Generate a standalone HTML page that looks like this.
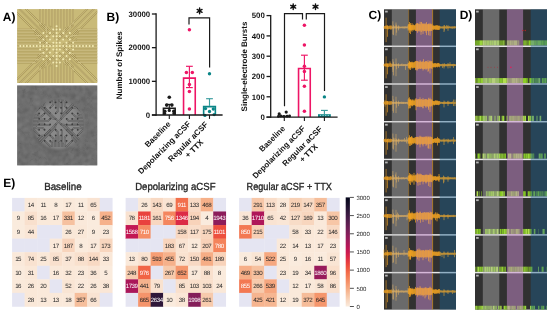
<!DOCTYPE html><html><head><meta charset="utf-8"><style>html,body{margin:0;padding:0;background:#fff;width:550px;height:315px;overflow:hidden}svg{display:block;will-change:transform;filter:blur(0.3px)}text{font-family:"Liberation Sans",sans-serif;text-rendering:geometricPrecision}</style></head><body>
<svg width="550" height="315" viewBox="0 0 550 315">
<rect width="550" height="315" fill="#fff"/>
<text x="2.8" y="20.6" font-size="12" font-weight="bold" fill="#000">A)</text>
<text x="106.6" y="20.6" font-size="12" font-weight="bold" fill="#000">B)</text>
<text x="368.6" y="19.3" font-size="12" font-weight="bold" fill="#000">C)</text>
<text x="459.7" y="18.9" font-size="12" font-weight="bold" fill="#000">D)</text>
<text x="3.2" y="187.1" font-size="12" font-weight="bold" fill="#000">E)</text>
<defs><clipPath id="gclip"><rect x="17.1" y="9.1" width="80.2" height="73.9"/></clipPath><clipPath id="pclip"><rect x="17.1" y="85.4" width="80.2" height="80.0"/></clipPath><clipPath id="oclip"><circle cx="58.3" cy="124.8" r="25.5"/></clipPath><filter id="blr" x="-5%" y="-5%" width="110%" height="110%"><feGaussianBlur stdDeviation="0.5"/></filter><filter id="blr2" x="-5%" y="-5%" width="110%" height="110%"><feGaussianBlur stdDeviation="0.8"/></filter><filter id="grain" x="0" y="0" width="100%" height="100%"><feTurbulence type="fractalNoise" baseFrequency="0.35" numOctaves="2" seed="5"/><feColorMatrix type="matrix" values="0 0 0 0 0  0 0 0 0 0  0 0 0 0 0  -1.2 0 0 0 0.9"/></filter><radialGradient id="ograd" cx="0.5" cy="0.5" r="0.5"><stop offset="0" stop-color="#8e8e8e"/><stop offset="0.8" stop-color="#8e8e8e"/><stop offset="1" stop-color="#777777"/></radialGradient></defs>
<rect x="17.1" y="9.1" width="80.2" height="73.9" fill="#c9ba78"/>
<g clip-path="url(#gclip)"><g filter="url(#blr)">
<path d="M41.55,35.35L35.80,29.60L-3.40,29.60M41.55,39.65L34.50,32.60L-3.40,32.60M45.85,39.65L41.80,35.60L-3.40,35.60M41.55,43.95L36.20,38.60L-3.40,38.60M45.85,43.95L43.50,41.60L-3.40,41.60M50.15,43.95L49.50,44.60L-3.40,44.60M41.55,48.25L40.90,47.60L-3.40,47.60M45.85,48.25L43.50,50.60L-3.40,50.60M50.15,48.25L44.80,53.60L-3.40,53.60M41.55,52.55L37.50,56.60L-3.40,56.60M45.85,52.55L38.80,59.60L-3.40,59.60M41.55,56.85L35.80,62.60L-3.40,62.60M45.85,31.05L40.10,25.30L40.10,-13.90M50.15,31.05L43.10,24.00L43.10,-13.90M50.15,35.35L46.10,31.30L46.10,-13.90M54.45,31.05L49.10,25.70L49.10,-13.90M54.45,35.35L52.10,33.00L52.10,-13.90M54.45,39.65L55.10,39.00L55.10,-13.90M58.75,31.05L58.10,30.40L58.10,-13.90M58.75,35.35L61.10,33.00L61.10,-13.90M58.75,39.65L64.10,34.30L64.10,-13.90M63.05,31.05L67.10,27.00L67.10,-13.90M63.05,35.35L70.10,28.30L70.10,-13.90M67.35,31.05L73.10,25.30L73.10,-13.90M71.65,35.35L77.40,29.60L116.60,29.60M71.65,39.65L78.70,32.60L116.60,32.60M67.35,39.65L71.40,35.60L116.60,35.60M71.65,43.95L77.00,38.60L116.60,38.60M67.35,43.95L69.70,41.60L116.60,41.60M63.05,43.95L63.70,44.60L116.60,44.60M71.65,48.25L72.30,47.60L116.60,47.60M67.35,48.25L69.70,50.60L116.60,50.60M63.05,48.25L68.40,53.60L116.60,53.60M71.65,52.55L75.70,56.60L116.60,56.60M67.35,52.55L74.40,59.60L116.60,59.60M71.65,56.85L77.40,62.60L116.60,62.60M45.85,61.15L40.10,66.90L40.10,106.10M50.15,61.15L43.10,68.20L43.10,106.10M50.15,56.85L46.10,60.90L46.10,106.10M54.45,61.15L49.10,66.50L49.10,106.10M54.45,56.85L52.10,59.20L52.10,106.10M54.45,52.55L55.10,53.20L55.10,106.10M58.75,61.15L58.10,61.80L58.10,106.10M58.75,56.85L61.10,59.20L61.10,106.10M58.75,52.55L64.10,57.90L64.10,106.10M63.05,61.15L67.10,65.20L67.10,106.10M63.05,56.85L70.10,63.90L70.10,106.10M67.35,61.15L73.10,66.90L73.10,106.10M45.85,35.35L47.10,30.10L-0.15,-17.15M45.85,56.85L40.60,55.60L-6.65,102.85M50.15,39.65L48.15,37.65L-3.40,-13.90M50.15,52.55L48.15,54.55L-3.40,106.10M54.45,43.95L49.20,45.20L-6.65,-10.65M54.45,48.25L55.70,53.50L-0.15,109.35M58.75,43.95L57.50,38.70L113.35,-17.15M58.75,48.25L64.00,47.00L119.85,102.85M63.05,39.65L65.05,37.65L116.60,-13.90M63.05,52.55L65.05,54.55L116.60,106.10M67.35,35.35L72.60,36.60L119.85,-10.65M67.35,56.85L66.10,62.10L113.35,109.35" stroke="#9c8a4c" stroke-width="1.7" fill="none" opacity="0.8"/>
<path d="M41.55,35.35L35.80,29.60L-3.40,29.60M41.55,39.65L34.50,32.60L-3.40,32.60M45.85,39.65L41.80,35.60L-3.40,35.60M41.55,43.95L36.20,38.60L-3.40,38.60M45.85,43.95L43.50,41.60L-3.40,41.60M50.15,43.95L49.50,44.60L-3.40,44.60M41.55,48.25L40.90,47.60L-3.40,47.60M45.85,48.25L43.50,50.60L-3.40,50.60M50.15,48.25L44.80,53.60L-3.40,53.60M41.55,52.55L37.50,56.60L-3.40,56.60M45.85,52.55L38.80,59.60L-3.40,59.60M41.55,56.85L35.80,62.60L-3.40,62.60M45.85,31.05L40.10,25.30L40.10,-13.90M50.15,31.05L43.10,24.00L43.10,-13.90M50.15,35.35L46.10,31.30L46.10,-13.90M54.45,31.05L49.10,25.70L49.10,-13.90M54.45,35.35L52.10,33.00L52.10,-13.90M54.45,39.65L55.10,39.00L55.10,-13.90M58.75,31.05L58.10,30.40L58.10,-13.90M58.75,35.35L61.10,33.00L61.10,-13.90M58.75,39.65L64.10,34.30L64.10,-13.90M63.05,31.05L67.10,27.00L67.10,-13.90M63.05,35.35L70.10,28.30L70.10,-13.90M67.35,31.05L73.10,25.30L73.10,-13.90M71.65,35.35L77.40,29.60L116.60,29.60M71.65,39.65L78.70,32.60L116.60,32.60M67.35,39.65L71.40,35.60L116.60,35.60M71.65,43.95L77.00,38.60L116.60,38.60M67.35,43.95L69.70,41.60L116.60,41.60M63.05,43.95L63.70,44.60L116.60,44.60M71.65,48.25L72.30,47.60L116.60,47.60M67.35,48.25L69.70,50.60L116.60,50.60M63.05,48.25L68.40,53.60L116.60,53.60M71.65,52.55L75.70,56.60L116.60,56.60M67.35,52.55L74.40,59.60L116.60,59.60M71.65,56.85L77.40,62.60L116.60,62.60M45.85,61.15L40.10,66.90L40.10,106.10M50.15,61.15L43.10,68.20L43.10,106.10M50.15,56.85L46.10,60.90L46.10,106.10M54.45,61.15L49.10,66.50L49.10,106.10M54.45,56.85L52.10,59.20L52.10,106.10M54.45,52.55L55.10,53.20L55.10,106.10M58.75,61.15L58.10,61.80L58.10,106.10M58.75,56.85L61.10,59.20L61.10,106.10M58.75,52.55L64.10,57.90L64.10,106.10M63.05,61.15L67.10,65.20L67.10,106.10M63.05,56.85L70.10,63.90L70.10,106.10M67.35,61.15L73.10,66.90L73.10,106.10M45.85,35.35L47.10,30.10L-0.15,-17.15M45.85,56.85L40.60,55.60L-6.65,102.85M50.15,39.65L48.15,37.65L-3.40,-13.90M50.15,52.55L48.15,54.55L-3.40,106.10M54.45,43.95L49.20,45.20L-6.65,-10.65M54.45,48.25L55.70,53.50L-0.15,109.35M58.75,43.95L57.50,38.70L113.35,-17.15M58.75,48.25L64.00,47.00L119.85,102.85M63.05,39.65L65.05,37.65L116.60,-13.90M63.05,52.55L65.05,54.55L116.60,106.10M67.35,35.35L72.60,36.60L119.85,-10.65M67.35,56.85L66.10,62.10L113.35,109.35" stroke="#d8cb90" stroke-width="0.75" fill="none"/>
<path d="M19.30,46.10a1.0,1.0 0 1,0 2.0,0a1.0,1.0 0 1,0 -2.0,0M22.60,46.10a1.0,1.0 0 1,0 2.0,0a1.0,1.0 0 1,0 -2.0,0M25.90,46.10a1.0,1.0 0 1,0 2.0,0a1.0,1.0 0 1,0 -2.0,0M29.20,46.10a1.0,1.0 0 1,0 2.0,0a1.0,1.0 0 1,0 -2.0,0M32.50,46.10a1.0,1.0 0 1,0 2.0,0a1.0,1.0 0 1,0 -2.0,0M35.80,46.10a1.0,1.0 0 1,0 2.0,0a1.0,1.0 0 1,0 -2.0,0M39.10,42.80a1.0,1.0 0 1,0 2.0,0a1.0,1.0 0 1,0 -2.0,0M39.10,46.10a1.0,1.0 0 1,0 2.0,0a1.0,1.0 0 1,0 -2.0,0M39.10,49.40a1.0,1.0 0 1,0 2.0,0a1.0,1.0 0 1,0 -2.0,0M42.40,32.90a1.0,1.0 0 1,0 2.0,0a1.0,1.0 0 1,0 -2.0,0M42.40,39.50a1.0,1.0 0 1,0 2.0,0a1.0,1.0 0 1,0 -2.0,0M42.40,46.10a1.0,1.0 0 1,0 2.0,0a1.0,1.0 0 1,0 -2.0,0M42.40,52.70a1.0,1.0 0 1,0 2.0,0a1.0,1.0 0 1,0 -2.0,0M42.40,59.30a1.0,1.0 0 1,0 2.0,0a1.0,1.0 0 1,0 -2.0,0M45.70,36.20a1.0,1.0 0 1,0 2.0,0a1.0,1.0 0 1,0 -2.0,0M45.70,42.80a1.0,1.0 0 1,0 2.0,0a1.0,1.0 0 1,0 -2.0,0M45.70,46.10a1.0,1.0 0 1,0 2.0,0a1.0,1.0 0 1,0 -2.0,0M45.70,49.40a1.0,1.0 0 1,0 2.0,0a1.0,1.0 0 1,0 -2.0,0M45.70,56.00a1.0,1.0 0 1,0 2.0,0a1.0,1.0 0 1,0 -2.0,0M49.00,32.90a1.0,1.0 0 1,0 2.0,0a1.0,1.0 0 1,0 -2.0,0M49.00,39.50a1.0,1.0 0 1,0 2.0,0a1.0,1.0 0 1,0 -2.0,0M49.00,46.10a1.0,1.0 0 1,0 2.0,0a1.0,1.0 0 1,0 -2.0,0M49.00,52.70a1.0,1.0 0 1,0 2.0,0a1.0,1.0 0 1,0 -2.0,0M49.00,59.30a1.0,1.0 0 1,0 2.0,0a1.0,1.0 0 1,0 -2.0,0M52.30,29.60a1.0,1.0 0 1,0 2.0,0a1.0,1.0 0 1,0 -2.0,0M52.30,36.20a1.0,1.0 0 1,0 2.0,0a1.0,1.0 0 1,0 -2.0,0M52.30,42.80a1.0,1.0 0 1,0 2.0,0a1.0,1.0 0 1,0 -2.0,0M52.30,46.10a1.0,1.0 0 1,0 2.0,0a1.0,1.0 0 1,0 -2.0,0M52.30,49.40a1.0,1.0 0 1,0 2.0,0a1.0,1.0 0 1,0 -2.0,0M52.30,56.00a1.0,1.0 0 1,0 2.0,0a1.0,1.0 0 1,0 -2.0,0M52.30,62.60a1.0,1.0 0 1,0 2.0,0a1.0,1.0 0 1,0 -2.0,0M55.60,26.30a1.0,1.0 0 1,0 2.0,0a1.0,1.0 0 1,0 -2.0,0M55.60,29.60a1.0,1.0 0 1,0 2.0,0a1.0,1.0 0 1,0 -2.0,0M55.60,32.90a1.0,1.0 0 1,0 2.0,0a1.0,1.0 0 1,0 -2.0,0M55.60,36.20a1.0,1.0 0 1,0 2.0,0a1.0,1.0 0 1,0 -2.0,0M55.60,39.50a1.0,1.0 0 1,0 2.0,0a1.0,1.0 0 1,0 -2.0,0M55.60,42.80a1.0,1.0 0 1,0 2.0,0a1.0,1.0 0 1,0 -2.0,0M55.60,46.10a1.0,1.0 0 1,0 2.0,0a1.0,1.0 0 1,0 -2.0,0M55.60,49.40a1.0,1.0 0 1,0 2.0,0a1.0,1.0 0 1,0 -2.0,0M55.60,52.70a1.0,1.0 0 1,0 2.0,0a1.0,1.0 0 1,0 -2.0,0M55.60,56.00a1.0,1.0 0 1,0 2.0,0a1.0,1.0 0 1,0 -2.0,0M55.60,59.30a1.0,1.0 0 1,0 2.0,0a1.0,1.0 0 1,0 -2.0,0M55.60,62.60a1.0,1.0 0 1,0 2.0,0a1.0,1.0 0 1,0 -2.0,0M55.60,65.90a1.0,1.0 0 1,0 2.0,0a1.0,1.0 0 1,0 -2.0,0M58.90,29.60a1.0,1.0 0 1,0 2.0,0a1.0,1.0 0 1,0 -2.0,0M58.90,36.20a1.0,1.0 0 1,0 2.0,0a1.0,1.0 0 1,0 -2.0,0M58.90,42.80a1.0,1.0 0 1,0 2.0,0a1.0,1.0 0 1,0 -2.0,0M58.90,46.10a1.0,1.0 0 1,0 2.0,0a1.0,1.0 0 1,0 -2.0,0M58.90,49.40a1.0,1.0 0 1,0 2.0,0a1.0,1.0 0 1,0 -2.0,0M58.90,56.00a1.0,1.0 0 1,0 2.0,0a1.0,1.0 0 1,0 -2.0,0M58.90,62.60a1.0,1.0 0 1,0 2.0,0a1.0,1.0 0 1,0 -2.0,0M62.20,32.90a1.0,1.0 0 1,0 2.0,0a1.0,1.0 0 1,0 -2.0,0M62.20,39.50a1.0,1.0 0 1,0 2.0,0a1.0,1.0 0 1,0 -2.0,0M62.20,46.10a1.0,1.0 0 1,0 2.0,0a1.0,1.0 0 1,0 -2.0,0M62.20,52.70a1.0,1.0 0 1,0 2.0,0a1.0,1.0 0 1,0 -2.0,0M62.20,59.30a1.0,1.0 0 1,0 2.0,0a1.0,1.0 0 1,0 -2.0,0M65.50,36.20a1.0,1.0 0 1,0 2.0,0a1.0,1.0 0 1,0 -2.0,0M65.50,42.80a1.0,1.0 0 1,0 2.0,0a1.0,1.0 0 1,0 -2.0,0M65.50,46.10a1.0,1.0 0 1,0 2.0,0a1.0,1.0 0 1,0 -2.0,0M65.50,49.40a1.0,1.0 0 1,0 2.0,0a1.0,1.0 0 1,0 -2.0,0M65.50,56.00a1.0,1.0 0 1,0 2.0,0a1.0,1.0 0 1,0 -2.0,0M68.80,32.90a1.0,1.0 0 1,0 2.0,0a1.0,1.0 0 1,0 -2.0,0M68.80,39.50a1.0,1.0 0 1,0 2.0,0a1.0,1.0 0 1,0 -2.0,0M68.80,46.10a1.0,1.0 0 1,0 2.0,0a1.0,1.0 0 1,0 -2.0,0M68.80,52.70a1.0,1.0 0 1,0 2.0,0a1.0,1.0 0 1,0 -2.0,0M68.80,59.30a1.0,1.0 0 1,0 2.0,0a1.0,1.0 0 1,0 -2.0,0M72.10,42.80a1.0,1.0 0 1,0 2.0,0a1.0,1.0 0 1,0 -2.0,0M72.10,46.10a1.0,1.0 0 1,0 2.0,0a1.0,1.0 0 1,0 -2.0,0M72.10,49.40a1.0,1.0 0 1,0 2.0,0a1.0,1.0 0 1,0 -2.0,0M75.40,46.10a1.0,1.0 0 1,0 2.0,0a1.0,1.0 0 1,0 -2.0,0M78.70,46.10a1.0,1.0 0 1,0 2.0,0a1.0,1.0 0 1,0 -2.0,0M82.00,46.10a1.0,1.0 0 1,0 2.0,0a1.0,1.0 0 1,0 -2.0,0M85.30,46.10a1.0,1.0 0 1,0 2.0,0a1.0,1.0 0 1,0 -2.0,0M88.60,46.10a1.0,1.0 0 1,0 2.0,0a1.0,1.0 0 1,0 -2.0,0M91.90,46.10a1.0,1.0 0 1,0 2.0,0a1.0,1.0 0 1,0 -2.0,0" fill="#f3ebb5"/>
</g></g>
<rect x="17.1" y="85.4" width="80.2" height="80.0" fill="#777777"/>
<g clip-path="url(#pclip)">
<g filter="url(#blr2)">
<circle cx="36.2" cy="128.9" r="1.3" fill="#686868" opacity="0.45"/>
<circle cx="55.1" cy="131.9" r="1.7" fill="#909090" opacity="0.45"/>
<circle cx="37.9" cy="104.1" r="2.4" fill="#909090" opacity="0.45"/>
<circle cx="60.5" cy="129.4" r="1.3" fill="#8a8a8a" opacity="0.45"/>
<circle cx="35.7" cy="97.5" r="2.3" fill="#909090" opacity="0.45"/>
<circle cx="76.5" cy="139.1" r="0.7" fill="#686868" opacity="0.45"/>
<circle cx="20.5" cy="147.8" r="2.1" fill="#747474" opacity="0.45"/>
<circle cx="55.0" cy="142.9" r="2.2" fill="#858585" opacity="0.45"/>
<circle cx="80.3" cy="119.6" r="1.9" fill="#686868" opacity="0.45"/>
<circle cx="52.8" cy="160.2" r="2.2" fill="#6e6e6e" opacity="0.45"/>
<circle cx="20.0" cy="125.0" r="1.1" fill="#858585" opacity="0.45"/>
<circle cx="52.1" cy="135.5" r="1.1" fill="#686868" opacity="0.45"/>
<circle cx="83.9" cy="131.3" r="1.6" fill="#909090" opacity="0.45"/>
<circle cx="64.0" cy="157.7" r="1.8" fill="#6e6e6e" opacity="0.45"/>
<circle cx="85.8" cy="164.7" r="1.8" fill="#8a8a8a" opacity="0.45"/>
<circle cx="73.1" cy="111.5" r="1.6" fill="#686868" opacity="0.45"/>
<circle cx="62.7" cy="142.5" r="1.0" fill="#686868" opacity="0.45"/>
<circle cx="38.5" cy="95.4" r="1.5" fill="#858585" opacity="0.45"/>
<circle cx="96.5" cy="92.5" r="2.0" fill="#909090" opacity="0.45"/>
<circle cx="89.0" cy="87.0" r="1.4" fill="#909090" opacity="0.45"/>
<circle cx="87.1" cy="88.9" r="1.7" fill="#6e6e6e" opacity="0.45"/>
<circle cx="47.4" cy="132.3" r="1.6" fill="#747474" opacity="0.45"/>
<circle cx="57.6" cy="165.3" r="1.2" fill="#6e6e6e" opacity="0.45"/>
<circle cx="25.8" cy="128.2" r="2.3" fill="#909090" opacity="0.45"/>
<circle cx="40.5" cy="106.5" r="1.8" fill="#747474" opacity="0.45"/>
<circle cx="42.3" cy="162.1" r="2.2" fill="#909090" opacity="0.45"/>
<circle cx="47.3" cy="155.0" r="1.3" fill="#686868" opacity="0.45"/>
<circle cx="71.7" cy="93.6" r="2.4" fill="#686868" opacity="0.45"/>
<circle cx="38.9" cy="136.1" r="1.9" fill="#747474" opacity="0.45"/>
<circle cx="52.2" cy="106.1" r="1.1" fill="#747474" opacity="0.45"/>
<circle cx="18.0" cy="118.6" r="1.6" fill="#6e6e6e" opacity="0.45"/>
<circle cx="47.3" cy="132.5" r="0.8" fill="#858585" opacity="0.45"/>
<circle cx="67.4" cy="122.7" r="1.8" fill="#747474" opacity="0.45"/>
<circle cx="65.9" cy="107.7" r="1.5" fill="#686868" opacity="0.45"/>
<circle cx="22.0" cy="139.5" r="2.3" fill="#747474" opacity="0.45"/>
<circle cx="67.5" cy="109.3" r="1.7" fill="#8a8a8a" opacity="0.45"/>
<circle cx="46.3" cy="110.4" r="1.3" fill="#686868" opacity="0.45"/>
<circle cx="38.3" cy="148.4" r="0.8" fill="#6e6e6e" opacity="0.45"/>
<circle cx="95.0" cy="140.1" r="0.8" fill="#686868" opacity="0.45"/>
<circle cx="34.9" cy="149.7" r="1.0" fill="#8a8a8a" opacity="0.45"/>
<circle cx="71.5" cy="137.4" r="0.8" fill="#686868" opacity="0.45"/>
<circle cx="42.9" cy="112.1" r="2.1" fill="#909090" opacity="0.45"/>
<circle cx="82.0" cy="162.3" r="0.7" fill="#858585" opacity="0.45"/>
<circle cx="69.2" cy="156.2" r="1.4" fill="#8a8a8a" opacity="0.45"/>
<circle cx="80.2" cy="88.1" r="2.3" fill="#747474" opacity="0.45"/>
<circle cx="81.8" cy="152.5" r="0.9" fill="#747474" opacity="0.45"/>
<circle cx="44.4" cy="151.6" r="0.8" fill="#686868" opacity="0.45"/>
<circle cx="44.8" cy="95.8" r="1.1" fill="#747474" opacity="0.45"/>
<circle cx="54.4" cy="136.1" r="1.1" fill="#686868" opacity="0.45"/>
<circle cx="49.9" cy="159.0" r="0.9" fill="#6e6e6e" opacity="0.45"/>
<circle cx="55.4" cy="152.0" r="1.7" fill="#686868" opacity="0.45"/>
<circle cx="51.9" cy="161.4" r="2.3" fill="#8a8a8a" opacity="0.45"/>
<circle cx="19.7" cy="121.9" r="2.0" fill="#858585" opacity="0.45"/>
<circle cx="58.7" cy="108.5" r="1.2" fill="#8a8a8a" opacity="0.45"/>
<circle cx="86.2" cy="154.0" r="2.3" fill="#6e6e6e" opacity="0.45"/>
<circle cx="82.1" cy="89.0" r="2.2" fill="#858585" opacity="0.45"/>
<circle cx="58.2" cy="101.3" r="2.2" fill="#909090" opacity="0.45"/>
<circle cx="63.4" cy="86.5" r="1.9" fill="#8a8a8a" opacity="0.45"/>
<circle cx="57.5" cy="104.5" r="0.6" fill="#686868" opacity="0.45"/>
<circle cx="50.3" cy="160.5" r="1.7" fill="#747474" opacity="0.45"/>
<circle cx="27.2" cy="163.2" r="1.6" fill="#6e6e6e" opacity="0.45"/>
<circle cx="45.3" cy="101.2" r="1.6" fill="#6e6e6e" opacity="0.45"/>
<circle cx="30.8" cy="148.7" r="2.3" fill="#8a8a8a" opacity="0.45"/>
<circle cx="83.1" cy="86.0" r="1.7" fill="#909090" opacity="0.45"/>
<circle cx="21.1" cy="107.1" r="1.1" fill="#686868" opacity="0.45"/>
<circle cx="58.8" cy="89.5" r="1.2" fill="#6e6e6e" opacity="0.45"/>
<circle cx="85.8" cy="147.4" r="0.7" fill="#6e6e6e" opacity="0.45"/>
<circle cx="22.6" cy="163.4" r="2.1" fill="#6e6e6e" opacity="0.45"/>
<circle cx="58.4" cy="124.6" r="0.9" fill="#6e6e6e" opacity="0.45"/>
<circle cx="45.3" cy="137.2" r="1.7" fill="#747474" opacity="0.45"/>
<circle cx="38.3" cy="164.4" r="1.4" fill="#8a8a8a" opacity="0.45"/>
<circle cx="61.7" cy="142.7" r="1.3" fill="#6e6e6e" opacity="0.45"/>
<circle cx="62.6" cy="88.8" r="1.4" fill="#858585" opacity="0.45"/>
<circle cx="79.9" cy="115.8" r="2.0" fill="#686868" opacity="0.45"/>
<circle cx="88.2" cy="89.6" r="1.7" fill="#858585" opacity="0.45"/>
<circle cx="42.4" cy="161.4" r="1.4" fill="#6e6e6e" opacity="0.45"/>
<circle cx="36.8" cy="128.3" r="1.9" fill="#6e6e6e" opacity="0.45"/>
<circle cx="81.5" cy="103.4" r="0.8" fill="#6e6e6e" opacity="0.45"/>
<circle cx="92.2" cy="115.3" r="2.2" fill="#747474" opacity="0.45"/>
<circle cx="26.8" cy="140.6" r="2.3" fill="#858585" opacity="0.45"/>
<circle cx="70.2" cy="156.4" r="2.0" fill="#858585" opacity="0.45"/>
<circle cx="25.8" cy="110.9" r="1.6" fill="#686868" opacity="0.45"/>
<circle cx="74.6" cy="123.3" r="1.0" fill="#909090" opacity="0.45"/>
<circle cx="20.7" cy="92.7" r="0.8" fill="#909090" opacity="0.45"/>
<circle cx="31.5" cy="87.3" r="2.1" fill="#6e6e6e" opacity="0.45"/>
<circle cx="19.1" cy="94.6" r="1.5" fill="#858585" opacity="0.45"/>
<circle cx="93.5" cy="131.7" r="2.0" fill="#6e6e6e" opacity="0.45"/>
<circle cx="97.0" cy="130.5" r="1.6" fill="#8a8a8a" opacity="0.45"/>
<circle cx="25.7" cy="145.3" r="2.3" fill="#6e6e6e" opacity="0.45"/>
<circle cx="61.2" cy="155.0" r="0.9" fill="#6e6e6e" opacity="0.45"/>
<circle cx="36.5" cy="99.8" r="1.0" fill="#686868" opacity="0.45"/>
<circle cx="73.2" cy="160.8" r="1.1" fill="#686868" opacity="0.45"/>
<circle cx="48.9" cy="113.4" r="1.4" fill="#6e6e6e" opacity="0.45"/>
<circle cx="47.2" cy="104.2" r="2.3" fill="#858585" opacity="0.45"/>
<circle cx="94.7" cy="118.6" r="1.6" fill="#686868" opacity="0.45"/>
<circle cx="71.1" cy="126.8" r="1.5" fill="#858585" opacity="0.45"/>
<circle cx="49.3" cy="156.4" r="0.9" fill="#909090" opacity="0.45"/>
<circle cx="77.1" cy="158.7" r="1.5" fill="#909090" opacity="0.45"/>
<circle cx="64.1" cy="154.0" r="0.8" fill="#8a8a8a" opacity="0.45"/>
<circle cx="28.9" cy="126.6" r="2.3" fill="#858585" opacity="0.45"/>
<circle cx="60.3" cy="147.8" r="1.8" fill="#909090" opacity="0.45"/>
<circle cx="64.8" cy="132.2" r="2.4" fill="#8a8a8a" opacity="0.45"/>
<circle cx="41.7" cy="106.8" r="2.0" fill="#8a8a8a" opacity="0.45"/>
<circle cx="30.9" cy="114.2" r="1.2" fill="#8a8a8a" opacity="0.45"/>
<circle cx="50.7" cy="141.2" r="1.9" fill="#8a8a8a" opacity="0.45"/>
<circle cx="54.6" cy="152.2" r="2.1" fill="#686868" opacity="0.45"/>
<circle cx="19.3" cy="164.8" r="0.7" fill="#909090" opacity="0.45"/>
<circle cx="79.9" cy="155.9" r="0.7" fill="#8a8a8a" opacity="0.45"/>
<circle cx="88.6" cy="137.3" r="2.0" fill="#6e6e6e" opacity="0.45"/>
<circle cx="94.0" cy="153.7" r="1.0" fill="#8a8a8a" opacity="0.45"/>
<circle cx="79.3" cy="96.4" r="1.7" fill="#858585" opacity="0.45"/>
<circle cx="86.0" cy="157.4" r="1.1" fill="#6e6e6e" opacity="0.45"/>
<circle cx="42.2" cy="119.3" r="1.9" fill="#6e6e6e" opacity="0.45"/>
<circle cx="26.6" cy="106.5" r="2.2" fill="#6e6e6e" opacity="0.45"/>
<circle cx="45.7" cy="131.8" r="1.8" fill="#6e6e6e" opacity="0.45"/>
<circle cx="19.5" cy="111.9" r="1.3" fill="#6e6e6e" opacity="0.45"/>
<circle cx="33.9" cy="132.2" r="2.3" fill="#909090" opacity="0.45"/>
<circle cx="27.2" cy="110.9" r="2.2" fill="#6e6e6e" opacity="0.45"/>
<circle cx="70.5" cy="94.4" r="2.2" fill="#747474" opacity="0.45"/>
<circle cx="24.9" cy="160.7" r="1.3" fill="#747474" opacity="0.45"/>
<circle cx="77.8" cy="109.0" r="1.8" fill="#858585" opacity="0.45"/>
<circle cx="92.8" cy="150.8" r="0.8" fill="#747474" opacity="0.45"/>
<circle cx="71.1" cy="128.3" r="0.8" fill="#909090" opacity="0.45"/>
<circle cx="57.9" cy="90.2" r="1.1" fill="#858585" opacity="0.45"/>
<circle cx="62.5" cy="100.0" r="1.8" fill="#858585" opacity="0.45"/>
<circle cx="29.1" cy="115.1" r="2.3" fill="#909090" opacity="0.45"/>
<circle cx="27.0" cy="159.9" r="0.9" fill="#747474" opacity="0.45"/>
<circle cx="68.8" cy="137.4" r="1.4" fill="#747474" opacity="0.45"/>
<circle cx="69.0" cy="122.0" r="1.2" fill="#8a8a8a" opacity="0.45"/>
<circle cx="73.7" cy="94.0" r="0.9" fill="#686868" opacity="0.45"/>
<circle cx="60.7" cy="144.6" r="1.2" fill="#747474" opacity="0.45"/>
<circle cx="38.8" cy="89.7" r="0.8" fill="#909090" opacity="0.45"/>
<circle cx="57.6" cy="105.2" r="2.0" fill="#747474" opacity="0.45"/>
<circle cx="87.3" cy="161.0" r="1.4" fill="#6e6e6e" opacity="0.45"/>
<circle cx="45.4" cy="153.2" r="0.8" fill="#747474" opacity="0.45"/>
<circle cx="64.4" cy="139.9" r="1.6" fill="#858585" opacity="0.45"/>
<circle cx="26.1" cy="141.3" r="1.6" fill="#858585" opacity="0.45"/>
<circle cx="76.7" cy="150.7" r="1.9" fill="#686868" opacity="0.45"/>
<circle cx="65.9" cy="154.2" r="2.0" fill="#686868" opacity="0.45"/>
<circle cx="59.4" cy="130.9" r="1.0" fill="#747474" opacity="0.45"/>
<circle cx="46.7" cy="108.8" r="2.1" fill="#909090" opacity="0.45"/>
<circle cx="88.6" cy="161.3" r="1.3" fill="#686868" opacity="0.45"/>
<circle cx="89.8" cy="110.2" r="1.5" fill="#686868" opacity="0.45"/>
<circle cx="72.2" cy="109.4" r="2.1" fill="#909090" opacity="0.45"/>
<circle cx="19.5" cy="100.6" r="1.7" fill="#6e6e6e" opacity="0.45"/>
<circle cx="78.9" cy="138.4" r="1.5" fill="#686868" opacity="0.45"/>
<circle cx="67.2" cy="101.3" r="2.0" fill="#8a8a8a" opacity="0.45"/>
<circle cx="20.1" cy="125.4" r="1.8" fill="#909090" opacity="0.45"/>
<circle cx="26.0" cy="108.1" r="1.8" fill="#8a8a8a" opacity="0.45"/>
<circle cx="28.0" cy="148.8" r="1.7" fill="#6e6e6e" opacity="0.45"/>
<circle cx="19.1" cy="134.9" r="1.5" fill="#909090" opacity="0.45"/>
<circle cx="60.3" cy="159.8" r="1.2" fill="#747474" opacity="0.45"/>
<circle cx="72.8" cy="96.1" r="2.1" fill="#686868" opacity="0.45"/>
<circle cx="79.3" cy="88.1" r="0.7" fill="#747474" opacity="0.45"/>
<circle cx="97.1" cy="101.8" r="0.7" fill="#8a8a8a" opacity="0.45"/>
<circle cx="52.1" cy="145.9" r="1.5" fill="#6e6e6e" opacity="0.45"/>
<circle cx="80.2" cy="118.1" r="2.1" fill="#858585" opacity="0.45"/>
<circle cx="30.0" cy="125.2" r="1.9" fill="#686868" opacity="0.45"/>
<circle cx="85.4" cy="102.1" r="1.5" fill="#6e6e6e" opacity="0.45"/>
<circle cx="54.3" cy="146.0" r="1.3" fill="#8a8a8a" opacity="0.45"/>
<circle cx="53.6" cy="88.4" r="1.1" fill="#747474" opacity="0.45"/>
<circle cx="53.0" cy="114.3" r="1.3" fill="#6e6e6e" opacity="0.45"/>
<circle cx="81.6" cy="106.1" r="1.3" fill="#909090" opacity="0.45"/>
<circle cx="59.9" cy="98.1" r="0.6" fill="#686868" opacity="0.45"/>
<circle cx="49.5" cy="98.9" r="0.6" fill="#6e6e6e" opacity="0.45"/>
<circle cx="65.9" cy="120.8" r="0.9" fill="#6e6e6e" opacity="0.45"/>
<circle cx="49.4" cy="110.8" r="0.7" fill="#858585" opacity="0.45"/>
<circle cx="21.2" cy="117.7" r="1.3" fill="#6e6e6e" opacity="0.45"/>
<circle cx="90.0" cy="156.0" r="1.0" fill="#909090" opacity="0.45"/>
<circle cx="55.2" cy="98.6" r="1.7" fill="#747474" opacity="0.45"/>
<circle cx="90.3" cy="133.0" r="2.1" fill="#747474" opacity="0.45"/>
<circle cx="39.2" cy="148.4" r="1.4" fill="#747474" opacity="0.45"/>
<circle cx="56.3" cy="130.3" r="0.7" fill="#747474" opacity="0.45"/>
<circle cx="67.6" cy="113.0" r="0.8" fill="#858585" opacity="0.45"/>
<circle cx="52.0" cy="92.6" r="1.7" fill="#6e6e6e" opacity="0.45"/>
<circle cx="19.5" cy="92.6" r="0.9" fill="#6e6e6e" opacity="0.45"/>
<circle cx="55.7" cy="100.5" r="1.5" fill="#747474" opacity="0.45"/>
<circle cx="33.2" cy="163.3" r="1.5" fill="#909090" opacity="0.45"/>
<circle cx="90.7" cy="160.6" r="0.7" fill="#747474" opacity="0.45"/>
<circle cx="77.4" cy="135.9" r="1.3" fill="#747474" opacity="0.45"/>
<circle cx="31.9" cy="118.4" r="1.5" fill="#686868" opacity="0.45"/>
<circle cx="43.9" cy="139.8" r="2.3" fill="#8a8a8a" opacity="0.45"/>
<circle cx="84.3" cy="154.6" r="1.3" fill="#686868" opacity="0.45"/>
<circle cx="45.9" cy="100.1" r="2.0" fill="#909090" opacity="0.45"/>
<circle cx="35.5" cy="147.8" r="1.5" fill="#747474" opacity="0.45"/>
<circle cx="82.9" cy="126.0" r="2.0" fill="#858585" opacity="0.45"/>
<circle cx="73.0" cy="161.4" r="0.7" fill="#8a8a8a" opacity="0.45"/>
<circle cx="74.1" cy="87.2" r="1.4" fill="#858585" opacity="0.45"/>
<circle cx="71.4" cy="93.2" r="1.0" fill="#858585" opacity="0.45"/>
<circle cx="21.6" cy="134.4" r="0.7" fill="#909090" opacity="0.45"/>
<circle cx="89.0" cy="144.0" r="1.2" fill="#747474" opacity="0.45"/>
<circle cx="17.2" cy="101.0" r="2.0" fill="#6e6e6e" opacity="0.45"/>
<circle cx="44.2" cy="110.3" r="1.4" fill="#858585" opacity="0.45"/>
<circle cx="34.0" cy="140.5" r="2.4" fill="#858585" opacity="0.45"/>
<circle cx="28.6" cy="164.2" r="0.8" fill="#747474" opacity="0.45"/>
<circle cx="94.7" cy="103.0" r="1.6" fill="#909090" opacity="0.45"/>
<circle cx="57.6" cy="158.0" r="1.2" fill="#686868" opacity="0.45"/>
<circle cx="79.8" cy="122.8" r="1.7" fill="#6e6e6e" opacity="0.45"/>
<circle cx="83.3" cy="94.4" r="0.6" fill="#6e6e6e" opacity="0.45"/>
<circle cx="33.1" cy="156.9" r="0.8" fill="#909090" opacity="0.45"/>
<circle cx="49.1" cy="151.4" r="1.8" fill="#6e6e6e" opacity="0.45"/>
<circle cx="68.6" cy="146.3" r="2.2" fill="#747474" opacity="0.45"/>
<circle cx="49.4" cy="138.3" r="2.0" fill="#747474" opacity="0.45"/>
<circle cx="84.1" cy="133.0" r="2.1" fill="#8a8a8a" opacity="0.45"/>
<circle cx="26.5" cy="86.0" r="1.1" fill="#858585" opacity="0.45"/>
<circle cx="23.3" cy="113.1" r="1.5" fill="#6e6e6e" opacity="0.45"/>
<circle cx="91.2" cy="140.3" r="1.3" fill="#858585" opacity="0.45"/>
<circle cx="22.5" cy="126.9" r="1.0" fill="#6e6e6e" opacity="0.45"/>
<circle cx="44.0" cy="119.9" r="0.8" fill="#8a8a8a" opacity="0.45"/>
<circle cx="43.0" cy="145.4" r="1.0" fill="#8a8a8a" opacity="0.45"/>
<circle cx="87.3" cy="164.3" r="1.7" fill="#858585" opacity="0.45"/>
<circle cx="60.1" cy="118.9" r="2.3" fill="#686868" opacity="0.45"/>
<circle cx="93.3" cy="124.1" r="2.0" fill="#909090" opacity="0.45"/>
<circle cx="54.7" cy="132.4" r="0.7" fill="#6e6e6e" opacity="0.45"/>
<circle cx="31.9" cy="93.1" r="1.9" fill="#747474" opacity="0.45"/>
<circle cx="57.5" cy="90.3" r="1.4" fill="#8a8a8a" opacity="0.45"/>
<circle cx="76.9" cy="107.5" r="1.4" fill="#747474" opacity="0.45"/>
<circle cx="54.6" cy="101.1" r="2.0" fill="#8a8a8a" opacity="0.45"/>
<circle cx="25.4" cy="109.3" r="1.3" fill="#6e6e6e" opacity="0.45"/>
<circle cx="33.6" cy="124.4" r="2.1" fill="#747474" opacity="0.45"/>
<circle cx="95.4" cy="163.8" r="2.2" fill="#747474" opacity="0.45"/>
<circle cx="92.7" cy="119.9" r="2.3" fill="#909090" opacity="0.45"/>
<circle cx="59.3" cy="128.8" r="1.2" fill="#747474" opacity="0.45"/>
<circle cx="40.0" cy="122.5" r="2.2" fill="#747474" opacity="0.45"/>
<circle cx="77.1" cy="159.8" r="1.5" fill="#6e6e6e" opacity="0.45"/>
<circle cx="27.6" cy="127.9" r="1.6" fill="#8a8a8a" opacity="0.45"/>
<circle cx="93.3" cy="85.6" r="2.4" fill="#909090" opacity="0.45"/>
<circle cx="45.6" cy="162.7" r="1.3" fill="#686868" opacity="0.45"/>
<circle cx="19.9" cy="100.2" r="0.6" fill="#909090" opacity="0.45"/>
<circle cx="89.6" cy="152.2" r="1.7" fill="#6e6e6e" opacity="0.45"/>
<circle cx="53.2" cy="106.3" r="1.8" fill="#909090" opacity="0.45"/>
<circle cx="50.6" cy="106.2" r="0.7" fill="#909090" opacity="0.45"/>
<circle cx="20.1" cy="165.1" r="0.9" fill="#686868" opacity="0.45"/>
<circle cx="36.9" cy="96.3" r="2.0" fill="#909090" opacity="0.45"/>
<circle cx="57.9" cy="151.9" r="1.6" fill="#747474" opacity="0.45"/>
<circle cx="18.4" cy="89.0" r="1.5" fill="#6e6e6e" opacity="0.45"/>
<circle cx="89.0" cy="157.9" r="1.4" fill="#858585" opacity="0.45"/>
<circle cx="77.6" cy="154.2" r="2.4" fill="#686868" opacity="0.45"/>
<circle cx="50.3" cy="126.9" r="0.9" fill="#8a8a8a" opacity="0.45"/>
<circle cx="23.0" cy="96.6" r="2.1" fill="#6e6e6e" opacity="0.45"/>
<circle cx="49.8" cy="113.6" r="1.4" fill="#747474" opacity="0.45"/>
<circle cx="53.4" cy="162.1" r="0.9" fill="#747474" opacity="0.45"/>
<circle cx="28.3" cy="88.4" r="1.5" fill="#8a8a8a" opacity="0.45"/>
<circle cx="83.5" cy="159.9" r="1.7" fill="#6e6e6e" opacity="0.45"/>
<circle cx="42.5" cy="133.2" r="0.8" fill="#8a8a8a" opacity="0.45"/>
<circle cx="39.5" cy="142.2" r="2.2" fill="#6e6e6e" opacity="0.45"/>
<circle cx="52.0" cy="91.5" r="0.7" fill="#909090" opacity="0.45"/>
<circle cx="88.9" cy="162.2" r="1.8" fill="#8a8a8a" opacity="0.45"/>
<circle cx="42.1" cy="113.1" r="1.8" fill="#909090" opacity="0.45"/>
<circle cx="42.5" cy="107.1" r="2.3" fill="#747474" opacity="0.45"/>
<circle cx="42.6" cy="116.8" r="1.1" fill="#8a8a8a" opacity="0.45"/>
<circle cx="50.6" cy="118.5" r="2.2" fill="#909090" opacity="0.45"/>
<circle cx="35.5" cy="101.4" r="0.7" fill="#686868" opacity="0.45"/>
<circle cx="26.3" cy="136.0" r="0.8" fill="#6e6e6e" opacity="0.45"/>
<circle cx="92.7" cy="163.3" r="1.8" fill="#909090" opacity="0.45"/>
<circle cx="38.6" cy="124.0" r="1.1" fill="#686868" opacity="0.45"/>
<circle cx="62.0" cy="99.4" r="1.5" fill="#8a8a8a" opacity="0.45"/>
<circle cx="28.7" cy="157.8" r="0.9" fill="#909090" opacity="0.45"/>
<circle cx="71.2" cy="137.2" r="0.9" fill="#6e6e6e" opacity="0.45"/>
<circle cx="31.6" cy="135.5" r="1.2" fill="#858585" opacity="0.45"/>
<circle cx="83.1" cy="155.4" r="0.7" fill="#8a8a8a" opacity="0.45"/>
<circle cx="60.0" cy="116.0" r="0.8" fill="#909090" opacity="0.45"/>
<circle cx="31.7" cy="87.5" r="0.8" fill="#6e6e6e" opacity="0.45"/>
<circle cx="28.7" cy="95.6" r="1.2" fill="#686868" opacity="0.45"/>
<circle cx="23.3" cy="100.8" r="2.3" fill="#8a8a8a" opacity="0.45"/>
<circle cx="95.7" cy="105.1" r="1.2" fill="#909090" opacity="0.45"/>
<circle cx="25.4" cy="153.1" r="1.5" fill="#858585" opacity="0.45"/>
<circle cx="44.8" cy="145.3" r="2.0" fill="#686868" opacity="0.45"/>
<circle cx="49.8" cy="128.4" r="1.1" fill="#8a8a8a" opacity="0.45"/>
<circle cx="60.0" cy="152.0" r="1.0" fill="#686868" opacity="0.45"/>
<circle cx="40.8" cy="145.4" r="1.9" fill="#747474" opacity="0.45"/>
<circle cx="94.4" cy="152.6" r="0.9" fill="#747474" opacity="0.45"/>
<circle cx="84.5" cy="95.8" r="1.7" fill="#6e6e6e" opacity="0.45"/>
<circle cx="49.9" cy="155.2" r="0.8" fill="#6e6e6e" opacity="0.45"/>
<circle cx="29.8" cy="95.2" r="1.3" fill="#686868" opacity="0.45"/>
<circle cx="72.1" cy="127.4" r="2.0" fill="#6e6e6e" opacity="0.45"/>
<circle cx="54.3" cy="131.9" r="1.2" fill="#686868" opacity="0.45"/>
<circle cx="65.3" cy="111.3" r="1.5" fill="#747474" opacity="0.45"/>
<circle cx="68.2" cy="132.7" r="1.9" fill="#858585" opacity="0.45"/>
<circle cx="92.2" cy="154.4" r="2.1" fill="#747474" opacity="0.45"/>
<circle cx="95.4" cy="109.2" r="0.9" fill="#686868" opacity="0.45"/>
<circle cx="57.3" cy="144.0" r="1.2" fill="#858585" opacity="0.45"/>
<circle cx="37.0" cy="120.2" r="1.1" fill="#8a8a8a" opacity="0.45"/>
<circle cx="55.4" cy="127.9" r="2.2" fill="#686868" opacity="0.45"/>
<circle cx="59.5" cy="120.7" r="1.7" fill="#6e6e6e" opacity="0.45"/>
<circle cx="50.6" cy="129.4" r="1.7" fill="#747474" opacity="0.45"/>
<circle cx="21.9" cy="153.8" r="1.3" fill="#6e6e6e" opacity="0.45"/>
<circle cx="46.5" cy="102.6" r="1.6" fill="#6e6e6e" opacity="0.45"/>
<circle cx="51.7" cy="154.8" r="1.9" fill="#747474" opacity="0.45"/>
<circle cx="18.1" cy="115.2" r="1.3" fill="#909090" opacity="0.45"/>
<circle cx="47.0" cy="137.5" r="2.2" fill="#686868" opacity="0.45"/>
<circle cx="56.8" cy="111.3" r="0.6" fill="#6e6e6e" opacity="0.45"/>
<circle cx="66.4" cy="96.6" r="0.7" fill="#747474" opacity="0.45"/>
<circle cx="52.0" cy="101.1" r="0.7" fill="#858585" opacity="0.45"/>
<circle cx="91.0" cy="128.1" r="1.9" fill="#858585" opacity="0.45"/>
<circle cx="84.3" cy="158.4" r="1.4" fill="#858585" opacity="0.45"/>
<circle cx="64.0" cy="126.2" r="2.3" fill="#8a8a8a" opacity="0.45"/>
<circle cx="55.2" cy="156.6" r="1.1" fill="#8a8a8a" opacity="0.45"/>
<circle cx="26.5" cy="99.3" r="2.2" fill="#909090" opacity="0.45"/>
<circle cx="19.3" cy="113.5" r="0.6" fill="#8a8a8a" opacity="0.45"/>
<circle cx="55.0" cy="96.6" r="1.0" fill="#858585" opacity="0.45"/>
<circle cx="51.8" cy="135.7" r="1.8" fill="#909090" opacity="0.45"/>
<circle cx="40.1" cy="136.6" r="1.9" fill="#6e6e6e" opacity="0.45"/>
<circle cx="22.3" cy="155.6" r="1.9" fill="#747474" opacity="0.45"/>
<circle cx="22.4" cy="86.2" r="1.5" fill="#909090" opacity="0.45"/>
<circle cx="67.7" cy="92.9" r="1.8" fill="#858585" opacity="0.45"/>
<circle cx="50.7" cy="132.0" r="2.2" fill="#8a8a8a" opacity="0.45"/>
<circle cx="69.1" cy="162.0" r="0.7" fill="#686868" opacity="0.45"/>
<circle cx="19.2" cy="160.2" r="1.5" fill="#686868" opacity="0.45"/>
<circle cx="83.6" cy="99.8" r="2.1" fill="#686868" opacity="0.45"/>
<circle cx="48.9" cy="112.9" r="1.4" fill="#686868" opacity="0.45"/>
<circle cx="35.3" cy="131.2" r="1.2" fill="#686868" opacity="0.45"/>
<circle cx="27.8" cy="127.9" r="1.7" fill="#747474" opacity="0.45"/>
<circle cx="42.4" cy="154.2" r="1.7" fill="#858585" opacity="0.45"/>
<circle cx="76.3" cy="101.7" r="0.7" fill="#909090" opacity="0.45"/>
<circle cx="85.9" cy="135.8" r="1.5" fill="#8a8a8a" opacity="0.45"/>
<circle cx="31.8" cy="93.7" r="1.4" fill="#686868" opacity="0.45"/>
<circle cx="49.0" cy="102.4" r="0.9" fill="#6e6e6e" opacity="0.45"/>
<circle cx="43.3" cy="105.2" r="2.2" fill="#858585" opacity="0.45"/>
<circle cx="83.9" cy="90.0" r="1.3" fill="#909090" opacity="0.45"/>
<circle cx="35.0" cy="108.2" r="1.2" fill="#6e6e6e" opacity="0.45"/>
<circle cx="72.8" cy="112.6" r="0.8" fill="#8a8a8a" opacity="0.45"/>
<circle cx="41.5" cy="99.2" r="0.9" fill="#909090" opacity="0.45"/>
<circle cx="73.2" cy="102.6" r="1.8" fill="#686868" opacity="0.45"/>
<circle cx="35.7" cy="140.1" r="1.6" fill="#686868" opacity="0.45"/>
<circle cx="60.4" cy="133.2" r="1.7" fill="#909090" opacity="0.45"/>
<circle cx="47.1" cy="91.7" r="1.6" fill="#909090" opacity="0.45"/>
<circle cx="56.4" cy="131.7" r="1.1" fill="#909090" opacity="0.45"/>
<circle cx="72.1" cy="103.2" r="2.1" fill="#909090" opacity="0.45"/>
<circle cx="44.8" cy="165.0" r="1.5" fill="#8a8a8a" opacity="0.45"/>
<circle cx="26.3" cy="118.9" r="2.2" fill="#8a8a8a" opacity="0.45"/>
<circle cx="63.9" cy="94.0" r="1.6" fill="#747474" opacity="0.45"/>
<circle cx="55.4" cy="128.5" r="2.2" fill="#909090" opacity="0.45"/>
<circle cx="47.2" cy="88.7" r="1.2" fill="#858585" opacity="0.45"/>
<circle cx="33.4" cy="92.9" r="2.0" fill="#686868" opacity="0.45"/>
<circle cx="64.6" cy="132.1" r="1.8" fill="#747474" opacity="0.45"/>
<circle cx="60.5" cy="164.5" r="2.1" fill="#858585" opacity="0.45"/>
<circle cx="69.3" cy="159.3" r="1.4" fill="#686868" opacity="0.45"/>
<circle cx="76.1" cy="113.5" r="1.5" fill="#686868" opacity="0.45"/>
<circle cx="31.7" cy="109.0" r="0.9" fill="#909090" opacity="0.45"/>
<circle cx="74.3" cy="111.3" r="0.9" fill="#858585" opacity="0.45"/>
<circle cx="56.1" cy="128.7" r="1.4" fill="#909090" opacity="0.45"/>
<circle cx="61.4" cy="114.7" r="1.9" fill="#686868" opacity="0.45"/>
<circle cx="55.8" cy="101.5" r="1.5" fill="#8a8a8a" opacity="0.45"/>
<circle cx="26.7" cy="129.6" r="0.8" fill="#909090" opacity="0.45"/>
<circle cx="86.8" cy="126.6" r="1.3" fill="#6e6e6e" opacity="0.45"/>
<circle cx="55.6" cy="140.1" r="1.0" fill="#747474" opacity="0.45"/>
<circle cx="26.5" cy="161.2" r="1.5" fill="#909090" opacity="0.45"/>
<circle cx="28.9" cy="114.9" r="1.8" fill="#747474" opacity="0.45"/>
<circle cx="62.9" cy="126.3" r="1.0" fill="#8a8a8a" opacity="0.45"/>
<circle cx="36.9" cy="106.1" r="1.2" fill="#747474" opacity="0.45"/>
<circle cx="89.5" cy="93.3" r="1.9" fill="#6e6e6e" opacity="0.45"/>
<circle cx="35.2" cy="122.0" r="2.4" fill="#747474" opacity="0.45"/>
<circle cx="83.5" cy="96.8" r="0.7" fill="#909090" opacity="0.45"/>
<circle cx="38.7" cy="126.1" r="1.3" fill="#909090" opacity="0.45"/>
<circle cx="76.8" cy="125.7" r="1.8" fill="#909090" opacity="0.45"/>
<circle cx="95.5" cy="119.8" r="1.1" fill="#747474" opacity="0.45"/>
<circle cx="64.1" cy="116.4" r="0.7" fill="#8a8a8a" opacity="0.45"/>
<circle cx="51.7" cy="85.5" r="2.0" fill="#8a8a8a" opacity="0.45"/>
<circle cx="57.6" cy="161.7" r="2.1" fill="#858585" opacity="0.45"/>
<circle cx="68.8" cy="106.0" r="1.7" fill="#686868" opacity="0.45"/>
<circle cx="76.9" cy="159.1" r="1.0" fill="#8a8a8a" opacity="0.45"/>
<circle cx="34.5" cy="161.8" r="0.7" fill="#909090" opacity="0.45"/>
<circle cx="76.3" cy="97.4" r="1.6" fill="#858585" opacity="0.45"/>
<circle cx="82.5" cy="143.9" r="1.1" fill="#6e6e6e" opacity="0.45"/>
<circle cx="67.2" cy="156.1" r="0.8" fill="#6e6e6e" opacity="0.45"/>
<circle cx="73.1" cy="135.7" r="1.5" fill="#858585" opacity="0.45"/>
<circle cx="53.7" cy="164.9" r="1.7" fill="#747474" opacity="0.45"/>
<circle cx="31.2" cy="151.5" r="0.7" fill="#858585" opacity="0.45"/>
<circle cx="73.1" cy="99.1" r="0.7" fill="#686868" opacity="0.45"/>
<circle cx="75.4" cy="152.1" r="1.3" fill="#6e6e6e" opacity="0.45"/>
<circle cx="81.4" cy="116.5" r="2.0" fill="#909090" opacity="0.45"/>
<circle cx="92.1" cy="143.1" r="1.7" fill="#909090" opacity="0.45"/>
<circle cx="53.4" cy="149.4" r="1.2" fill="#8a8a8a" opacity="0.45"/>
<circle cx="29.7" cy="116.8" r="1.3" fill="#686868" opacity="0.45"/>
<circle cx="26.3" cy="138.7" r="1.0" fill="#6e6e6e" opacity="0.45"/>
<circle cx="19.1" cy="87.5" r="1.2" fill="#8a8a8a" opacity="0.45"/>
<circle cx="53.5" cy="126.2" r="1.8" fill="#686868" opacity="0.45"/>
<circle cx="47.7" cy="157.2" r="1.0" fill="#686868" opacity="0.45"/>
<circle cx="51.3" cy="110.1" r="0.7" fill="#909090" opacity="0.45"/>
<circle cx="57.2" cy="93.4" r="2.3" fill="#686868" opacity="0.45"/>
<circle cx="92.4" cy="97.2" r="1.5" fill="#747474" opacity="0.45"/>
<circle cx="97.3" cy="98.9" r="1.3" fill="#747474" opacity="0.45"/>
<circle cx="26.9" cy="125.4" r="1.5" fill="#8a8a8a" opacity="0.45"/>
<circle cx="76.5" cy="147.0" r="0.6" fill="#6e6e6e" opacity="0.45"/>
<circle cx="55.1" cy="85.8" r="1.9" fill="#909090" opacity="0.45"/>
<circle cx="89.7" cy="89.2" r="1.8" fill="#747474" opacity="0.45"/>
<circle cx="82.6" cy="124.7" r="2.0" fill="#8a8a8a" opacity="0.45"/>
<circle cx="41.9" cy="130.5" r="1.3" fill="#858585" opacity="0.45"/>
<circle cx="20.6" cy="162.5" r="0.9" fill="#6e6e6e" opacity="0.45"/>
<circle cx="29.8" cy="116.7" r="1.9" fill="#858585" opacity="0.45"/>
<circle cx="57.9" cy="135.8" r="0.7" fill="#858585" opacity="0.45"/>
<circle cx="41.2" cy="153.8" r="1.5" fill="#909090" opacity="0.45"/>
<circle cx="22.6" cy="139.5" r="2.3" fill="#909090" opacity="0.45"/>
<circle cx="70.6" cy="112.0" r="2.0" fill="#909090" opacity="0.45"/>
<circle cx="54.4" cy="133.5" r="0.7" fill="#747474" opacity="0.45"/>
<circle cx="55.7" cy="136.2" r="2.0" fill="#858585" opacity="0.45"/>
<circle cx="37.7" cy="114.0" r="1.8" fill="#858585" opacity="0.45"/>
<circle cx="55.5" cy="119.1" r="2.0" fill="#858585" opacity="0.45"/>
<circle cx="44.1" cy="90.1" r="1.0" fill="#686868" opacity="0.45"/>
<circle cx="21.0" cy="117.6" r="1.3" fill="#747474" opacity="0.45"/>
<circle cx="25.0" cy="99.7" r="1.5" fill="#747474" opacity="0.45"/>
<circle cx="51.7" cy="119.1" r="1.6" fill="#909090" opacity="0.45"/>
<circle cx="51.7" cy="88.6" r="1.9" fill="#909090" opacity="0.45"/>
<circle cx="46.3" cy="143.4" r="1.1" fill="#8a8a8a" opacity="0.45"/>
<circle cx="28.2" cy="155.7" r="2.0" fill="#6e6e6e" opacity="0.45"/>
<circle cx="68.6" cy="143.6" r="0.8" fill="#909090" opacity="0.45"/>
<circle cx="55.5" cy="115.7" r="1.5" fill="#909090" opacity="0.45"/>
<circle cx="66.2" cy="123.3" r="0.7" fill="#686868" opacity="0.45"/>
<circle cx="74.5" cy="158.6" r="0.9" fill="#858585" opacity="0.45"/>
<circle cx="81.3" cy="142.4" r="2.4" fill="#8a8a8a" opacity="0.45"/>
<circle cx="48.9" cy="126.4" r="0.8" fill="#6e6e6e" opacity="0.45"/>
<circle cx="64.8" cy="161.2" r="1.1" fill="#8a8a8a" opacity="0.45"/>
<circle cx="89.8" cy="120.2" r="0.9" fill="#8a8a8a" opacity="0.45"/>
<circle cx="72.5" cy="135.5" r="1.5" fill="#858585" opacity="0.45"/>
<circle cx="52.6" cy="159.7" r="1.1" fill="#6e6e6e" opacity="0.45"/>
<circle cx="64.5" cy="112.8" r="1.6" fill="#8a8a8a" opacity="0.45"/>
<circle cx="95.4" cy="108.0" r="0.8" fill="#909090" opacity="0.45"/>
<circle cx="36.7" cy="103.1" r="2.3" fill="#8a8a8a" opacity="0.45"/>
<circle cx="76.4" cy="92.8" r="1.6" fill="#8a8a8a" opacity="0.45"/>
<rect x="17.1" y="85.4" width="80.2" height="80.0" filter="url(#grain)" opacity="0.35"/>
<circle cx="58.3" cy="124.8" r="25.5" fill="url(#ograd)" opacity="0.85"/>
<path d="M71.20,147.14A25.8,25.8 0 0,1 32.89,129.28" stroke="#5a5a5a" stroke-width="2.2" fill="none" opacity="0.55"/>
</g>
<g clip-path="url(#oclip)">
<path d="M39.15,107.85L33.10,113.90L32.90,113.90M39.15,113.35L37.20,115.30L32.90,115.30M44.65,113.35L41.30,116.70L32.90,116.70M39.15,118.85L38.40,118.10L32.90,118.10M44.65,118.85L44.00,119.50L32.90,119.50M50.15,118.85L48.10,120.90L32.90,120.90M39.15,124.35L37.10,122.30L32.90,122.30M44.65,124.35L44.00,123.70L32.90,123.70M50.15,124.35L49.40,125.10L32.90,125.10M39.15,129.85L35.80,126.50L32.90,126.50M44.65,129.85L42.70,127.90L32.90,127.90M39.15,135.35L33.10,129.30L32.90,129.30M44.65,102.35L50.70,96.30L50.70,96.10M50.15,102.35L52.10,100.40L52.10,96.10M50.15,107.85L53.50,104.50L53.50,96.10M55.65,102.35L54.90,101.60L54.90,96.10M55.65,107.85L56.30,107.20L56.30,96.10M55.65,113.35L57.70,111.30L57.70,96.10M61.15,102.35L59.10,100.30L59.10,96.10M61.15,107.85L60.50,107.20L60.50,96.10M61.15,113.35L61.90,112.60L61.90,96.10M66.65,102.35L63.30,99.00L63.30,96.10M66.65,107.85L64.70,105.90L64.70,96.10M72.15,102.35L66.10,96.30L66.10,96.10M77.65,107.85L83.70,113.90L83.90,113.90M77.65,113.35L79.60,115.30L83.90,115.30M72.15,113.35L75.50,116.70L83.90,116.70M77.65,118.85L78.40,118.10L83.90,118.10M72.15,118.85L72.80,119.50L83.90,119.50M66.65,118.85L68.70,120.90L83.90,120.90M77.65,124.35L79.70,122.30L83.90,122.30M72.15,124.35L72.80,123.70L83.90,123.70M66.65,124.35L67.40,125.10L83.90,125.10M77.65,129.85L81.00,126.50L83.90,126.50M72.15,129.85L74.10,127.90L83.90,127.90M77.65,135.35L83.70,129.30L83.90,129.30M44.65,140.85L50.70,146.90L50.70,147.10M50.15,140.85L52.10,142.80L52.10,147.10M50.15,135.35L53.50,138.70L53.50,147.10M55.65,140.85L54.90,141.60L54.90,147.10M55.65,135.35L56.30,136.00L56.30,147.10M55.65,129.85L57.70,131.90L57.70,147.10M61.15,140.85L59.10,142.90L59.10,147.10M61.15,135.35L60.50,136.00L60.50,147.10M61.15,129.85L61.90,130.60L61.90,147.10M66.65,140.85L63.30,144.20L63.30,147.10M66.65,135.35L64.70,137.30L64.70,147.10M72.15,140.85L66.10,146.90L66.10,147.10M44.65,107.85L44.21,104.29L34.46,94.54M44.65,135.35L41.09,135.79L31.34,145.54M50.15,113.35L48.15,111.35L32.90,96.10M50.15,129.85L48.15,131.85L32.90,147.10M55.65,118.85L52.09,118.41L31.34,97.66M55.65,124.35L55.21,127.91L34.46,148.66M61.15,118.85L61.59,115.29L82.34,94.54M61.15,124.35L64.71,124.79L85.46,145.54M66.65,113.35L68.65,111.35L83.90,96.10M66.65,129.85L68.65,131.85L83.90,147.10M72.15,107.85L75.71,107.41L85.46,97.66M72.15,135.35L72.59,138.91L82.34,148.66" stroke="#4c4c4c" stroke-width="1.7" fill="none" opacity="0.75"/>
<path d="M39.15,107.85L33.10,113.90L32.90,113.90M39.15,113.35L37.20,115.30L32.90,115.30M44.65,113.35L41.30,116.70L32.90,116.70M39.15,118.85L38.40,118.10L32.90,118.10M44.65,118.85L44.00,119.50L32.90,119.50M50.15,118.85L48.10,120.90L32.90,120.90M39.15,124.35L37.10,122.30L32.90,122.30M44.65,124.35L44.00,123.70L32.90,123.70M50.15,124.35L49.40,125.10L32.90,125.10M39.15,129.85L35.80,126.50L32.90,126.50M44.65,129.85L42.70,127.90L32.90,127.90M39.15,135.35L33.10,129.30L32.90,129.30M44.65,102.35L50.70,96.30L50.70,96.10M50.15,102.35L52.10,100.40L52.10,96.10M50.15,107.85L53.50,104.50L53.50,96.10M55.65,102.35L54.90,101.60L54.90,96.10M55.65,107.85L56.30,107.20L56.30,96.10M55.65,113.35L57.70,111.30L57.70,96.10M61.15,102.35L59.10,100.30L59.10,96.10M61.15,107.85L60.50,107.20L60.50,96.10M61.15,113.35L61.90,112.60L61.90,96.10M66.65,102.35L63.30,99.00L63.30,96.10M66.65,107.85L64.70,105.90L64.70,96.10M72.15,102.35L66.10,96.30L66.10,96.10M77.65,107.85L83.70,113.90L83.90,113.90M77.65,113.35L79.60,115.30L83.90,115.30M72.15,113.35L75.50,116.70L83.90,116.70M77.65,118.85L78.40,118.10L83.90,118.10M72.15,118.85L72.80,119.50L83.90,119.50M66.65,118.85L68.70,120.90L83.90,120.90M77.65,124.35L79.70,122.30L83.90,122.30M72.15,124.35L72.80,123.70L83.90,123.70M66.65,124.35L67.40,125.10L83.90,125.10M77.65,129.85L81.00,126.50L83.90,126.50M72.15,129.85L74.10,127.90L83.90,127.90M77.65,135.35L83.70,129.30L83.90,129.30M44.65,140.85L50.70,146.90L50.70,147.10M50.15,140.85L52.10,142.80L52.10,147.10M50.15,135.35L53.50,138.70L53.50,147.10M55.65,140.85L54.90,141.60L54.90,147.10M55.65,135.35L56.30,136.00L56.30,147.10M55.65,129.85L57.70,131.90L57.70,147.10M61.15,140.85L59.10,142.90L59.10,147.10M61.15,135.35L60.50,136.00L60.50,147.10M61.15,129.85L61.90,130.60L61.90,147.10M66.65,140.85L63.30,144.20L63.30,147.10M66.65,135.35L64.70,137.30L64.70,147.10M72.15,140.85L66.10,146.90L66.10,147.10M44.65,107.85L44.21,104.29L34.46,94.54M44.65,135.35L41.09,135.79L31.34,145.54M50.15,113.35L48.15,111.35L32.90,96.10M50.15,129.85L48.15,131.85L32.90,147.10M55.65,118.85L52.09,118.41L31.34,97.66M55.65,124.35L55.21,127.91L34.46,148.66M61.15,118.85L61.59,115.29L82.34,94.54M61.15,124.35L64.71,124.79L85.46,145.54M66.65,113.35L68.65,111.35L83.90,96.10M66.65,129.85L68.65,131.85L83.90,147.10M72.15,107.85L75.71,107.41L85.46,97.66M72.15,135.35L72.59,138.91L82.34,148.66" stroke="#8e8e8e" stroke-width="0.6" fill="none"/>
<path d="M38.30,107.85a0.85,0.85 0 1,0 1.7,0a0.85,0.85 0 1,0 -1.7,0M38.30,113.35a0.85,0.85 0 1,0 1.7,0a0.85,0.85 0 1,0 -1.7,0M38.30,118.85a0.85,0.85 0 1,0 1.7,0a0.85,0.85 0 1,0 -1.7,0M38.30,124.35a0.85,0.85 0 1,0 1.7,0a0.85,0.85 0 1,0 -1.7,0M38.30,129.85a0.85,0.85 0 1,0 1.7,0a0.85,0.85 0 1,0 -1.7,0M38.30,135.35a0.85,0.85 0 1,0 1.7,0a0.85,0.85 0 1,0 -1.7,0M43.80,102.35a0.85,0.85 0 1,0 1.7,0a0.85,0.85 0 1,0 -1.7,0M43.80,107.85a0.85,0.85 0 1,0 1.7,0a0.85,0.85 0 1,0 -1.7,0M43.80,113.35a0.85,0.85 0 1,0 1.7,0a0.85,0.85 0 1,0 -1.7,0M43.80,118.85a0.85,0.85 0 1,0 1.7,0a0.85,0.85 0 1,0 -1.7,0M43.80,124.35a0.85,0.85 0 1,0 1.7,0a0.85,0.85 0 1,0 -1.7,0M43.80,129.85a0.85,0.85 0 1,0 1.7,0a0.85,0.85 0 1,0 -1.7,0M43.80,135.35a0.85,0.85 0 1,0 1.7,0a0.85,0.85 0 1,0 -1.7,0M43.80,140.85a0.85,0.85 0 1,0 1.7,0a0.85,0.85 0 1,0 -1.7,0M49.30,102.35a0.85,0.85 0 1,0 1.7,0a0.85,0.85 0 1,0 -1.7,0M49.30,107.85a0.85,0.85 0 1,0 1.7,0a0.85,0.85 0 1,0 -1.7,0M49.30,113.35a0.85,0.85 0 1,0 1.7,0a0.85,0.85 0 1,0 -1.7,0M49.30,118.85a0.85,0.85 0 1,0 1.7,0a0.85,0.85 0 1,0 -1.7,0M49.30,124.35a0.85,0.85 0 1,0 1.7,0a0.85,0.85 0 1,0 -1.7,0M49.30,129.85a0.85,0.85 0 1,0 1.7,0a0.85,0.85 0 1,0 -1.7,0M49.30,135.35a0.85,0.85 0 1,0 1.7,0a0.85,0.85 0 1,0 -1.7,0M49.30,140.85a0.85,0.85 0 1,0 1.7,0a0.85,0.85 0 1,0 -1.7,0M54.80,102.35a0.85,0.85 0 1,0 1.7,0a0.85,0.85 0 1,0 -1.7,0M54.80,107.85a0.85,0.85 0 1,0 1.7,0a0.85,0.85 0 1,0 -1.7,0M54.80,113.35a0.85,0.85 0 1,0 1.7,0a0.85,0.85 0 1,0 -1.7,0M54.80,118.85a0.85,0.85 0 1,0 1.7,0a0.85,0.85 0 1,0 -1.7,0M54.80,124.35a0.85,0.85 0 1,0 1.7,0a0.85,0.85 0 1,0 -1.7,0M54.80,129.85a0.85,0.85 0 1,0 1.7,0a0.85,0.85 0 1,0 -1.7,0M54.80,135.35a0.85,0.85 0 1,0 1.7,0a0.85,0.85 0 1,0 -1.7,0M54.80,140.85a0.85,0.85 0 1,0 1.7,0a0.85,0.85 0 1,0 -1.7,0M60.30,102.35a0.85,0.85 0 1,0 1.7,0a0.85,0.85 0 1,0 -1.7,0M60.30,107.85a0.85,0.85 0 1,0 1.7,0a0.85,0.85 0 1,0 -1.7,0M60.30,113.35a0.85,0.85 0 1,0 1.7,0a0.85,0.85 0 1,0 -1.7,0M60.30,118.85a0.85,0.85 0 1,0 1.7,0a0.85,0.85 0 1,0 -1.7,0M60.30,124.35a0.85,0.85 0 1,0 1.7,0a0.85,0.85 0 1,0 -1.7,0M60.30,129.85a0.85,0.85 0 1,0 1.7,0a0.85,0.85 0 1,0 -1.7,0M60.30,135.35a0.85,0.85 0 1,0 1.7,0a0.85,0.85 0 1,0 -1.7,0M60.30,140.85a0.85,0.85 0 1,0 1.7,0a0.85,0.85 0 1,0 -1.7,0M65.80,102.35a0.85,0.85 0 1,0 1.7,0a0.85,0.85 0 1,0 -1.7,0M65.80,107.85a0.85,0.85 0 1,0 1.7,0a0.85,0.85 0 1,0 -1.7,0M65.80,113.35a0.85,0.85 0 1,0 1.7,0a0.85,0.85 0 1,0 -1.7,0M65.80,118.85a0.85,0.85 0 1,0 1.7,0a0.85,0.85 0 1,0 -1.7,0M65.80,124.35a0.85,0.85 0 1,0 1.7,0a0.85,0.85 0 1,0 -1.7,0M65.80,129.85a0.85,0.85 0 1,0 1.7,0a0.85,0.85 0 1,0 -1.7,0M65.80,135.35a0.85,0.85 0 1,0 1.7,0a0.85,0.85 0 1,0 -1.7,0M65.80,140.85a0.85,0.85 0 1,0 1.7,0a0.85,0.85 0 1,0 -1.7,0M71.30,102.35a0.85,0.85 0 1,0 1.7,0a0.85,0.85 0 1,0 -1.7,0M71.30,107.85a0.85,0.85 0 1,0 1.7,0a0.85,0.85 0 1,0 -1.7,0M71.30,113.35a0.85,0.85 0 1,0 1.7,0a0.85,0.85 0 1,0 -1.7,0M71.30,118.85a0.85,0.85 0 1,0 1.7,0a0.85,0.85 0 1,0 -1.7,0M71.30,124.35a0.85,0.85 0 1,0 1.7,0a0.85,0.85 0 1,0 -1.7,0M71.30,129.85a0.85,0.85 0 1,0 1.7,0a0.85,0.85 0 1,0 -1.7,0M71.30,135.35a0.85,0.85 0 1,0 1.7,0a0.85,0.85 0 1,0 -1.7,0M71.30,140.85a0.85,0.85 0 1,0 1.7,0a0.85,0.85 0 1,0 -1.7,0M76.80,107.85a0.85,0.85 0 1,0 1.7,0a0.85,0.85 0 1,0 -1.7,0M76.80,113.35a0.85,0.85 0 1,0 1.7,0a0.85,0.85 0 1,0 -1.7,0M76.80,118.85a0.85,0.85 0 1,0 1.7,0a0.85,0.85 0 1,0 -1.7,0M76.80,124.35a0.85,0.85 0 1,0 1.7,0a0.85,0.85 0 1,0 -1.7,0M76.80,129.85a0.85,0.85 0 1,0 1.7,0a0.85,0.85 0 1,0 -1.7,0M76.80,135.35a0.85,0.85 0 1,0 1.7,0a0.85,0.85 0 1,0 -1.7,0" fill="#3a3a3a"/>
<path d="M45.4,108.6L71.4,134.6M45.4,134.6L71.4,108.6" stroke="#4c4c4c" stroke-width="1.6" opacity="0.6"/>
<path d="M45.4,108.6L71.4,134.6M45.4,134.6L71.4,108.6" stroke="#8e8e8e" stroke-width="0.5"/>
</g>
</g>
<line x1="151.9" y1="14.0" x2="156.1" y2="14.0" stroke="#1a1a1a" stroke-width="1.3"/>
<text x="150.2" y="16.75" font-size="7.8" font-weight="bold" text-anchor="end" fill="#111">30000</text>
<line x1="151.9" y1="47.67" x2="156.1" y2="47.67" stroke="#1a1a1a" stroke-width="1.3"/>
<text x="150.2" y="50.42" font-size="7.8" font-weight="bold" text-anchor="end" fill="#111">20000</text>
<line x1="151.9" y1="81.33" x2="156.1" y2="81.33" stroke="#1a1a1a" stroke-width="1.3"/>
<text x="150.2" y="84.08" font-size="7.8" font-weight="bold" text-anchor="end" fill="#111">10000</text>
<line x1="151.9" y1="115" x2="156.1" y2="115" stroke="#1a1a1a" stroke-width="1.3"/>
<text x="150.2" y="117.75" font-size="7.8" font-weight="bold" text-anchor="end" fill="#111">0</text>
<text transform="translate(121.6,65.2) rotate(-90)" font-size="8" font-weight="bold" text-anchor="middle" fill="#111">Number of Spikes</text>
<line x1="169.3" y1="115" x2="169.3" y2="118.9" stroke="#1a1a1a" stroke-width="1.1"/>
<line x1="169.3" y1="104.4" x2="169.3" y2="109.5" stroke="#1a1a1a" stroke-width="1.15"/>
<line x1="165.9" y1="104.4" x2="172.70000000000002" y2="104.4" stroke="#1a1a1a" stroke-width="1.15"/>
<path d="M163.45,115V108.30H175.15V115" fill="none" stroke="#1a1a1a" stroke-width="1.6"/>
<circle cx="169.3" cy="97.2" r="1.8" fill="#1a1a1a"/>
<circle cx="166.70000000000002" cy="105.1" r="1.8" fill="#1a1a1a"/>
<circle cx="171.9" cy="105.1" r="1.8" fill="#1a1a1a"/>
<circle cx="164.9" cy="111.2" r="1.65" fill="#1a1a1a"/>
<circle cx="169.3" cy="110.4" r="1.65" fill="#1a1a1a"/>
<circle cx="173.70000000000002" cy="111.2" r="1.65" fill="#1a1a1a"/>
<circle cx="164.60000000000002" cy="113.4" r="1.65" fill="#1a1a1a"/>
<circle cx="174.0" cy="113.4" r="1.65" fill="#1a1a1a"/>
<text transform="translate(171.20000000000002,124.6) rotate(-45)" font-size="8" font-weight="bold" text-anchor="end" fill="#111">Baseline</text>
<line x1="189.4" y1="115" x2="189.4" y2="118.9" stroke="#1a1a1a" stroke-width="1.1"/>
<line x1="189.4" y1="66.3" x2="189.4" y2="87.6" stroke="#ee1566" stroke-width="1.15"/>
<line x1="186.0" y1="66.3" x2="192.8" y2="66.3" stroke="#ee1566" stroke-width="1.15"/>
<line x1="186.0" y1="87.6" x2="192.8" y2="87.6" stroke="#ee1566" stroke-width="1.15"/>
<path d="M183.55,115V78.10H195.25V115" fill="none" stroke="#ee1566" stroke-width="1.6"/>
<circle cx="189.4" cy="29.8" r="1.75" fill="#ee1566"/>
<circle cx="186.4" cy="72.6" r="1.75" fill="#ee1566"/>
<circle cx="192.3" cy="72.6" r="1.75" fill="#ee1566"/>
<circle cx="189.4" cy="84.4" r="1.75" fill="#ee1566"/>
<circle cx="189.4" cy="91.4" r="1.75" fill="#ee1566"/>
<circle cx="189.4" cy="109.1" r="1.75" fill="#ee1566"/>
<text transform="translate(191.3,124.6) rotate(-45)" font-size="8" font-weight="bold" text-anchor="end" fill="#111">Depolarizing aCSF</text>
<line x1="209.5" y1="115" x2="209.5" y2="118.9" stroke="#1a1a1a" stroke-width="1.1"/>
<line x1="209.5" y1="98.7" x2="209.5" y2="105.8" stroke="#3a9c9e" stroke-width="1.15"/>
<line x1="206.1" y1="98.7" x2="212.9" y2="98.7" stroke="#3a9c9e" stroke-width="1.15"/>
<path d="M203.65,115V106.60H215.35V115" fill="none" stroke="#0a8587" stroke-width="1.6"/>
<circle cx="205.5" cy="108.6" r="1.65" fill="#0a8587"/>
<circle cx="209.5" cy="111.5" r="1.65" fill="#0a8587"/>
<circle cx="213.3" cy="109" r="1.65" fill="#0a8587"/>
<circle cx="204.9" cy="115.4" r="1.65" fill="#0a8587"/>
<circle cx="214.1" cy="114.6" r="1.65" fill="#0a8587"/>
<circle cx="209.5" cy="73.7" r="1.7" fill="#0a8587"/>
<text transform="translate(208.4,125.1) rotate(-45)" font-size="8" font-weight="bold" text-anchor="end" fill="#111">Regular aCSF</text>
<text transform="translate(203.9,142.79999999999998) rotate(-45)" font-size="8" font-weight="bold" text-anchor="end" fill="#111">+ TTX</text>
<line x1="156.1" y1="13.35" x2="156.1" y2="115.65" stroke="#1a1a1a" stroke-width="1.3"/>
<line x1="151.9" y1="115" x2="222.6" y2="115" stroke="#1a1a1a" stroke-width="1.3"/>
<polyline points="189.0,24.6 189.0,17.9 209.6,17.9 209.6,67.6" fill="none" stroke="#1a1a1a" stroke-width="1.2"/>
<path d="M199.60,8.05L199.60,13.75M197.13,9.48L202.07,12.32M202.07,9.48L197.13,12.32" stroke="#111" stroke-width="1.4" stroke-linecap="round"/>
<circle cx="199.6" cy="10.9" r="1.35" fill="#111"/>
<line x1="266.5" y1="15.6" x2="270.7" y2="15.6" stroke="#1a1a1a" stroke-width="1.3"/>
<text x="264.8" y="18.35" font-size="7.8" font-weight="bold" text-anchor="end" fill="#111">500</text>
<line x1="266.5" y1="35.9" x2="270.7" y2="35.9" stroke="#1a1a1a" stroke-width="1.3"/>
<text x="264.8" y="38.65" font-size="7.8" font-weight="bold" text-anchor="end" fill="#111">400</text>
<line x1="266.5" y1="56.2" x2="270.7" y2="56.2" stroke="#1a1a1a" stroke-width="1.3"/>
<text x="264.8" y="58.95" font-size="7.8" font-weight="bold" text-anchor="end" fill="#111">300</text>
<line x1="266.5" y1="76.5" x2="270.7" y2="76.5" stroke="#1a1a1a" stroke-width="1.3"/>
<text x="264.8" y="79.25" font-size="7.8" font-weight="bold" text-anchor="end" fill="#111">200</text>
<line x1="266.5" y1="96.8" x2="270.7" y2="96.8" stroke="#1a1a1a" stroke-width="1.3"/>
<text x="264.8" y="99.55" font-size="7.8" font-weight="bold" text-anchor="end" fill="#111">100</text>
<line x1="266.5" y1="117.1" x2="270.7" y2="117.1" stroke="#1a1a1a" stroke-width="1.3"/>
<text x="264.8" y="119.85" font-size="7.8" font-weight="bold" text-anchor="end" fill="#111">0</text>
<text transform="translate(246.5,66.5) rotate(-90)" font-size="8" font-weight="bold" text-anchor="middle" fill="#111">Single-electrode Bursts</text>
<line x1="284.3" y1="117.1" x2="284.3" y2="121.0" stroke="#1a1a1a" stroke-width="1.1"/>
<rect x="278.1" y="115.6" width="12.4" height="1.5" fill="#1a1a1a"/>
<circle cx="279.2" cy="113.9" r="1.6" fill="#1a1a1a"/>
<circle cx="286.2" cy="112.1" r="1.6" fill="#1a1a1a"/>
<circle cx="280.8" cy="116.0" r="1.4" fill="#1a1a1a"/>
<circle cx="283.8" cy="116.3" r="1.4" fill="#1a1a1a"/>
<circle cx="287.1" cy="116.2" r="1.4" fill="#1a1a1a"/>
<circle cx="289.6" cy="116.0" r="1.4" fill="#1a1a1a"/>
<circle cx="278.3" cy="116.4" r="1.3" fill="#1a1a1a"/>
<text transform="translate(285.59999999999997,129.1) rotate(-45)" font-size="8" font-weight="bold" text-anchor="end" fill="#111">Baseline</text>
<line x1="304.4" y1="117.1" x2="304.4" y2="121.0" stroke="#1a1a1a" stroke-width="1.1"/>
<line x1="304.4" y1="55.2" x2="304.4" y2="80.2" stroke="#ee1566" stroke-width="1.15"/>
<line x1="301.0" y1="55.2" x2="307.79999999999995" y2="55.2" stroke="#ee1566" stroke-width="1.15"/>
<line x1="301.0" y1="80.2" x2="307.79999999999995" y2="80.2" stroke="#ee1566" stroke-width="1.15"/>
<path d="M298.55,117.1V68.50H310.25V117.1" fill="none" stroke="#ee1566" stroke-width="1.6"/>
<circle cx="304.4" cy="25.3" r="1.75" fill="#ee1566"/>
<circle cx="304.4" cy="45.1" r="1.75" fill="#ee1566"/>
<circle cx="304.4" cy="66.2" r="1.75" fill="#ee1566"/>
<circle cx="304.4" cy="71.4" r="1.75" fill="#ee1566"/>
<circle cx="304.4" cy="86.2" r="1.75" fill="#ee1566"/>
<circle cx="304.4" cy="111.2" r="1.75" fill="#ee1566"/>
<text transform="translate(305.69999999999993,129.1) rotate(-45)" font-size="8" font-weight="bold" text-anchor="end" fill="#111">Depolarizing aCSF</text>
<line x1="324.4" y1="117.1" x2="324.4" y2="121.0" stroke="#1a1a1a" stroke-width="1.1"/>
<line x1="324.4" y1="110.4" x2="324.4" y2="114.2" stroke="#3a9c9e" stroke-width="1.15"/>
<line x1="321.0" y1="110.4" x2="327.79999999999995" y2="110.4" stroke="#3a9c9e" stroke-width="1.15"/>
<rect x="318.0" y="114.2" width="12.8" height="2.8999999999999915" fill="#0a8587"/>
<circle cx="324.4" cy="96.9" r="1.7" fill="#0a8587"/>
<rect x="319.90" y="114.9" width="1.2" height="1.0" fill="#a8d4d4"/>
<rect x="322.50" y="114.9" width="1.2" height="1.0" fill="#a8d4d4"/>
<rect x="325.10" y="114.9" width="1.2" height="1.0" fill="#a8d4d4"/>
<rect x="327.70" y="114.9" width="1.2" height="1.0" fill="#a8d4d4"/>
<text transform="translate(322.69999999999993,129.6) rotate(-45)" font-size="8" font-weight="bold" text-anchor="end" fill="#111">Regular aCSF</text>
<text transform="translate(318.19999999999993,147.29999999999998) rotate(-45)" font-size="8" font-weight="bold" text-anchor="end" fill="#111">+ TTX</text>
<line x1="270.7" y1="14.95" x2="270.7" y2="117.75" stroke="#1a1a1a" stroke-width="1.3"/>
<line x1="266.5" y1="117.1" x2="337.6" y2="117.1" stroke="#1a1a1a" stroke-width="1.3"/>
<polyline points="284.5,106.3 284.5,13.7 302.5,13.7 302.5,19.6" fill="none" stroke="#1a1a1a" stroke-width="1.2"/>
<polyline points="306.3,19.6 306.3,13.7 324.5,13.7 324.5,91" fill="none" stroke="#1a1a1a" stroke-width="1.2"/>
<path d="M293.20,3.85L293.20,9.55M290.73,5.28L295.67,8.12M295.67,5.28L290.73,8.12" stroke="#111" stroke-width="1.4" stroke-linecap="round"/>
<circle cx="293.2" cy="6.7" r="1.35" fill="#111"/>
<path d="M315.50,3.85L315.50,9.55M313.03,5.28L317.97,8.12M317.97,5.28L313.03,8.12" stroke="#111" stroke-width="1.4" stroke-linecap="round"/>
<circle cx="315.5" cy="6.7" r="1.35" fill="#111"/>
<rect x="384.0" y="9.3" width="72" height="300.29" fill="#313131"/>
<path d="M384.00,26.43V28.63M384.50,26.05V28.82M385.00,25.98V28.68M385.50,25.81V28.67M386.00,25.37V28.93M386.50,25.53V28.81M387.00,26.06V28.94M387.50,25.36V28.81M388.00,25.73V29.44M388.50,26.08V29.21M389.00,26.22V28.98M389.50,25.72V28.80M390.00,25.40V28.84M390.50,25.65V29.44M391.00,25.73V29.50M391.50,25.58V29.32M392.00,26.62V28.38M392.50,26.60V28.51M393.00,26.53V28.46M393.50,26.32V28.41M394.00,26.35V28.54M394.50,26.39V28.34M395.00,26.48V28.16M395.50,26.34V28.17M396.00,24.63V29.02M396.50,26.61V28.39M397.00,26.39V28.37M397.50,26.76V28.14M398.00,26.50V28.44M398.50,26.57V28.55M399.00,26.41V28.39M399.50,26.53V28.35M400.00,26.69V28.48M400.50,26.74V28.18M401.00,26.72V28.15M401.50,26.70V28.12M402.00,26.57V28.35M402.50,26.59V28.31M403.00,26.48V28.21M403.50,26.66V28.29M404.00,26.47V28.57M404.50,26.64V28.44M405.00,26.27V28.28M405.50,26.63V28.24M406.00,26.27V28.36M406.50,26.76V28.12M407.00,26.45V28.40M407.50,26.36V28.26M408.00,24.79V30.49M408.50,23.99V29.44M409.00,24.92V30.59M409.50,24.12V29.41M410.00,24.40V30.16M410.50,24.88V30.07M411.00,25.21V30.66M411.50,25.04V30.33M412.00,25.24V30.27M412.50,25.28V29.85M413.00,24.59V29.74M413.50,24.76V30.46M414.00,25.32V29.47M414.50,25.42V29.63M415.00,25.31V30.33M415.50,24.60V30.84M416.00,23.70V30.96M416.50,23.48V31.13M417.00,23.55V30.43M417.50,23.60V30.44M418.00,23.67V31.33M418.50,23.72V31.18M419.00,24.50V30.33M419.50,23.93V30.45M420.00,24.48V30.84M420.50,24.31V30.36M421.00,22.02V34.82M421.50,21.95V32.01M422.00,23.44V30.32M422.50,23.56V30.44M423.00,24.20V31.29M423.50,23.50V30.52M424.00,24.16V31.16M424.50,23.50V31.10M425.00,24.19V30.54M425.50,23.80V30.80M426.00,24.52V31.32M426.50,22.09V35.15M427.00,24.53V30.86M427.50,24.12V30.53M428.00,24.24V30.55M428.50,23.54V31.36M429.00,24.51V30.61M429.50,24.34V31.05M430.00,24.15V30.50M430.50,24.13V31.17M431.00,24.09V30.33M431.50,24.50V30.86M432.00,23.66V30.71M432.50,25.78V29.41M433.00,25.30V29.10M433.50,25.71V29.76M434.00,25.69V29.61M434.50,25.79V29.32M435.00,25.83V28.88M435.50,25.41V29.66M436.00,25.82V29.79M436.50,25.33V29.42M437.00,25.33V29.73M437.50,25.52V29.70M438.00,25.66V29.82M438.50,26.00V29.80M439.00,25.49V29.58M439.50,25.94V29.63M440.00,26.24V28.36M440.50,26.34V28.40M441.00,26.71V28.47M441.50,26.64V28.16M442.00,26.40V28.44M442.50,26.56V28.48M443.00,26.47V28.32M443.50,26.64V28.41M444.00,26.33V28.50M444.50,25.23V30.42M445.00,26.36V28.26M445.50,26.50V28.44M446.00,26.28V28.36M446.50,25.20V28.76M447.00,26.40V28.58M447.50,26.24V28.19M448.00,26.34V28.24M448.50,26.65V28.28M449.00,26.53V28.32M449.50,26.38V28.18M450.00,26.33V28.13M450.50,26.72V28.34M451.00,26.72V28.15M451.50,26.60V28.38M452.00,26.42V28.60M452.50,26.55V28.61M453.00,26.59V28.33M453.50,26.53V28.27M454.00,26.41V28.51M454.50,26.39V28.33M455.00,26.23V28.37M455.50,26.55V28.12" stroke="#f5a623" stroke-width="0.55" fill="none"/>
<path d="M386.10,17.60V42.16M387.50,25.55V36.82M392.90,21.31V34.41M393.50,24.86V35.13M396.00,22.52V35.60M396.60,25.33V32.66M398.50,25.46V30.38M409.50,22.00V32.85M410.50,23.02V34.04M412.00,23.17V31.68M417.50,23.11V32.81M420.00,21.84V31.89M423.00,24.07V34.14M426.00,23.08V32.86M428.50,24.08V35.22M430.00,22.82V35.72M444.00,25.13V32.02M448.00,25.20V30.76" stroke="#f5a623" stroke-width="0.55" fill="none"/>
<line x1="408.6" y1="9.3" x2="408.6" y2="45.55" stroke="#f5a623" stroke-width="0.8" stroke-opacity="0.5"/>
<line x1="432.6" y1="9.3" x2="432.6" y2="45.55" stroke="#f5a623" stroke-width="0.8" stroke-opacity="0.8"/>
<rect x="384.0" y="45.55" width="72" height="1.47" fill="#e8e8e8"/>
<rect x="385.1" y="10.70" width="2.6" height="1.8" fill="#b8b8b8"/>
<path d="M384.00,63.85V66.18M384.50,63.62V66.36M385.00,64.10V66.19M385.50,63.32V66.54M386.00,63.88V66.52M386.50,63.25V66.67M387.00,63.65V66.92M387.50,63.76V66.73M388.00,63.85V67.09M388.50,63.35V67.14M389.00,63.60V66.73M389.50,63.34V66.35M390.00,61.35V66.69M390.50,62.89V66.75M391.00,63.81V66.96M391.50,63.62V66.93M392.00,64.24V66.24M392.50,64.05V66.15M393.00,63.44V69.63M393.50,64.05V66.22M394.00,64.14V66.19M394.50,64.09V65.87M395.00,64.09V66.17M395.50,64.26V66.25M396.00,64.01V66.24M396.50,64.45V66.08M397.00,64.31V65.83M397.50,64.08V65.85M398.00,64.36V65.91M398.50,64.00V66.25M399.00,64.44V66.13M399.50,64.48V66.12M400.00,64.26V66.09M400.50,64.37V65.94M401.00,64.21V66.07M401.50,64.02V65.95M402.00,63.38V66.27M402.50,64.41V65.86M403.00,64.30V66.03M403.50,64.15V66.15M404.00,64.16V66.08M404.50,64.21V65.96M405.00,64.12V65.92M405.50,64.11V69.92M406.00,64.12V66.02M406.50,64.35V66.16M407.00,64.10V66.04M407.50,64.03V65.83M408.00,62.49V67.53M408.50,62.95V68.23M409.00,63.07V68.15M409.50,62.22V68.15M410.00,61.98V67.63M410.50,62.95V68.18M411.00,62.77V67.48M411.50,61.98V67.27M412.00,62.88V67.36M412.50,62.29V68.11M413.00,62.50V67.18M413.50,62.40V68.19M414.00,62.41V67.46M414.50,61.78V67.62M415.00,61.82V67.98M415.50,61.14V70.14M416.00,61.16V68.70M416.50,60.95V70.30M417.00,61.16V68.36M417.50,61.46V68.46M418.00,62.09V68.98M418.50,61.42V69.07M419.00,62.22V68.37M419.50,61.74V68.25M420.00,62.08V68.52M420.50,61.28V68.87M421.00,62.05V68.89M421.50,61.68V68.07M422.00,62.12V68.69M422.50,61.54V68.79M423.00,61.38V69.07M423.50,59.16V69.34M424.00,61.52V68.44M424.50,62.04V69.09M425.00,62.12V69.13M425.50,61.24V68.24M426.00,61.38V68.84M426.50,61.18V68.84M427.00,61.94V68.47M427.50,61.69V68.57M428.00,60.20V71.84M428.50,62.25V68.80M429.00,61.56V68.72M429.50,61.21V68.30M430.00,61.77V68.10M430.50,61.41V68.14M431.00,61.28V68.53M431.50,61.34V68.21M432.00,61.39V68.99M432.50,63.03V67.05M433.00,63.00V67.31M433.50,63.71V67.29M434.00,63.75V66.79M434.50,63.22V67.11M435.00,63.18V67.43M435.50,63.19V67.28M436.00,63.62V67.10M436.50,63.64V66.68M437.00,63.45V66.67M437.50,63.33V67.35M438.00,62.93V66.60M438.50,63.07V66.53M439.00,63.61V66.76M439.50,63.60V67.27M440.00,64.33V66.28M440.50,64.06V66.14M441.00,64.00V66.20M441.50,64.16V65.99M442.00,63.97V66.34M442.50,63.66V67.95M443.00,64.00V66.29M443.50,64.22V66.31M444.00,64.40V66.05M444.50,63.48V66.80M445.00,64.15V66.05M445.50,64.14V66.15M446.00,64.35V66.30M446.50,64.03V66.24M447.00,64.43V66.02M447.50,64.35V66.28M448.00,64.09V66.09M448.50,64.04V65.92M449.00,64.06V66.16M449.50,64.00V66.00M450.00,62.31V68.15M450.50,64.04V66.02M451.00,63.95V65.87M451.50,64.21V65.99M452.00,64.34V66.27M452.50,63.96V66.10M453.00,64.05V66.14M453.50,63.83V67.85M454.00,64.29V65.98M454.50,64.07V66.05M455.00,64.05V65.95M455.50,64.44V66.03" stroke="#f5a623" stroke-width="0.55" fill="none"/>
<path d="M386.10,56.32V78.38M387.50,63.31V74.30M392.90,59.13V72.02M393.50,61.72V75.41M396.00,58.51V76.21M396.60,63.49V69.29M398.50,63.17V68.11M409.50,60.88V69.41M410.50,61.92V69.98M412.00,61.64V68.65M417.50,60.96V70.37M420.00,60.22V69.09M423.00,62.44V70.55M426.00,61.13V70.16M428.50,62.66V70.95M430.00,60.55V73.42M444.00,63.48V68.48M448.00,62.97V68.41" stroke="#f5a623" stroke-width="0.55" fill="none"/>
<line x1="408.6" y1="47.019999999999996" x2="408.6" y2="83.27" stroke="#f5a623" stroke-width="0.8" stroke-opacity="0.5"/>
<line x1="432.6" y1="47.019999999999996" x2="432.6" y2="83.27" stroke="#f5a623" stroke-width="0.8" stroke-opacity="0.8"/>
<rect x="384.0" y="83.27" width="72" height="1.47" fill="#e8e8e8"/>
<rect x="385.1" y="48.42" width="2.6" height="1.8" fill="#b8b8b8"/>
<path d="M384.00,101.86V104.18M384.50,101.48V104.18M385.00,99.96V106.63M385.50,101.20V104.86M386.00,101.33V104.27M386.50,100.94V104.69M387.00,101.27V104.52M387.50,101.19V104.20M388.00,101.10V104.67M388.50,101.58V104.36M389.00,101.21V104.74M389.50,101.31V104.88M390.00,101.48V104.59M390.50,101.28V104.57M391.00,101.06V104.86M391.50,101.09V104.49M392.00,101.98V103.83M392.50,101.87V103.72M393.00,101.91V103.98M393.50,101.94V104.01M394.00,102.01V103.99M394.50,102.12V103.56M395.00,101.77V103.72M395.50,101.87V103.99M396.00,101.98V103.85M396.50,102.00V103.60M397.00,102.09V103.56M397.50,102.13V103.58M398.00,102.00V103.68M398.50,102.00V103.65M399.00,102.06V103.89M399.50,101.97V103.92M400.00,101.98V103.94M400.50,102.09V103.57M401.00,101.81V103.72M401.50,101.73V103.98M402.00,102.20V103.66M402.50,101.88V103.87M403.00,101.86V104.00M403.50,101.97V103.94M404.00,101.82V103.89M404.50,102.18V103.62M405.00,102.13V103.75M405.50,101.97V103.96M406.00,102.04V103.59M406.50,101.98V103.65M407.00,102.20V103.81M407.50,101.93V103.98M408.00,99.47V104.94M408.50,98.24V108.49M409.00,100.00V105.54M409.50,99.54V106.15M410.00,99.46V105.67M410.50,99.85V105.00M411.00,99.92V105.15M411.50,100.78V105.11M412.00,100.55V106.16M412.50,100.38V105.55M413.00,99.45V105.20M413.50,100.58V105.01M414.00,100.38V105.57M414.50,100.75V104.93M415.00,99.41V104.87M415.50,99.41V106.08M416.00,97.98V110.22M416.50,99.55V106.24M417.00,99.56V106.65M417.50,99.72V106.11M418.00,99.15V106.65M418.50,98.96V106.69M419.00,99.66V105.85M419.50,99.03V106.74M420.00,99.16V106.78M420.50,99.95V105.94M421.00,99.22V106.66M421.50,99.21V106.84M422.00,99.49V106.77M422.50,99.71V106.40M423.00,97.93V108.40M423.50,99.66V105.82M424.00,99.61V105.86M424.50,99.22V105.84M425.00,99.89V106.27M425.50,99.03V106.74M426.00,99.65V106.11M426.50,99.41V106.46M427.00,99.77V106.18M427.50,99.61V106.69M428.00,99.96V106.31M428.50,97.82V108.10M429.00,98.97V106.69M429.50,99.16V106.14M430.00,99.38V106.16M430.50,99.26V106.75M431.00,99.58V105.93M431.50,99.55V105.85M432.00,99.60V106.65M432.50,100.73V105.26M433.00,101.10V105.25M433.50,101.14V104.40M434.00,101.15V105.16M434.50,101.30V105.27M435.00,100.71V104.87M435.50,100.50V104.45M436.00,100.70V104.68M436.50,100.62V104.78M437.00,100.85V104.87M437.50,100.68V104.74M438.00,100.87V104.41M438.50,101.31V105.18M439.00,101.28V104.45M439.50,101.01V104.63M440.00,102.00V103.62M440.50,101.72V104.05M441.00,101.79V103.72M441.50,101.97V103.61M442.00,101.91V103.65M442.50,102.00V103.94M443.00,101.92V103.90M443.50,102.03V103.99M444.00,101.99V103.87M444.50,101.73V103.85M445.00,101.71V104.03M445.50,101.82V103.92M446.00,102.12V104.03M446.50,102.00V103.84M447.00,101.75V103.61M447.50,101.69V104.06M448.00,101.88V104.02M448.50,101.74V104.07M449.00,102.11V103.94M449.50,101.71V103.79M450.00,102.11V104.00M450.50,102.11V103.61M451.00,101.96V103.97M451.50,101.93V103.94M452.00,102.08V103.80M452.50,101.70V103.60M453.00,101.71V103.88M453.50,99.63V106.06M454.00,102.08V104.04M454.50,102.16V103.93M455.00,99.62V106.08M455.50,101.83V103.92" stroke="#f5a623" stroke-width="0.55" fill="none"/>
<path d="M386.10,94.25V115.79M387.50,100.97V112.35M392.90,95.81V110.92M393.50,99.56V112.79M396.00,96.71V113.12M396.60,100.92V107.72M398.50,100.69V106.13M409.50,97.39V108.34M410.50,99.32V108.19M412.00,99.41V106.32M417.50,99.66V106.87M420.00,97.34V107.29M423.00,100.24V108.11M426.00,98.86V107.88M428.50,99.91V109.75M430.00,97.71V112.14M444.00,100.61V107.38M448.00,100.81V105.95" stroke="#f5a623" stroke-width="0.55" fill="none"/>
<line x1="408.6" y1="84.74" x2="408.6" y2="120.99" stroke="#f5a623" stroke-width="0.8" stroke-opacity="0.5"/>
<line x1="432.6" y1="84.74" x2="432.6" y2="120.99" stroke="#f5a623" stroke-width="0.8" stroke-opacity="0.8"/>
<rect x="384.0" y="120.99" width="72" height="1.47" fill="#e8e8e8"/>
<rect x="385.1" y="86.14" width="2.6" height="1.8" fill="#b8b8b8"/>
<path d="M384.00,139.02V141.79M384.50,139.19V141.63M385.00,139.28V141.57M385.50,138.58V142.57M386.00,139.31V141.99M386.50,139.36V141.99M387.00,139.27V142.26M387.50,139.02V142.44M388.00,139.01V142.49M388.50,138.64V142.01M389.00,138.86V142.64M389.50,138.96V142.01M390.00,139.19V142.67M390.50,138.58V142.26M391.00,139.12V142.22M391.50,139.01V142.01M392.00,139.47V141.29M392.50,139.58V141.29M393.00,139.43V141.73M393.50,139.54V141.60M394.00,139.65V141.54M394.50,139.52V141.46M395.00,137.95V144.96M395.50,139.66V141.52M396.00,139.81V141.44M396.50,139.61V141.43M397.00,139.76V141.52M397.50,139.76V141.58M398.00,139.66V141.73M398.50,139.47V141.34M399.00,139.52V141.26M399.50,139.49V141.71M400.00,139.75V141.41M400.50,139.89V141.26M401.00,139.61V141.33M401.50,139.78V141.68M402.00,139.57V141.61M402.50,139.80V141.50M403.00,139.63V141.41M403.50,139.72V141.31M404.00,139.48V141.58M404.50,138.03V141.78M405.00,139.76V141.36M405.50,139.59V141.67M406.00,139.92V141.74M406.50,136.85V143.42M407.00,139.50V141.63M407.50,139.53V141.37M408.00,137.96V143.70M408.50,137.48V143.43M409.00,138.32V143.55M409.50,137.84V143.64M410.00,137.20V142.72M410.50,137.69V143.59M411.00,137.22V143.25M411.50,136.15V145.07M412.00,137.19V143.47M412.50,138.08V143.12M413.00,138.44V143.53M413.50,137.93V143.62M414.00,137.95V143.05M414.50,137.62V142.71M415.00,138.44V143.56M415.50,137.17V143.28M416.00,137.12V144.38M416.50,136.99V143.51M417.00,136.87V143.93M417.50,136.99V144.38M418.00,136.63V144.20M418.50,137.23V143.77M419.00,137.42V144.46M419.50,137.65V143.50M420.00,136.31V147.38M420.50,136.89V144.38M421.00,136.96V143.69M421.50,136.64V143.71M422.00,137.46V144.43M422.50,137.04V144.42M423.00,136.68V144.33M423.50,137.44V144.07M424.00,136.82V144.20M424.50,137.03V143.76M425.00,136.61V144.18M425.50,137.44V143.60M426.00,137.04V144.28M426.50,136.73V144.84M427.00,137.43V143.63M427.50,137.33V144.39M428.00,135.88V148.29M428.50,136.93V144.42M429.00,137.43V143.58M429.50,137.29V143.99M430.00,137.67V143.90M430.50,136.97V144.11M431.00,137.22V143.88M431.50,137.25V144.36M432.00,136.89V143.48M432.50,138.38V142.85M433.00,139.00V142.96M433.50,139.11V142.99M434.00,138.90V142.49M434.50,138.61V142.39M435.00,138.45V142.28M435.50,138.43V142.94M436.00,138.31V142.70M436.50,138.26V142.49M437.00,138.99V143.00M437.50,136.87V145.42M438.00,138.31V142.90M438.50,138.33V142.44M439.00,138.76V142.72M439.50,138.79V142.81M440.00,139.81V141.58M440.50,139.59V141.29M441.00,139.69V141.66M441.50,139.88V141.52M442.00,139.49V141.55M442.50,139.81V141.34M443.00,139.55V141.67M443.50,139.59V141.46M444.00,139.84V141.36M444.50,139.72V141.78M445.00,139.71V141.37M445.50,139.63V141.41M446.00,139.63V141.67M446.50,139.46V141.33M447.00,139.59V141.36M447.50,139.87V141.49M448.00,139.87V141.51M448.50,139.50V141.76M449.00,139.58V141.59M449.50,139.83V141.54M450.00,139.89V141.73M450.50,139.72V141.69M451.00,139.52V141.56M451.50,139.63V141.32M452.00,139.78V141.57M452.50,139.52V141.31M453.00,139.39V141.52M453.50,137.11V144.12M454.00,139.69V141.70M454.50,139.43V141.72M455.00,139.84V141.51M455.50,139.61V141.35" stroke="#f5a623" stroke-width="0.55" fill="none"/>
<path d="M386.10,131.15V154.73M387.50,138.76V149.72M392.90,133.56V148.62M393.50,137.62V149.47M396.00,133.93V151.67M396.60,138.67V145.37M398.50,138.58V143.59M409.50,135.31V145.86M410.50,137.16V145.73M412.00,136.63V144.54M417.50,137.13V144.90M420.00,135.72V144.48M423.00,137.65V146.45M426.00,136.12V146.17M428.50,137.17V148.54M430.00,136.05V148.75M444.00,138.39V144.98M448.00,138.72V143.38" stroke="#f5a623" stroke-width="0.55" fill="none"/>
<line x1="408.6" y1="122.46" x2="408.6" y2="158.70999999999998" stroke="#f5a623" stroke-width="0.8" stroke-opacity="0.5"/>
<line x1="432.6" y1="122.46" x2="432.6" y2="158.70999999999998" stroke="#f5a623" stroke-width="0.8" stroke-opacity="0.8"/>
<rect x="384.0" y="158.71" width="72" height="1.47" fill="#e8e8e8"/>
<rect x="385.1" y="123.86" width="2.6" height="1.8" fill="#b8b8b8"/>
<path d="M384.00,176.76V179.79M384.50,177.25V179.43M385.00,176.86V179.22M385.50,176.30V179.61M386.00,176.81V180.09M386.50,176.58V179.86M387.00,176.55V180.07M387.50,176.69V179.99M388.00,176.94V180.02M388.50,176.57V180.23M389.00,176.88V179.88M389.50,176.79V180.40M390.00,176.35V179.54M390.50,176.38V180.00M391.00,176.28V180.40M391.50,176.63V179.54M392.00,177.57V179.04M392.50,175.16V180.02M393.00,177.61V179.27M393.50,177.33V179.24M394.00,177.29V179.12M394.50,177.30V179.39M395.00,177.23V179.22M395.50,174.53V180.05M396.00,177.41V179.19M396.50,177.36V179.26M397.00,177.34V179.12M397.50,177.17V179.28M398.00,177.64V179.31M398.50,177.56V179.13M399.00,177.60V179.07M399.50,177.52V179.36M400.00,177.55V178.99M400.50,177.53V179.23M401.00,177.55V179.21M401.50,177.21V179.24M402.00,177.37V179.43M402.50,177.45V179.07M403.00,177.26V179.27M403.50,177.20V179.03M404.00,177.26V179.42M404.50,177.64V179.24M405.00,177.63V179.14M405.50,177.63V179.05M406.00,177.25V179.12M406.50,177.31V178.97M407.00,177.59V179.36M407.50,177.46V179.37M408.00,176.22V180.43M408.50,175.86V180.94M409.00,174.88V181.28M409.50,175.41V180.63M410.00,176.09V181.15M410.50,174.94V180.74M411.00,176.00V180.59M411.50,175.10V181.51M412.00,175.47V180.50M412.50,176.28V181.67M413.00,175.26V180.29M413.50,175.43V180.56M414.00,172.88V184.67M414.50,175.52V180.34M415.00,175.42V180.65M415.50,175.22V181.26M416.00,174.36V181.77M416.50,175.29V181.77M417.00,174.39V181.71M417.50,173.07V182.79M418.00,173.74V185.70M418.50,174.52V182.06M419.00,174.36V182.13M419.50,174.82V181.90M420.00,173.85V184.99M420.50,174.78V182.07M421.00,174.37V181.50M421.50,174.39V181.56M422.00,174.96V181.36M422.50,175.02V181.22M423.00,175.02V181.46M423.50,175.41V182.04M424.00,175.32V181.63M424.50,175.38V181.51M425.00,174.76V181.41M425.50,175.01V182.25M426.00,174.61V183.57M426.50,174.81V182.00M427.00,174.75V182.28M427.50,175.16V181.40M428.00,174.71V181.74M428.50,175.33V181.44M429.00,175.14V181.76M429.50,175.22V181.72M430.00,174.59V182.11M430.50,174.78V181.44M431.00,174.39V181.41M431.50,175.20V182.17M432.00,175.25V181.87M432.50,176.49V180.46M433.00,176.52V179.76M433.50,176.28V180.68M434.00,176.86V179.89M434.50,176.17V180.00M435.00,176.73V179.97M435.50,176.19V180.56M436.00,176.35V180.69M436.50,176.80V180.36M437.00,176.88V179.77M437.50,176.55V179.80M438.00,176.49V180.67M438.50,176.64V180.68M439.00,174.03V181.94M439.50,175.91V180.24M440.00,177.42V179.17M440.50,177.57V179.35M441.00,177.13V179.12M441.50,177.48V179.43M442.00,177.61V179.09M442.50,177.11V179.43M443.00,177.30V179.39M443.50,175.63V183.28M444.00,177.33V179.18M444.50,177.15V179.34M445.00,177.12V179.35M445.50,177.19V179.38M446.00,177.26V179.40M446.50,177.21V179.31M447.00,177.39V179.47M447.50,177.59V179.25M448.00,177.17V179.47M448.50,177.43V179.34M449.00,177.28V179.46M449.50,177.37V179.35M450.00,177.42V179.18M450.50,177.27V179.27M451.00,177.43V179.04M451.50,177.57V179.11M452.00,177.33V179.43M452.50,177.44V179.18M453.00,177.60V179.08M453.50,177.54V179.20M454.00,177.30V179.44M454.50,177.22V179.00M455.00,177.54V179.40M455.50,177.32V179.44" stroke="#f5a623" stroke-width="0.55" fill="none"/>
<path d="M386.10,168.88V192.44M387.50,176.32V188.22M392.90,171.09V186.55M393.50,175.28V187.38M396.00,172.36V188.21M396.60,176.61V182.54M398.50,176.03V181.72M409.50,173.03V183.58M410.50,173.87V184.95M412.00,174.00V182.61M417.50,174.80V182.69M420.00,173.53V182.13M423.00,175.28V184.36M426.00,174.86V182.61M428.50,175.05V185.91M430.00,173.45V187.05M444.00,176.30V182.32M448.00,176.06V181.67" stroke="#f5a623" stroke-width="0.55" fill="none"/>
<line x1="408.6" y1="160.18" x2="408.6" y2="196.43" stroke="#f5a623" stroke-width="0.8" stroke-opacity="0.5"/>
<line x1="432.6" y1="160.18" x2="432.6" y2="196.43" stroke="#f5a623" stroke-width="0.8" stroke-opacity="0.8"/>
<rect x="384.0" y="196.43" width="72" height="1.47" fill="#e8e8e8"/>
<rect x="385.1" y="161.58" width="2.6" height="1.8" fill="#b8b8b8"/>
<path d="M384.00,214.53V217.16M384.50,214.48V217.14M385.00,214.90V217.04M385.50,214.15V217.36M386.00,214.51V217.38M386.50,214.48V217.64M387.00,214.00V217.43M387.50,214.27V218.09M388.00,214.35V217.45M388.50,213.93V217.79M389.00,214.08V217.91M389.50,213.95V218.10M390.00,214.47V217.70M390.50,214.14V217.79M391.00,214.36V217.76M391.50,214.11V218.06M392.00,215.30V216.89M392.50,215.24V216.75M393.00,215.13V217.07M393.50,214.31V217.20M394.00,214.94V216.84M394.50,215.14V216.97M395.00,215.04V216.72M395.50,215.19V217.17M396.00,215.25V217.14M396.50,215.32V217.08M397.00,215.12V216.77M397.50,212.55V217.75M398.00,215.31V216.87M398.50,214.87V216.79M399.00,215.23V217.11M399.50,215.03V217.10M400.00,215.13V216.69M400.50,215.02V217.06M401.00,215.34V217.05M401.50,214.94V217.06M402.00,215.19V216.86M402.50,215.05V216.85M403.00,215.25V216.82M403.50,215.23V217.07M404.00,214.91V216.70M404.50,215.09V216.86M405.00,215.03V216.84M405.50,215.15V216.92M406.00,215.13V216.70M406.50,215.22V216.91M407.00,214.45V220.24M407.50,215.03V217.04M408.00,213.37V219.10M408.50,213.38V218.12M409.00,212.64V219.33M409.50,213.52V218.90M410.00,213.36V219.27M410.50,213.90V219.09M411.00,213.89V218.78M411.50,213.08V219.01M412.00,213.41V219.47M412.50,213.36V218.15M413.00,213.06V219.03M413.50,213.65V218.31M414.00,213.55V219.36M414.50,213.34V219.49M415.00,213.36V218.63M415.50,213.37V222.48M416.00,212.34V219.38M416.50,212.61V219.20M417.00,212.74V219.57M417.50,212.49V218.96M418.00,213.12V219.43M418.50,213.00V219.99M419.00,212.93V219.28M419.50,212.53V220.02M420.00,212.88V219.70M420.50,211.93V222.71M421.00,213.08V218.96M421.50,213.07V219.10M422.00,212.94V219.76M422.50,212.63V219.40M423.00,212.78V219.50M423.50,212.55V219.31M424.00,212.63V219.33M424.50,212.20V219.58M425.00,212.22V219.31M425.50,213.03V219.45M426.00,212.71V219.10M426.50,212.76V219.35M427.00,212.18V219.87M427.50,212.71V219.23M428.00,212.22V219.59M428.50,212.37V219.28M429.00,213.02V219.56M429.50,213.05V219.23M430.00,213.00V219.00M430.50,212.06V219.56M431.00,212.60V219.03M431.50,212.63V219.88M432.00,212.06V219.57M432.50,214.08V217.58M433.00,214.36V218.25M433.50,214.42V217.54M434.00,214.62V217.60M434.50,213.69V217.85M435.00,214.45V218.44M435.50,212.39V220.21M436.00,213.92V218.21M436.50,214.62V218.11M437.00,212.57V221.32M437.50,213.73V218.36M438.00,213.93V218.11M438.50,213.85V217.57M439.00,214.01V218.18M439.50,214.58V218.44M440.00,215.15V217.08M440.50,215.23V216.92M441.00,214.90V216.93M441.50,214.92V216.82M442.00,215.33V216.83M442.50,215.07V217.11M443.00,215.22V216.92M443.50,215.27V216.80M444.00,214.92V217.15M444.50,215.20V217.10M445.00,214.93V217.02M445.50,215.27V217.16M446.00,215.04V216.85M446.50,215.12V216.83M447.00,214.97V217.13M447.50,215.13V217.02M448.00,214.99V217.14M448.50,215.32V217.08M449.00,215.24V217.10M449.50,215.07V217.03M450.00,214.98V216.86M450.50,215.09V217.13M451.00,215.24V216.85M451.50,215.26V216.96M452.00,214.82V216.76M452.50,215.25V216.91M453.00,215.25V216.98M453.50,214.90V217.00M454.00,214.89V217.19M454.50,215.28V216.77M455.00,215.24V216.75M455.50,215.03V216.80" stroke="#f5a623" stroke-width="0.55" fill="none"/>
<path d="M386.10,206.59V230.18M387.50,214.10V225.63M392.90,209.54V223.43M393.50,213.49V223.64M396.00,209.85V226.31M396.60,214.19V220.61M398.50,213.82V219.33M409.50,210.30V221.75M410.50,212.78V220.90M412.00,211.75V220.30M417.50,211.79V221.32M420.00,211.51V219.64M423.00,213.02V222.04M426.00,212.41V220.54M428.50,212.72V223.74M430.00,211.44V224.29M444.00,213.97V220.13M448.00,214.25V218.69" stroke="#f5a623" stroke-width="0.55" fill="none"/>
<line x1="408.6" y1="197.9" x2="408.6" y2="234.15" stroke="#f5a623" stroke-width="0.8" stroke-opacity="0.5"/>
<line x1="432.6" y1="197.9" x2="432.6" y2="234.15" stroke="#f5a623" stroke-width="0.8" stroke-opacity="0.8"/>
<rect x="384.0" y="234.15" width="72" height="1.47" fill="#e8e8e8"/>
<rect x="385.1" y="199.30" width="2.6" height="1.8" fill="#b8b8b8"/>
<path d="M384.00,249.54V258.54M384.50,252.81V255.19M385.00,252.72V255.30M385.50,252.14V255.53M386.00,251.87V255.20M386.50,252.42V255.19M387.00,252.48V255.26M387.50,250.17V255.74M388.00,252.38V255.62M388.50,252.05V255.49M389.00,252.16V255.08M389.50,252.36V255.17M390.00,251.74V255.14M390.50,252.30V255.06M391.00,251.69V255.63M391.50,252.05V255.35M392.00,252.76V254.52M392.50,252.89V254.74M393.00,252.76V254.47M393.50,252.72V254.67M394.00,253.04V254.67M394.50,252.84V254.77M395.00,252.68V254.51M395.50,252.71V254.46M396.00,252.94V254.79M396.50,253.05V254.77M397.00,252.66V254.54M397.50,252.92V254.63M398.00,252.82V254.46M398.50,253.06V254.89M399.00,252.94V254.49M399.50,253.08V254.48M400.00,252.82V254.76M400.50,252.92V254.78M401.00,252.68V254.67M401.50,253.07V254.50M402.00,252.81V254.71M402.50,253.06V254.56M403.00,252.76V254.52M403.50,252.82V254.60M404.00,250.06V255.73M404.50,252.64V254.64M405.00,252.67V254.46M405.50,252.95V254.79M406.00,252.67V254.57M406.50,252.82V254.55M407.00,253.04V254.72M407.50,252.81V254.84M408.00,251.72V256.62M408.50,250.88V256.53M409.00,250.78V255.86M409.50,251.46V256.04M410.00,251.44V256.99M410.50,249.83V259.76M411.00,250.42V255.80M411.50,250.32V255.86M412.00,250.41V256.24M412.50,250.90V256.65M413.00,251.44V256.47M413.50,250.37V257.07M414.00,251.56V255.99M414.50,251.07V256.99M415.00,251.71V255.90M415.50,251.36V256.32M416.00,250.80V256.74M416.50,250.84V257.01M417.00,250.75V256.72M417.50,250.10V257.18M418.00,249.84V257.15M418.50,250.30V257.17M419.00,248.46V260.74M419.50,250.04V257.56M420.00,250.31V257.10M420.50,250.61V256.97M421.00,250.82V257.72M421.50,250.29V257.32M422.00,250.35V256.74M422.50,250.65V257.08M423.00,249.91V256.72M423.50,250.17V257.67M424.00,250.28V257.59M424.50,250.86V257.19M425.00,250.72V257.39M425.50,249.93V257.00M426.00,250.61V256.89M426.50,250.14V256.93M427.00,250.67V257.60M427.50,249.83V256.88M428.00,250.59V257.43M428.50,250.05V257.08M429.00,250.50V257.58M429.50,250.66V256.72M430.00,249.94V257.38M430.50,250.79V257.12M431.00,250.60V257.68M431.50,250.47V257.73M432.00,249.94V257.14M432.50,251.34V255.95M433.00,251.68V255.79M433.50,251.64V255.49M434.00,251.93V255.34M434.50,251.42V255.56M435.00,252.20V255.69M435.50,251.64V255.81M436.00,252.35V255.13M436.50,251.74V255.99M437.00,251.61V255.88M437.50,252.30V255.92M438.00,251.69V256.05M438.50,251.55V255.46M439.00,251.93V255.97M439.50,251.42V255.86M440.00,252.65V254.69M440.50,251.86V256.14M441.00,253.02V254.80M441.50,252.80V254.91M442.00,252.72V256.87M442.50,253.03V254.79M443.00,252.94V254.82M443.50,252.67V254.44M444.00,252.83V254.56M444.50,252.62V254.55M445.00,252.83V254.64M445.50,252.78V254.73M446.00,252.79V254.72M446.50,252.92V254.50M447.00,252.64V254.67M447.50,252.77V254.48M448.00,252.57V254.69M448.50,253.00V254.48M449.00,253.01V254.82M449.50,252.75V254.68M450.00,252.84V254.95M450.50,252.68V254.44M451.00,252.81V254.74M451.50,252.95V254.56M452.00,252.54V254.83M452.50,252.76V254.58M453.00,253.01V254.45M453.50,252.78V254.90M454.00,252.79V254.74M454.50,249.96V257.21M455.00,252.79V254.46M455.50,252.70V254.89" stroke="#f5a623" stroke-width="0.55" fill="none"/>
<path d="M386.10,244.81V267.15M387.50,251.48V265.08M392.90,245.70V262.94M393.50,250.88V262.34M396.00,247.54V264.09M396.60,252.01V258.09M398.50,251.60V256.97M409.50,248.04V259.45M410.50,250.27V258.95M412.00,250.06V257.43M417.50,249.23V259.38M420.00,249.40V257.22M423.00,250.51V260.21M426.00,249.73V258.76M428.50,250.53V261.24M430.00,248.96V262.35M444.00,251.47V258.30M448.00,251.58V257.00" stroke="#f5a623" stroke-width="0.55" fill="none"/>
<line x1="408.6" y1="235.62" x2="408.6" y2="271.87" stroke="#f5a623" stroke-width="0.8" stroke-opacity="0.5"/>
<line x1="432.6" y1="235.62" x2="432.6" y2="271.87" stroke="#f5a623" stroke-width="0.8" stroke-opacity="0.8"/>
<rect x="384.0" y="271.87" width="72" height="1.47" fill="#e8e8e8"/>
<rect x="385.1" y="237.02" width="2.6" height="1.8" fill="#b8b8b8"/>
<path d="M384.00,290.40V292.76M384.50,290.12V292.69M385.00,290.47V293.04M385.50,290.04V293.20M386.00,289.45V292.92M386.50,290.10V293.20M387.00,289.60V292.79M387.50,290.20V292.81M388.00,290.13V292.91M388.50,289.88V293.44M389.00,289.71V293.03M389.50,290.00V293.37M390.00,289.61V293.46M390.50,290.00V292.88M391.00,289.72V293.37M391.50,289.55V293.54M392.00,290.47V292.52M392.50,290.41V292.56M393.00,290.64V292.31M393.50,290.52V292.37M394.00,290.44V292.46M394.50,290.33V292.13M395.00,290.44V292.39M395.50,290.68V292.32M396.00,290.47V292.56M396.50,290.35V292.55M397.00,290.36V292.59M397.50,290.60V292.35M398.00,290.32V292.46M398.50,290.76V292.19M399.00,290.73V292.13M399.50,290.65V292.59M400.00,290.76V292.57M400.50,290.55V292.39M401.00,290.61V292.26M401.50,290.32V292.55M402.00,290.73V292.44M402.50,290.45V292.16M403.00,290.73V292.61M403.50,290.59V292.58M404.00,290.72V292.55M404.50,290.68V292.46M405.00,290.79V292.35M405.50,290.40V292.47M406.00,290.61V292.16M406.50,290.51V292.54M407.00,290.50V292.34M407.50,290.52V292.53M408.00,288.16V293.73M408.50,289.15V294.00M409.00,288.10V293.50M409.50,289.16V294.66M410.00,288.05V294.88M410.50,289.10V294.51M411.00,289.09V293.61M411.50,288.84V293.65M412.00,289.28V293.53M412.50,288.79V293.89M413.00,289.08V294.20M413.50,289.38V294.06M414.00,288.43V294.21M414.50,289.01V293.66M415.00,289.31V293.50M415.50,286.96V295.33M416.00,288.19V295.03M416.50,288.08V294.55M417.00,288.41V294.71M417.50,288.27V294.89M418.00,288.10V295.29M418.50,287.79V295.27M419.00,287.81V294.70M419.50,287.88V294.79M420.00,288.53V294.36M420.50,287.56V294.37M421.00,287.73V295.33M421.50,288.02V295.36M422.00,288.46V294.66M422.50,288.21V294.99M423.00,287.66V295.42M423.50,288.41V295.42M424.00,288.33V294.82M424.50,288.17V295.20M425.00,287.36V298.36M425.50,287.67V294.67M426.00,287.86V294.37M426.50,288.38V294.72M427.00,288.56V295.27M427.50,287.91V294.68M428.00,288.33V295.00M428.50,287.90V294.35M429.00,288.33V295.26M429.50,287.84V294.83M430.00,287.49V295.15M430.50,287.83V294.81M431.00,287.70V295.28M431.50,288.34V294.64M432.00,288.54V294.57M432.50,289.93V293.08M433.00,289.37V293.18M433.50,290.06V292.90M434.00,289.28V293.08M434.50,289.77V293.67M435.00,289.88V293.79M435.50,289.14V293.31M436.00,289.80V293.71M436.50,289.50V293.45M437.00,289.63V293.27M437.50,289.95V292.90M438.00,290.05V293.80M438.50,289.22V292.90M439.00,289.26V292.85M439.50,289.10V293.72M440.00,290.52V292.42M440.50,290.34V292.32M441.00,290.29V292.44M441.50,290.49V292.47M442.00,290.72V292.23M442.50,290.74V292.60M443.00,290.34V292.51M443.50,290.63V292.48M444.00,290.58V292.28M444.50,290.36V292.23M445.00,290.43V292.54M445.50,290.51V292.16M446.00,290.76V292.46M446.50,290.49V292.62M447.00,290.66V292.19M447.50,290.45V292.56M448.00,290.57V292.45M448.50,290.62V292.30M449.00,290.69V292.25M449.50,290.50V292.31M450.00,290.69V292.41M450.50,290.67V292.17M451.00,290.39V292.22M451.50,290.73V292.42M452.00,290.37V292.29M452.50,290.08V293.83M453.00,290.34V292.42M453.50,290.51V292.49M454.00,290.34V292.60M454.50,290.68V292.58M455.00,290.47V292.52M455.50,290.72V292.36" stroke="#f5a623" stroke-width="0.55" fill="none"/>
<path d="M386.10,280.24V308.31M387.50,289.32V302.21M392.90,284.54V299.38M393.50,288.81V299.43M396.00,285.94V300.68M396.60,289.25V297.00M398.50,289.27V294.76M409.50,285.92V297.01M410.50,288.09V296.53M412.00,287.80V295.13M417.50,287.28V296.69M420.00,286.06V295.79M423.00,288.89V296.61M426.00,287.34V296.63M428.50,288.11V299.29M430.00,286.59V300.25M444.00,289.23V295.93M448.00,289.80V293.96" stroke="#f5a623" stroke-width="0.55" fill="none"/>
<line x1="408.6" y1="273.34" x2="408.6" y2="309.59" stroke="#f5a623" stroke-width="0.8" stroke-opacity="0.5"/>
<line x1="432.6" y1="273.34" x2="432.6" y2="309.59" stroke="#f5a623" stroke-width="0.8" stroke-opacity="0.8"/>
<rect x="385.1" y="274.74" width="2.6" height="1.8" fill="#b8b8b8"/>
<rect x="391.80" y="9.3" width="16.50" height="300.29" fill="#bababa" fill-opacity="0.42"/>
<rect x="415.90" y="9.3" width="16.20" height="300.29" fill="#c58acb" fill-opacity="0.51"/>
<rect x="439.70" y="9.3" width="16.30" height="300.29" fill="#1a6292" fill-opacity="0.415"/>
<defs><clipPath id="wtop"><rect x="408.3" y="0" width="50" height="315"/></clipPath></defs>
<path d="M384.00,26.43V28.63M384.50,26.05V28.82M385.00,25.98V28.68M385.50,25.81V28.67M386.00,25.37V28.93M386.50,25.53V28.81M387.00,26.06V28.94M387.50,25.36V28.81M388.00,25.73V29.44M388.50,26.08V29.21M389.00,26.22V28.98M389.50,25.72V28.80M390.00,25.40V28.84M390.50,25.65V29.44M391.00,25.73V29.50M391.50,25.58V29.32M392.00,26.62V28.38M392.50,26.60V28.51M393.00,26.53V28.46M393.50,26.32V28.41M394.00,26.35V28.54M394.50,26.39V28.34M395.00,26.48V28.16M395.50,26.34V28.17M396.00,24.63V29.02M396.50,26.61V28.39M397.00,26.39V28.37M397.50,26.76V28.14M398.00,26.50V28.44M398.50,26.57V28.55M399.00,26.41V28.39M399.50,26.53V28.35M400.00,26.69V28.48M400.50,26.74V28.18M401.00,26.72V28.15M401.50,26.70V28.12M402.00,26.57V28.35M402.50,26.59V28.31M403.00,26.48V28.21M403.50,26.66V28.29M404.00,26.47V28.57M404.50,26.64V28.44M405.00,26.27V28.28M405.50,26.63V28.24M406.00,26.27V28.36M406.50,26.76V28.12M407.00,26.45V28.40M407.50,26.36V28.26M408.00,24.79V30.49M408.50,23.99V29.44M409.00,24.92V30.59M409.50,24.12V29.41M410.00,24.40V30.16M410.50,24.88V30.07M411.00,25.21V30.66M411.50,25.04V30.33M412.00,25.24V30.27M412.50,25.28V29.85M413.00,24.59V29.74M413.50,24.76V30.46M414.00,25.32V29.47M414.50,25.42V29.63M415.00,25.31V30.33M415.50,24.60V30.84M416.00,23.70V30.96M416.50,23.48V31.13M417.00,23.55V30.43M417.50,23.60V30.44M418.00,23.67V31.33M418.50,23.72V31.18M419.00,24.50V30.33M419.50,23.93V30.45M420.00,24.48V30.84M420.50,24.31V30.36M421.00,22.02V34.82M421.50,21.95V32.01M422.00,23.44V30.32M422.50,23.56V30.44M423.00,24.20V31.29M423.50,23.50V30.52M424.00,24.16V31.16M424.50,23.50V31.10M425.00,24.19V30.54M425.50,23.80V30.80M426.00,24.52V31.32M426.50,22.09V35.15M427.00,24.53V30.86M427.50,24.12V30.53M428.00,24.24V30.55M428.50,23.54V31.36M429.00,24.51V30.61M429.50,24.34V31.05M430.00,24.15V30.50M430.50,24.13V31.17M431.00,24.09V30.33M431.50,24.50V30.86M432.00,23.66V30.71M432.50,25.78V29.41M433.00,25.30V29.10M433.50,25.71V29.76M434.00,25.69V29.61M434.50,25.79V29.32M435.00,25.83V28.88M435.50,25.41V29.66M436.00,25.82V29.79M436.50,25.33V29.42M437.00,25.33V29.73M437.50,25.52V29.70M438.00,25.66V29.82M438.50,26.00V29.80M439.00,25.49V29.58M439.50,25.94V29.63M440.00,26.24V28.36M440.50,26.34V28.40M441.00,26.71V28.47M441.50,26.64V28.16M442.00,26.40V28.44M442.50,26.56V28.48M443.00,26.47V28.32M443.50,26.64V28.41M444.00,26.33V28.50M444.50,25.23V30.42M445.00,26.36V28.26M445.50,26.50V28.44M446.00,26.28V28.36M446.50,25.20V28.76M447.00,26.40V28.58M447.50,26.24V28.19M448.00,26.34V28.24M448.50,26.65V28.28M449.00,26.53V28.32M449.50,26.38V28.18M450.00,26.33V28.13M450.50,26.72V28.34M451.00,26.72V28.15M451.50,26.60V28.38M452.00,26.42V28.60M452.50,26.55V28.61M453.00,26.59V28.33M453.50,26.53V28.27M454.00,26.41V28.51M454.50,26.39V28.33M455.00,26.23V28.37M455.50,26.55V28.12M386.10,17.60V42.16M387.50,25.55V36.82M392.90,21.31V34.41M393.50,24.86V35.13M396.00,22.52V35.60M396.60,25.33V32.66M398.50,25.46V30.38M409.50,22.00V32.85M410.50,23.02V34.04M412.00,23.17V31.68M417.50,23.11V32.81M420.00,21.84V31.89M423.00,24.07V34.14M426.00,23.08V32.86M428.50,24.08V35.22M430.00,22.82V35.72M444.00,25.13V32.02M448.00,25.20V30.76M384.00,63.85V66.18M384.50,63.62V66.36M385.00,64.10V66.19M385.50,63.32V66.54M386.00,63.88V66.52M386.50,63.25V66.67M387.00,63.65V66.92M387.50,63.76V66.73M388.00,63.85V67.09M388.50,63.35V67.14M389.00,63.60V66.73M389.50,63.34V66.35M390.00,61.35V66.69M390.50,62.89V66.75M391.00,63.81V66.96M391.50,63.62V66.93M392.00,64.24V66.24M392.50,64.05V66.15M393.00,63.44V69.63M393.50,64.05V66.22M394.00,64.14V66.19M394.50,64.09V65.87M395.00,64.09V66.17M395.50,64.26V66.25M396.00,64.01V66.24M396.50,64.45V66.08M397.00,64.31V65.83M397.50,64.08V65.85M398.00,64.36V65.91M398.50,64.00V66.25M399.00,64.44V66.13M399.50,64.48V66.12M400.00,64.26V66.09M400.50,64.37V65.94M401.00,64.21V66.07M401.50,64.02V65.95M402.00,63.38V66.27M402.50,64.41V65.86M403.00,64.30V66.03M403.50,64.15V66.15M404.00,64.16V66.08M404.50,64.21V65.96M405.00,64.12V65.92M405.50,64.11V69.92M406.00,64.12V66.02M406.50,64.35V66.16M407.00,64.10V66.04M407.50,64.03V65.83M408.00,62.49V67.53M408.50,62.95V68.23M409.00,63.07V68.15M409.50,62.22V68.15M410.00,61.98V67.63M410.50,62.95V68.18M411.00,62.77V67.48M411.50,61.98V67.27M412.00,62.88V67.36M412.50,62.29V68.11M413.00,62.50V67.18M413.50,62.40V68.19M414.00,62.41V67.46M414.50,61.78V67.62M415.00,61.82V67.98M415.50,61.14V70.14M416.00,61.16V68.70M416.50,60.95V70.30M417.00,61.16V68.36M417.50,61.46V68.46M418.00,62.09V68.98M418.50,61.42V69.07M419.00,62.22V68.37M419.50,61.74V68.25M420.00,62.08V68.52M420.50,61.28V68.87M421.00,62.05V68.89M421.50,61.68V68.07M422.00,62.12V68.69M422.50,61.54V68.79M423.00,61.38V69.07M423.50,59.16V69.34M424.00,61.52V68.44M424.50,62.04V69.09M425.00,62.12V69.13M425.50,61.24V68.24M426.00,61.38V68.84M426.50,61.18V68.84M427.00,61.94V68.47M427.50,61.69V68.57M428.00,60.20V71.84M428.50,62.25V68.80M429.00,61.56V68.72M429.50,61.21V68.30M430.00,61.77V68.10M430.50,61.41V68.14M431.00,61.28V68.53M431.50,61.34V68.21M432.00,61.39V68.99M432.50,63.03V67.05M433.00,63.00V67.31M433.50,63.71V67.29M434.00,63.75V66.79M434.50,63.22V67.11M435.00,63.18V67.43M435.50,63.19V67.28M436.00,63.62V67.10M436.50,63.64V66.68M437.00,63.45V66.67M437.50,63.33V67.35M438.00,62.93V66.60M438.50,63.07V66.53M439.00,63.61V66.76M439.50,63.60V67.27M440.00,64.33V66.28M440.50,64.06V66.14M441.00,64.00V66.20M441.50,64.16V65.99M442.00,63.97V66.34M442.50,63.66V67.95M443.00,64.00V66.29M443.50,64.22V66.31M444.00,64.40V66.05M444.50,63.48V66.80M445.00,64.15V66.05M445.50,64.14V66.15M446.00,64.35V66.30M446.50,64.03V66.24M447.00,64.43V66.02M447.50,64.35V66.28M448.00,64.09V66.09M448.50,64.04V65.92M449.00,64.06V66.16M449.50,64.00V66.00M450.00,62.31V68.15M450.50,64.04V66.02M451.00,63.95V65.87M451.50,64.21V65.99M452.00,64.34V66.27M452.50,63.96V66.10M453.00,64.05V66.14M453.50,63.83V67.85M454.00,64.29V65.98M454.50,64.07V66.05M455.00,64.05V65.95M455.50,64.44V66.03M386.10,56.32V78.38M387.50,63.31V74.30M392.90,59.13V72.02M393.50,61.72V75.41M396.00,58.51V76.21M396.60,63.49V69.29M398.50,63.17V68.11M409.50,60.88V69.41M410.50,61.92V69.98M412.00,61.64V68.65M417.50,60.96V70.37M420.00,60.22V69.09M423.00,62.44V70.55M426.00,61.13V70.16M428.50,62.66V70.95M430.00,60.55V73.42M444.00,63.48V68.48M448.00,62.97V68.41M384.00,101.86V104.18M384.50,101.48V104.18M385.00,99.96V106.63M385.50,101.20V104.86M386.00,101.33V104.27M386.50,100.94V104.69M387.00,101.27V104.52M387.50,101.19V104.20M388.00,101.10V104.67M388.50,101.58V104.36M389.00,101.21V104.74M389.50,101.31V104.88M390.00,101.48V104.59M390.50,101.28V104.57M391.00,101.06V104.86M391.50,101.09V104.49M392.00,101.98V103.83M392.50,101.87V103.72M393.00,101.91V103.98M393.50,101.94V104.01M394.00,102.01V103.99M394.50,102.12V103.56M395.00,101.77V103.72M395.50,101.87V103.99M396.00,101.98V103.85M396.50,102.00V103.60M397.00,102.09V103.56M397.50,102.13V103.58M398.00,102.00V103.68M398.50,102.00V103.65M399.00,102.06V103.89M399.50,101.97V103.92M400.00,101.98V103.94M400.50,102.09V103.57M401.00,101.81V103.72M401.50,101.73V103.98M402.00,102.20V103.66M402.50,101.88V103.87M403.00,101.86V104.00M403.50,101.97V103.94M404.00,101.82V103.89M404.50,102.18V103.62M405.00,102.13V103.75M405.50,101.97V103.96M406.00,102.04V103.59M406.50,101.98V103.65M407.00,102.20V103.81M407.50,101.93V103.98M408.00,99.47V104.94M408.50,98.24V108.49M409.00,100.00V105.54M409.50,99.54V106.15M410.00,99.46V105.67M410.50,99.85V105.00M411.00,99.92V105.15M411.50,100.78V105.11M412.00,100.55V106.16M412.50,100.38V105.55M413.00,99.45V105.20M413.50,100.58V105.01M414.00,100.38V105.57M414.50,100.75V104.93M415.00,99.41V104.87M415.50,99.41V106.08M416.00,97.98V110.22M416.50,99.55V106.24M417.00,99.56V106.65M417.50,99.72V106.11M418.00,99.15V106.65M418.50,98.96V106.69M419.00,99.66V105.85M419.50,99.03V106.74M420.00,99.16V106.78M420.50,99.95V105.94M421.00,99.22V106.66M421.50,99.21V106.84M422.00,99.49V106.77M422.50,99.71V106.40M423.00,97.93V108.40M423.50,99.66V105.82M424.00,99.61V105.86M424.50,99.22V105.84M425.00,99.89V106.27M425.50,99.03V106.74M426.00,99.65V106.11M426.50,99.41V106.46M427.00,99.77V106.18M427.50,99.61V106.69M428.00,99.96V106.31M428.50,97.82V108.10M429.00,98.97V106.69M429.50,99.16V106.14M430.00,99.38V106.16M430.50,99.26V106.75M431.00,99.58V105.93M431.50,99.55V105.85M432.00,99.60V106.65M432.50,100.73V105.26M433.00,101.10V105.25M433.50,101.14V104.40M434.00,101.15V105.16M434.50,101.30V105.27M435.00,100.71V104.87M435.50,100.50V104.45M436.00,100.70V104.68M436.50,100.62V104.78M437.00,100.85V104.87M437.50,100.68V104.74M438.00,100.87V104.41M438.50,101.31V105.18M439.00,101.28V104.45M439.50,101.01V104.63M440.00,102.00V103.62M440.50,101.72V104.05M441.00,101.79V103.72M441.50,101.97V103.61M442.00,101.91V103.65M442.50,102.00V103.94M443.00,101.92V103.90M443.50,102.03V103.99M444.00,101.99V103.87M444.50,101.73V103.85M445.00,101.71V104.03M445.50,101.82V103.92M446.00,102.12V104.03M446.50,102.00V103.84M447.00,101.75V103.61M447.50,101.69V104.06M448.00,101.88V104.02M448.50,101.74V104.07M449.00,102.11V103.94M449.50,101.71V103.79M450.00,102.11V104.00M450.50,102.11V103.61M451.00,101.96V103.97M451.50,101.93V103.94M452.00,102.08V103.80M452.50,101.70V103.60M453.00,101.71V103.88M453.50,99.63V106.06M454.00,102.08V104.04M454.50,102.16V103.93M455.00,99.62V106.08M455.50,101.83V103.92M386.10,94.25V115.79M387.50,100.97V112.35M392.90,95.81V110.92M393.50,99.56V112.79M396.00,96.71V113.12M396.60,100.92V107.72M398.50,100.69V106.13M409.50,97.39V108.34M410.50,99.32V108.19M412.00,99.41V106.32M417.50,99.66V106.87M420.00,97.34V107.29M423.00,100.24V108.11M426.00,98.86V107.88M428.50,99.91V109.75M430.00,97.71V112.14M444.00,100.61V107.38M448.00,100.81V105.95M384.00,139.02V141.79M384.50,139.19V141.63M385.00,139.28V141.57M385.50,138.58V142.57M386.00,139.31V141.99M386.50,139.36V141.99M387.00,139.27V142.26M387.50,139.02V142.44M388.00,139.01V142.49M388.50,138.64V142.01M389.00,138.86V142.64M389.50,138.96V142.01M390.00,139.19V142.67M390.50,138.58V142.26M391.00,139.12V142.22M391.50,139.01V142.01M392.00,139.47V141.29M392.50,139.58V141.29M393.00,139.43V141.73M393.50,139.54V141.60M394.00,139.65V141.54M394.50,139.52V141.46M395.00,137.95V144.96M395.50,139.66V141.52M396.00,139.81V141.44M396.50,139.61V141.43M397.00,139.76V141.52M397.50,139.76V141.58M398.00,139.66V141.73M398.50,139.47V141.34M399.00,139.52V141.26M399.50,139.49V141.71M400.00,139.75V141.41M400.50,139.89V141.26M401.00,139.61V141.33M401.50,139.78V141.68M402.00,139.57V141.61M402.50,139.80V141.50M403.00,139.63V141.41M403.50,139.72V141.31M404.00,139.48V141.58M404.50,138.03V141.78M405.00,139.76V141.36M405.50,139.59V141.67M406.00,139.92V141.74M406.50,136.85V143.42M407.00,139.50V141.63M407.50,139.53V141.37M408.00,137.96V143.70M408.50,137.48V143.43M409.00,138.32V143.55M409.50,137.84V143.64M410.00,137.20V142.72M410.50,137.69V143.59M411.00,137.22V143.25M411.50,136.15V145.07M412.00,137.19V143.47M412.50,138.08V143.12M413.00,138.44V143.53M413.50,137.93V143.62M414.00,137.95V143.05M414.50,137.62V142.71M415.00,138.44V143.56M415.50,137.17V143.28M416.00,137.12V144.38M416.50,136.99V143.51M417.00,136.87V143.93M417.50,136.99V144.38M418.00,136.63V144.20M418.50,137.23V143.77M419.00,137.42V144.46M419.50,137.65V143.50M420.00,136.31V147.38M420.50,136.89V144.38M421.00,136.96V143.69M421.50,136.64V143.71M422.00,137.46V144.43M422.50,137.04V144.42M423.00,136.68V144.33M423.50,137.44V144.07M424.00,136.82V144.20M424.50,137.03V143.76M425.00,136.61V144.18M425.50,137.44V143.60M426.00,137.04V144.28M426.50,136.73V144.84M427.00,137.43V143.63M427.50,137.33V144.39M428.00,135.88V148.29M428.50,136.93V144.42M429.00,137.43V143.58M429.50,137.29V143.99M430.00,137.67V143.90M430.50,136.97V144.11M431.00,137.22V143.88M431.50,137.25V144.36M432.00,136.89V143.48M432.50,138.38V142.85M433.00,139.00V142.96M433.50,139.11V142.99M434.00,138.90V142.49M434.50,138.61V142.39M435.00,138.45V142.28M435.50,138.43V142.94M436.00,138.31V142.70M436.50,138.26V142.49M437.00,138.99V143.00M437.50,136.87V145.42M438.00,138.31V142.90M438.50,138.33V142.44M439.00,138.76V142.72M439.50,138.79V142.81M440.00,139.81V141.58M440.50,139.59V141.29M441.00,139.69V141.66M441.50,139.88V141.52M442.00,139.49V141.55M442.50,139.81V141.34M443.00,139.55V141.67M443.50,139.59V141.46M444.00,139.84V141.36M444.50,139.72V141.78M445.00,139.71V141.37M445.50,139.63V141.41M446.00,139.63V141.67M446.50,139.46V141.33M447.00,139.59V141.36M447.50,139.87V141.49M448.00,139.87V141.51M448.50,139.50V141.76M449.00,139.58V141.59M449.50,139.83V141.54M450.00,139.89V141.73M450.50,139.72V141.69M451.00,139.52V141.56M451.50,139.63V141.32M452.00,139.78V141.57M452.50,139.52V141.31M453.00,139.39V141.52M453.50,137.11V144.12M454.00,139.69V141.70M454.50,139.43V141.72M455.00,139.84V141.51M455.50,139.61V141.35M386.10,131.15V154.73M387.50,138.76V149.72M392.90,133.56V148.62M393.50,137.62V149.47M396.00,133.93V151.67M396.60,138.67V145.37M398.50,138.58V143.59M409.50,135.31V145.86M410.50,137.16V145.73M412.00,136.63V144.54M417.50,137.13V144.90M420.00,135.72V144.48M423.00,137.65V146.45M426.00,136.12V146.17M428.50,137.17V148.54M430.00,136.05V148.75M444.00,138.39V144.98M448.00,138.72V143.38M384.00,176.76V179.79M384.50,177.25V179.43M385.00,176.86V179.22M385.50,176.30V179.61M386.00,176.81V180.09M386.50,176.58V179.86M387.00,176.55V180.07M387.50,176.69V179.99M388.00,176.94V180.02M388.50,176.57V180.23M389.00,176.88V179.88M389.50,176.79V180.40M390.00,176.35V179.54M390.50,176.38V180.00M391.00,176.28V180.40M391.50,176.63V179.54M392.00,177.57V179.04M392.50,175.16V180.02M393.00,177.61V179.27M393.50,177.33V179.24M394.00,177.29V179.12M394.50,177.30V179.39M395.00,177.23V179.22M395.50,174.53V180.05M396.00,177.41V179.19M396.50,177.36V179.26M397.00,177.34V179.12M397.50,177.17V179.28M398.00,177.64V179.31M398.50,177.56V179.13M399.00,177.60V179.07M399.50,177.52V179.36M400.00,177.55V178.99M400.50,177.53V179.23M401.00,177.55V179.21M401.50,177.21V179.24M402.00,177.37V179.43M402.50,177.45V179.07M403.00,177.26V179.27M403.50,177.20V179.03M404.00,177.26V179.42M404.50,177.64V179.24M405.00,177.63V179.14M405.50,177.63V179.05M406.00,177.25V179.12M406.50,177.31V178.97M407.00,177.59V179.36M407.50,177.46V179.37M408.00,176.22V180.43M408.50,175.86V180.94M409.00,174.88V181.28M409.50,175.41V180.63M410.00,176.09V181.15M410.50,174.94V180.74M411.00,176.00V180.59M411.50,175.10V181.51M412.00,175.47V180.50M412.50,176.28V181.67M413.00,175.26V180.29M413.50,175.43V180.56M414.00,172.88V184.67M414.50,175.52V180.34M415.00,175.42V180.65M415.50,175.22V181.26M416.00,174.36V181.77M416.50,175.29V181.77M417.00,174.39V181.71M417.50,173.07V182.79M418.00,173.74V185.70M418.50,174.52V182.06M419.00,174.36V182.13M419.50,174.82V181.90M420.00,173.85V184.99M420.50,174.78V182.07M421.00,174.37V181.50M421.50,174.39V181.56M422.00,174.96V181.36M422.50,175.02V181.22M423.00,175.02V181.46M423.50,175.41V182.04M424.00,175.32V181.63M424.50,175.38V181.51M425.00,174.76V181.41M425.50,175.01V182.25M426.00,174.61V183.57M426.50,174.81V182.00M427.00,174.75V182.28M427.50,175.16V181.40M428.00,174.71V181.74M428.50,175.33V181.44M429.00,175.14V181.76M429.50,175.22V181.72M430.00,174.59V182.11M430.50,174.78V181.44M431.00,174.39V181.41M431.50,175.20V182.17M432.00,175.25V181.87M432.50,176.49V180.46M433.00,176.52V179.76M433.50,176.28V180.68M434.00,176.86V179.89M434.50,176.17V180.00M435.00,176.73V179.97M435.50,176.19V180.56M436.00,176.35V180.69M436.50,176.80V180.36M437.00,176.88V179.77M437.50,176.55V179.80M438.00,176.49V180.67M438.50,176.64V180.68M439.00,174.03V181.94M439.50,175.91V180.24M440.00,177.42V179.17M440.50,177.57V179.35M441.00,177.13V179.12M441.50,177.48V179.43M442.00,177.61V179.09M442.50,177.11V179.43M443.00,177.30V179.39M443.50,175.63V183.28M444.00,177.33V179.18M444.50,177.15V179.34M445.00,177.12V179.35M445.50,177.19V179.38M446.00,177.26V179.40M446.50,177.21V179.31M447.00,177.39V179.47M447.50,177.59V179.25M448.00,177.17V179.47M448.50,177.43V179.34M449.00,177.28V179.46M449.50,177.37V179.35M450.00,177.42V179.18M450.50,177.27V179.27M451.00,177.43V179.04M451.50,177.57V179.11M452.00,177.33V179.43M452.50,177.44V179.18M453.00,177.60V179.08M453.50,177.54V179.20M454.00,177.30V179.44M454.50,177.22V179.00M455.00,177.54V179.40M455.50,177.32V179.44M386.10,168.88V192.44M387.50,176.32V188.22M392.90,171.09V186.55M393.50,175.28V187.38M396.00,172.36V188.21M396.60,176.61V182.54M398.50,176.03V181.72M409.50,173.03V183.58M410.50,173.87V184.95M412.00,174.00V182.61M417.50,174.80V182.69M420.00,173.53V182.13M423.00,175.28V184.36M426.00,174.86V182.61M428.50,175.05V185.91M430.00,173.45V187.05M444.00,176.30V182.32M448.00,176.06V181.67M384.00,214.53V217.16M384.50,214.48V217.14M385.00,214.90V217.04M385.50,214.15V217.36M386.00,214.51V217.38M386.50,214.48V217.64M387.00,214.00V217.43M387.50,214.27V218.09M388.00,214.35V217.45M388.50,213.93V217.79M389.00,214.08V217.91M389.50,213.95V218.10M390.00,214.47V217.70M390.50,214.14V217.79M391.00,214.36V217.76M391.50,214.11V218.06M392.00,215.30V216.89M392.50,215.24V216.75M393.00,215.13V217.07M393.50,214.31V217.20M394.00,214.94V216.84M394.50,215.14V216.97M395.00,215.04V216.72M395.50,215.19V217.17M396.00,215.25V217.14M396.50,215.32V217.08M397.00,215.12V216.77M397.50,212.55V217.75M398.00,215.31V216.87M398.50,214.87V216.79M399.00,215.23V217.11M399.50,215.03V217.10M400.00,215.13V216.69M400.50,215.02V217.06M401.00,215.34V217.05M401.50,214.94V217.06M402.00,215.19V216.86M402.50,215.05V216.85M403.00,215.25V216.82M403.50,215.23V217.07M404.00,214.91V216.70M404.50,215.09V216.86M405.00,215.03V216.84M405.50,215.15V216.92M406.00,215.13V216.70M406.50,215.22V216.91M407.00,214.45V220.24M407.50,215.03V217.04M408.00,213.37V219.10M408.50,213.38V218.12M409.00,212.64V219.33M409.50,213.52V218.90M410.00,213.36V219.27M410.50,213.90V219.09M411.00,213.89V218.78M411.50,213.08V219.01M412.00,213.41V219.47M412.50,213.36V218.15M413.00,213.06V219.03M413.50,213.65V218.31M414.00,213.55V219.36M414.50,213.34V219.49M415.00,213.36V218.63M415.50,213.37V222.48M416.00,212.34V219.38M416.50,212.61V219.20M417.00,212.74V219.57M417.50,212.49V218.96M418.00,213.12V219.43M418.50,213.00V219.99M419.00,212.93V219.28M419.50,212.53V220.02M420.00,212.88V219.70M420.50,211.93V222.71M421.00,213.08V218.96M421.50,213.07V219.10M422.00,212.94V219.76M422.50,212.63V219.40M423.00,212.78V219.50M423.50,212.55V219.31M424.00,212.63V219.33M424.50,212.20V219.58M425.00,212.22V219.31M425.50,213.03V219.45M426.00,212.71V219.10M426.50,212.76V219.35M427.00,212.18V219.87M427.50,212.71V219.23M428.00,212.22V219.59M428.50,212.37V219.28M429.00,213.02V219.56M429.50,213.05V219.23M430.00,213.00V219.00M430.50,212.06V219.56M431.00,212.60V219.03M431.50,212.63V219.88M432.00,212.06V219.57M432.50,214.08V217.58M433.00,214.36V218.25M433.50,214.42V217.54M434.00,214.62V217.60M434.50,213.69V217.85M435.00,214.45V218.44M435.50,212.39V220.21M436.00,213.92V218.21M436.50,214.62V218.11M437.00,212.57V221.32M437.50,213.73V218.36M438.00,213.93V218.11M438.50,213.85V217.57M439.00,214.01V218.18M439.50,214.58V218.44M440.00,215.15V217.08M440.50,215.23V216.92M441.00,214.90V216.93M441.50,214.92V216.82M442.00,215.33V216.83M442.50,215.07V217.11M443.00,215.22V216.92M443.50,215.27V216.80M444.00,214.92V217.15M444.50,215.20V217.10M445.00,214.93V217.02M445.50,215.27V217.16M446.00,215.04V216.85M446.50,215.12V216.83M447.00,214.97V217.13M447.50,215.13V217.02M448.00,214.99V217.14M448.50,215.32V217.08M449.00,215.24V217.10M449.50,215.07V217.03M450.00,214.98V216.86M450.50,215.09V217.13M451.00,215.24V216.85M451.50,215.26V216.96M452.00,214.82V216.76M452.50,215.25V216.91M453.00,215.25V216.98M453.50,214.90V217.00M454.00,214.89V217.19M454.50,215.28V216.77M455.00,215.24V216.75M455.50,215.03V216.80M386.10,206.59V230.18M387.50,214.10V225.63M392.90,209.54V223.43M393.50,213.49V223.64M396.00,209.85V226.31M396.60,214.19V220.61M398.50,213.82V219.33M409.50,210.30V221.75M410.50,212.78V220.90M412.00,211.75V220.30M417.50,211.79V221.32M420.00,211.51V219.64M423.00,213.02V222.04M426.00,212.41V220.54M428.50,212.72V223.74M430.00,211.44V224.29M444.00,213.97V220.13M448.00,214.25V218.69M384.00,249.54V258.54M384.50,252.81V255.19M385.00,252.72V255.30M385.50,252.14V255.53M386.00,251.87V255.20M386.50,252.42V255.19M387.00,252.48V255.26M387.50,250.17V255.74M388.00,252.38V255.62M388.50,252.05V255.49M389.00,252.16V255.08M389.50,252.36V255.17M390.00,251.74V255.14M390.50,252.30V255.06M391.00,251.69V255.63M391.50,252.05V255.35M392.00,252.76V254.52M392.50,252.89V254.74M393.00,252.76V254.47M393.50,252.72V254.67M394.00,253.04V254.67M394.50,252.84V254.77M395.00,252.68V254.51M395.50,252.71V254.46M396.00,252.94V254.79M396.50,253.05V254.77M397.00,252.66V254.54M397.50,252.92V254.63M398.00,252.82V254.46M398.50,253.06V254.89M399.00,252.94V254.49M399.50,253.08V254.48M400.00,252.82V254.76M400.50,252.92V254.78M401.00,252.68V254.67M401.50,253.07V254.50M402.00,252.81V254.71M402.50,253.06V254.56M403.00,252.76V254.52M403.50,252.82V254.60M404.00,250.06V255.73M404.50,252.64V254.64M405.00,252.67V254.46M405.50,252.95V254.79M406.00,252.67V254.57M406.50,252.82V254.55M407.00,253.04V254.72M407.50,252.81V254.84M408.00,251.72V256.62M408.50,250.88V256.53M409.00,250.78V255.86M409.50,251.46V256.04M410.00,251.44V256.99M410.50,249.83V259.76M411.00,250.42V255.80M411.50,250.32V255.86M412.00,250.41V256.24M412.50,250.90V256.65M413.00,251.44V256.47M413.50,250.37V257.07M414.00,251.56V255.99M414.50,251.07V256.99M415.00,251.71V255.90M415.50,251.36V256.32M416.00,250.80V256.74M416.50,250.84V257.01M417.00,250.75V256.72M417.50,250.10V257.18M418.00,249.84V257.15M418.50,250.30V257.17M419.00,248.46V260.74M419.50,250.04V257.56M420.00,250.31V257.10M420.50,250.61V256.97M421.00,250.82V257.72M421.50,250.29V257.32M422.00,250.35V256.74M422.50,250.65V257.08M423.00,249.91V256.72M423.50,250.17V257.67M424.00,250.28V257.59M424.50,250.86V257.19M425.00,250.72V257.39M425.50,249.93V257.00M426.00,250.61V256.89M426.50,250.14V256.93M427.00,250.67V257.60M427.50,249.83V256.88M428.00,250.59V257.43M428.50,250.05V257.08M429.00,250.50V257.58M429.50,250.66V256.72M430.00,249.94V257.38M430.50,250.79V257.12M431.00,250.60V257.68M431.50,250.47V257.73M432.00,249.94V257.14M432.50,251.34V255.95M433.00,251.68V255.79M433.50,251.64V255.49M434.00,251.93V255.34M434.50,251.42V255.56M435.00,252.20V255.69M435.50,251.64V255.81M436.00,252.35V255.13M436.50,251.74V255.99M437.00,251.61V255.88M437.50,252.30V255.92M438.00,251.69V256.05M438.50,251.55V255.46M439.00,251.93V255.97M439.50,251.42V255.86M440.00,252.65V254.69M440.50,251.86V256.14M441.00,253.02V254.80M441.50,252.80V254.91M442.00,252.72V256.87M442.50,253.03V254.79M443.00,252.94V254.82M443.50,252.67V254.44M444.00,252.83V254.56M444.50,252.62V254.55M445.00,252.83V254.64M445.50,252.78V254.73M446.00,252.79V254.72M446.50,252.92V254.50M447.00,252.64V254.67M447.50,252.77V254.48M448.00,252.57V254.69M448.50,253.00V254.48M449.00,253.01V254.82M449.50,252.75V254.68M450.00,252.84V254.95M450.50,252.68V254.44M451.00,252.81V254.74M451.50,252.95V254.56M452.00,252.54V254.83M452.50,252.76V254.58M453.00,253.01V254.45M453.50,252.78V254.90M454.00,252.79V254.74M454.50,249.96V257.21M455.00,252.79V254.46M455.50,252.70V254.89M386.10,244.81V267.15M387.50,251.48V265.08M392.90,245.70V262.94M393.50,250.88V262.34M396.00,247.54V264.09M396.60,252.01V258.09M398.50,251.60V256.97M409.50,248.04V259.45M410.50,250.27V258.95M412.00,250.06V257.43M417.50,249.23V259.38M420.00,249.40V257.22M423.00,250.51V260.21M426.00,249.73V258.76M428.50,250.53V261.24M430.00,248.96V262.35M444.00,251.47V258.30M448.00,251.58V257.00M384.00,290.40V292.76M384.50,290.12V292.69M385.00,290.47V293.04M385.50,290.04V293.20M386.00,289.45V292.92M386.50,290.10V293.20M387.00,289.60V292.79M387.50,290.20V292.81M388.00,290.13V292.91M388.50,289.88V293.44M389.00,289.71V293.03M389.50,290.00V293.37M390.00,289.61V293.46M390.50,290.00V292.88M391.00,289.72V293.37M391.50,289.55V293.54M392.00,290.47V292.52M392.50,290.41V292.56M393.00,290.64V292.31M393.50,290.52V292.37M394.00,290.44V292.46M394.50,290.33V292.13M395.00,290.44V292.39M395.50,290.68V292.32M396.00,290.47V292.56M396.50,290.35V292.55M397.00,290.36V292.59M397.50,290.60V292.35M398.00,290.32V292.46M398.50,290.76V292.19M399.00,290.73V292.13M399.50,290.65V292.59M400.00,290.76V292.57M400.50,290.55V292.39M401.00,290.61V292.26M401.50,290.32V292.55M402.00,290.73V292.44M402.50,290.45V292.16M403.00,290.73V292.61M403.50,290.59V292.58M404.00,290.72V292.55M404.50,290.68V292.46M405.00,290.79V292.35M405.50,290.40V292.47M406.00,290.61V292.16M406.50,290.51V292.54M407.00,290.50V292.34M407.50,290.52V292.53M408.00,288.16V293.73M408.50,289.15V294.00M409.00,288.10V293.50M409.50,289.16V294.66M410.00,288.05V294.88M410.50,289.10V294.51M411.00,289.09V293.61M411.50,288.84V293.65M412.00,289.28V293.53M412.50,288.79V293.89M413.00,289.08V294.20M413.50,289.38V294.06M414.00,288.43V294.21M414.50,289.01V293.66M415.00,289.31V293.50M415.50,286.96V295.33M416.00,288.19V295.03M416.50,288.08V294.55M417.00,288.41V294.71M417.50,288.27V294.89M418.00,288.10V295.29M418.50,287.79V295.27M419.00,287.81V294.70M419.50,287.88V294.79M420.00,288.53V294.36M420.50,287.56V294.37M421.00,287.73V295.33M421.50,288.02V295.36M422.00,288.46V294.66M422.50,288.21V294.99M423.00,287.66V295.42M423.50,288.41V295.42M424.00,288.33V294.82M424.50,288.17V295.20M425.00,287.36V298.36M425.50,287.67V294.67M426.00,287.86V294.37M426.50,288.38V294.72M427.00,288.56V295.27M427.50,287.91V294.68M428.00,288.33V295.00M428.50,287.90V294.35M429.00,288.33V295.26M429.50,287.84V294.83M430.00,287.49V295.15M430.50,287.83V294.81M431.00,287.70V295.28M431.50,288.34V294.64M432.00,288.54V294.57M432.50,289.93V293.08M433.00,289.37V293.18M433.50,290.06V292.90M434.00,289.28V293.08M434.50,289.77V293.67M435.00,289.88V293.79M435.50,289.14V293.31M436.00,289.80V293.71M436.50,289.50V293.45M437.00,289.63V293.27M437.50,289.95V292.90M438.00,290.05V293.80M438.50,289.22V292.90M439.00,289.26V292.85M439.50,289.10V293.72M440.00,290.52V292.42M440.50,290.34V292.32M441.00,290.29V292.44M441.50,290.49V292.47M442.00,290.72V292.23M442.50,290.74V292.60M443.00,290.34V292.51M443.50,290.63V292.48M444.00,290.58V292.28M444.50,290.36V292.23M445.00,290.43V292.54M445.50,290.51V292.16M446.00,290.76V292.46M446.50,290.49V292.62M447.00,290.66V292.19M447.50,290.45V292.56M448.00,290.57V292.45M448.50,290.62V292.30M449.00,290.69V292.25M449.50,290.50V292.31M450.00,290.69V292.41M450.50,290.67V292.17M451.00,290.39V292.22M451.50,290.73V292.42M452.00,290.37V292.29M452.50,290.08V293.83M453.00,290.34V292.42M453.50,290.51V292.49M454.00,290.34V292.60M454.50,290.68V292.58M455.00,290.47V292.52M455.50,290.72V292.36M386.10,280.24V308.31M387.50,289.32V302.21M392.90,284.54V299.38M393.50,288.81V299.43M396.00,285.94V300.68M396.60,289.25V297.00M398.50,289.27V294.76M409.50,285.92V297.01M410.50,288.09V296.53M412.00,287.80V295.13M417.50,287.28V296.69M420.00,286.06V295.79M423.00,288.89V296.61M426.00,287.34V296.63M428.50,288.11V299.29M430.00,286.59V300.25M444.00,289.23V295.93M448.00,289.80V293.96" stroke="#f5a623" stroke-width="0.55" fill="none" opacity="0.55" clip-path="url(#wtop)"/>
<rect x="475.0" y="9.3" width="72" height="300.29" fill="#313131"/>
<rect x="475.30" y="40.35" width="1.00" height="5.20" fill="#8ccf24"/>
<rect x="476.30" y="40.35" width="1.50" height="5.20" fill="#86c42c"/>
<rect x="477.80" y="40.35" width="1.00" height="5.20" fill="#7cc021"/>
<rect x="478.80" y="40.35" width="1.00" height="5.20" fill="#94d030"/>
<rect x="479.80" y="40.35" width="3.00" height="5.20" fill="#9ad63a"/>
<rect x="482.80" y="40.35" width="2.00" height="5.20" fill="#b2e04e"/>
<rect x="484.80" y="40.35" width="2.00" height="5.20" fill="#94d030"/>
<rect x="486.80" y="40.35" width="3.00" height="5.20" fill="#94d030"/>
<rect x="489.80" y="40.35" width="2.00" height="5.20" fill="#9ad63a"/>
<rect x="491.80" y="40.35" width="1.50" height="5.20" fill="#94d030"/>
<rect x="493.30" y="40.35" width="3.00" height="5.20" fill="#a5dc45"/>
<rect x="496.30" y="40.35" width="3.00" height="5.20" fill="#9ad63a"/>
<rect x="499.30" y="40.35" width="4.00" height="5.20" fill="#6f9c2a"/>
<rect x="503.30" y="40.35" width="1.00" height="5.20" fill="#a5dc45"/>
<rect x="504.30" y="40.35" width="1.00" height="5.20" fill="#6f9c2a"/>
<rect x="506.80" y="40.35" width="3.00" height="5.20" fill="#86c42c"/>
<rect x="509.80" y="40.35" width="2.00" height="5.20" fill="#9ad63a"/>
<rect x="511.80" y="40.35" width="1.50" height="5.20" fill="#86c42c"/>
<rect x="513.30" y="40.35" width="4.00" height="5.20" fill="#9ad63a"/>
<rect x="517.30" y="40.35" width="2.00" height="5.20" fill="#6f9c2a"/>
<rect x="523.30" y="40.35" width="1.50" height="5.20" fill="#86c42c"/>
<rect x="524.80" y="40.35" width="1.00" height="5.20" fill="#94d030"/>
<rect x="525.80" y="40.35" width="2.00" height="5.20" fill="#6f9c2a"/>
<rect x="527.80" y="40.35" width="1.00" height="5.20" fill="#6f9c2a"/>
<rect x="528.80" y="40.35" width="2.00" height="5.20" fill="#8ccf24"/>
<rect x="530.80" y="40.35" width="4.00" height="5.20" fill="#b2e04e"/>
<rect x="534.80" y="40.35" width="1.50" height="5.20" fill="#94d030"/>
<rect x="536.30" y="40.35" width="1.50" height="5.20" fill="#a5dc45"/>
<rect x="537.80" y="40.35" width="4.00" height="5.20" fill="#9ad63a"/>
<rect x="541.80" y="40.35" width="2.00" height="5.20" fill="#8ccf24"/>
<rect x="543.80" y="40.35" width="1.00" height="5.20" fill="#86c42c"/>
<rect x="544.80" y="40.35" width="2.20" height="5.20" fill="#86c42c"/>
<rect x="475.0" y="45.55" width="72" height="1.47" fill="#e8e8e8"/>
<rect x="476.1" y="10.70" width="2.6" height="1.8" fill="#b8b8b8"/>
<rect x="475.30" y="78.07" width="1.00" height="5.20" fill="#b2e04e"/>
<rect x="476.30" y="78.07" width="1.00" height="5.20" fill="#6f9c2a"/>
<rect x="477.30" y="78.07" width="3.00" height="5.20" fill="#86c42c"/>
<rect x="480.30" y="78.07" width="3.00" height="5.20" fill="#94d030"/>
<rect x="483.30" y="78.07" width="1.50" height="5.20" fill="#94d030"/>
<rect x="484.80" y="78.07" width="1.00" height="5.20" fill="#a5dc45"/>
<rect x="485.80" y="78.07" width="1.50" height="5.20" fill="#9ad63a"/>
<rect x="487.30" y="78.07" width="1.50" height="5.20" fill="#7cc021"/>
<rect x="488.80" y="78.07" width="3.00" height="5.20" fill="#8ccf24"/>
<rect x="491.80" y="78.07" width="4.00" height="5.20" fill="#b2e04e"/>
<rect x="495.80" y="78.07" width="4.00" height="5.20" fill="#86c42c"/>
<rect x="499.80" y="78.07" width="3.00" height="5.20" fill="#86c42c"/>
<rect x="502.80" y="78.07" width="4.00" height="5.20" fill="#b2e04e"/>
<rect x="506.80" y="78.07" width="1.50" height="5.20" fill="#94d030"/>
<rect x="508.30" y="78.07" width="1.00" height="5.20" fill="#86c42c"/>
<rect x="509.30" y="78.07" width="1.00" height="5.20" fill="#7cc021"/>
<rect x="510.30" y="78.07" width="1.50" height="5.20" fill="#86c42c"/>
<rect x="511.80" y="78.07" width="4.00" height="5.20" fill="#9ad63a"/>
<rect x="515.80" y="78.07" width="2.00" height="5.20" fill="#a5dc45"/>
<rect x="517.80" y="78.07" width="2.00" height="5.20" fill="#7cc021"/>
<rect x="519.80" y="78.07" width="3.00" height="5.20" fill="#86c42c"/>
<rect x="522.80" y="78.07" width="4.00" height="5.20" fill="#8ccf24"/>
<rect x="526.80" y="78.07" width="1.00" height="5.20" fill="#7cc021"/>
<rect x="528.80" y="78.07" width="1.00" height="5.20" fill="#6f9c2a"/>
<rect x="529.80" y="78.07" width="3.00" height="5.20" fill="#8ccf24"/>
<rect x="532.80" y="78.07" width="1.50" height="5.20" fill="#94d030"/>
<rect x="534.30" y="78.07" width="4.00" height="5.20" fill="#6f9c2a"/>
<rect x="538.30" y="78.07" width="2.00" height="5.20" fill="#b2e04e"/>
<rect x="541.80" y="78.07" width="1.50" height="5.20" fill="#8ccf24"/>
<rect x="543.30" y="78.07" width="1.00" height="5.20" fill="#8ccf24"/>
<rect x="544.30" y="78.07" width="2.00" height="5.20" fill="#8ccf24"/>
<rect x="546.30" y="78.07" width="0.70" height="5.20" fill="#6f9c2a"/>
<rect x="475.0" y="83.27" width="72" height="1.47" fill="#e8e8e8"/>
<rect x="476.1" y="48.42" width="2.6" height="1.8" fill="#b8b8b8"/>
<rect x="475.30" y="115.79" width="1.30" height="5.20" fill="#b2e04e"/>
<rect x="476.60" y="115.79" width="0.80" height="5.20" fill="#b2e04e"/>
<rect x="477.40" y="115.79" width="0.50" height="5.20" fill="#94d030"/>
<rect x="478.40" y="115.79" width="1.00" height="5.20" fill="#94d030"/>
<rect x="479.40" y="115.79" width="2.00" height="5.20" fill="#a5dc45"/>
<rect x="481.40" y="115.79" width="1.30" height="5.20" fill="#7cc021"/>
<rect x="482.70" y="115.79" width="1.30" height="5.20" fill="#8ccf24"/>
<rect x="484.00" y="115.79" width="1.60" height="5.20" fill="#86c42c"/>
<rect x="485.60" y="115.79" width="1.30" height="5.20" fill="#94d030"/>
<rect x="488.70" y="115.79" width="0.50" height="5.20" fill="#86c42c"/>
<rect x="489.20" y="115.79" width="0.50" height="5.20" fill="#a5dc45"/>
<rect x="489.70" y="115.79" width="0.50" height="5.20" fill="#a5dc45"/>
<rect x="490.20" y="115.79" width="2.00" height="5.20" fill="#a5dc45"/>
<rect x="494.50" y="115.79" width="1.00" height="5.20" fill="#86c42c"/>
<rect x="497.30" y="115.79" width="0.50" height="5.20" fill="#b2e04e"/>
<rect x="497.80" y="115.79" width="1.30" height="5.20" fill="#6f9c2a"/>
<rect x="499.10" y="115.79" width="1.00" height="5.20" fill="#a5dc45"/>
<rect x="501.70" y="115.79" width="1.00" height="5.20" fill="#a5dc45"/>
<rect x="502.70" y="115.79" width="1.60" height="5.20" fill="#9ad63a"/>
<rect x="506.30" y="115.79" width="1.30" height="5.20" fill="#6f9c2a"/>
<rect x="507.60" y="115.79" width="0.50" height="5.20" fill="#7cc021"/>
<rect x="509.10" y="115.79" width="2.00" height="5.20" fill="#86c42c"/>
<rect x="511.10" y="115.79" width="2.00" height="5.20" fill="#7cc021"/>
<rect x="513.10" y="115.79" width="1.60" height="5.20" fill="#94d030"/>
<rect x="514.70" y="115.79" width="0.80" height="5.20" fill="#8ccf24"/>
<rect x="515.50" y="115.79" width="0.80" height="5.20" fill="#94d030"/>
<rect x="516.30" y="115.79" width="1.30" height="5.20" fill="#7cc021"/>
<rect x="517.60" y="115.79" width="0.50" height="5.20" fill="#a5dc45"/>
<rect x="518.10" y="115.79" width="1.60" height="5.20" fill="#8ccf24"/>
<rect x="519.70" y="115.79" width="0.50" height="5.20" fill="#9ad63a"/>
<rect x="520.20" y="115.79" width="1.30" height="5.20" fill="#6f9c2a"/>
<rect x="521.50" y="115.79" width="0.80" height="5.20" fill="#9ad63a"/>
<rect x="522.30" y="115.79" width="0.80" height="5.20" fill="#8ccf24"/>
<rect x="523.10" y="115.79" width="1.60" height="5.20" fill="#b2e04e"/>
<rect x="524.70" y="115.79" width="1.30" height="5.20" fill="#a5dc45"/>
<rect x="528.00" y="115.79" width="1.60" height="5.20" fill="#a5dc45"/>
<rect x="529.60" y="115.79" width="1.30" height="5.20" fill="#a5dc45"/>
<rect x="531.40" y="115.79" width="0.50" height="5.20" fill="#8ccf24"/>
<rect x="531.90" y="115.79" width="2.00" height="5.20" fill="#b2e04e"/>
<rect x="536.50" y="115.79" width="1.00" height="5.20" fill="#a5dc45"/>
<rect x="539.60" y="115.79" width="1.60" height="5.20" fill="#b2e04e"/>
<rect x="475.0" y="120.99" width="72" height="1.47" fill="#e8e8e8"/>
<rect x="476.1" y="86.14" width="2.6" height="1.8" fill="#b8b8b8"/>
<rect x="475.30" y="153.51" width="0.50" height="5.20" fill="#94d030"/>
<rect x="477.40" y="153.51" width="0.50" height="5.20" fill="#86c42c"/>
<rect x="477.90" y="153.51" width="1.60" height="5.20" fill="#8ccf24"/>
<rect x="479.50" y="153.51" width="0.80" height="5.20" fill="#9ad63a"/>
<rect x="482.30" y="153.51" width="0.50" height="5.20" fill="#6f9c2a"/>
<rect x="482.80" y="153.51" width="1.60" height="5.20" fill="#b2e04e"/>
<rect x="484.40" y="153.51" width="1.30" height="5.20" fill="#9ad63a"/>
<rect x="486.70" y="153.51" width="1.30" height="5.20" fill="#86c42c"/>
<rect x="488.00" y="153.51" width="1.60" height="5.20" fill="#8ccf24"/>
<rect x="489.60" y="153.51" width="1.30" height="5.20" fill="#7cc021"/>
<rect x="490.90" y="153.51" width="1.30" height="5.20" fill="#6f9c2a"/>
<rect x="492.20" y="153.51" width="0.50" height="5.20" fill="#94d030"/>
<rect x="492.70" y="153.51" width="1.00" height="5.20" fill="#6f9c2a"/>
<rect x="493.70" y="153.51" width="2.00" height="5.20" fill="#a5dc45"/>
<rect x="495.70" y="153.51" width="0.80" height="5.20" fill="#8ccf24"/>
<rect x="496.50" y="153.51" width="2.00" height="5.20" fill="#9ad63a"/>
<rect x="498.50" y="153.51" width="2.00" height="5.20" fill="#9ad63a"/>
<rect x="500.50" y="153.51" width="1.30" height="5.20" fill="#86c42c"/>
<rect x="501.80" y="153.51" width="1.00" height="5.20" fill="#9ad63a"/>
<rect x="503.30" y="153.51" width="1.30" height="5.20" fill="#8ccf24"/>
<rect x="504.60" y="153.51" width="1.30" height="5.20" fill="#8ccf24"/>
<rect x="507.90" y="153.51" width="2.00" height="5.20" fill="#a5dc45"/>
<rect x="509.90" y="153.51" width="1.60" height="5.20" fill="#b2e04e"/>
<rect x="512.50" y="153.51" width="1.30" height="5.20" fill="#7cc021"/>
<rect x="513.80" y="153.51" width="2.00" height="5.20" fill="#8ccf24"/>
<rect x="515.80" y="153.51" width="2.00" height="5.20" fill="#a5dc45"/>
<rect x="517.80" y="153.51" width="1.30" height="5.20" fill="#9ad63a"/>
<rect x="519.10" y="153.51" width="0.80" height="5.20" fill="#9ad63a"/>
<rect x="519.90" y="153.51" width="2.00" height="5.20" fill="#a5dc45"/>
<rect x="521.90" y="153.51" width="0.50" height="5.20" fill="#9ad63a"/>
<rect x="523.40" y="153.51" width="1.60" height="5.20" fill="#86c42c"/>
<rect x="525.00" y="153.51" width="0.80" height="5.20" fill="#7cc021"/>
<rect x="525.80" y="153.51" width="2.00" height="5.20" fill="#86c42c"/>
<rect x="527.80" y="153.51" width="1.30" height="5.20" fill="#9ad63a"/>
<rect x="529.10" y="153.51" width="1.30" height="5.20" fill="#8ccf24"/>
<rect x="530.40" y="153.51" width="0.50" height="5.20" fill="#b2e04e"/>
<rect x="530.90" y="153.51" width="1.00" height="5.20" fill="#9ad63a"/>
<rect x="532.40" y="153.51" width="1.00" height="5.20" fill="#a5dc45"/>
<rect x="533.40" y="153.51" width="0.80" height="5.20" fill="#7cc021"/>
<rect x="538.70" y="153.51" width="2.00" height="5.20" fill="#9ad63a"/>
<rect x="540.70" y="153.51" width="2.00" height="5.20" fill="#86c42c"/>
<rect x="544.00" y="153.51" width="0.50" height="5.20" fill="#b2e04e"/>
<rect x="544.50" y="153.51" width="1.30" height="5.20" fill="#8ccf24"/>
<rect x="475.0" y="158.71" width="72" height="1.47" fill="#e8e8e8"/>
<rect x="476.1" y="123.86" width="2.6" height="1.8" fill="#b8b8b8"/>
<rect x="476.60" y="191.23" width="1.60" height="5.20" fill="#b2e04e"/>
<rect x="479.50" y="191.23" width="0.50" height="5.20" fill="#7cc021"/>
<rect x="481.00" y="191.23" width="0.50" height="5.20" fill="#94d030"/>
<rect x="485.90" y="191.23" width="0.80" height="5.20" fill="#a5dc45"/>
<rect x="486.70" y="191.23" width="0.80" height="5.20" fill="#86c42c"/>
<rect x="487.50" y="191.23" width="1.30" height="5.20" fill="#6f9c2a"/>
<rect x="488.80" y="191.23" width="2.00" height="5.20" fill="#7cc021"/>
<rect x="490.80" y="191.23" width="1.30" height="5.20" fill="#8ccf24"/>
<rect x="492.10" y="191.23" width="0.80" height="5.20" fill="#94d030"/>
<rect x="492.90" y="191.23" width="1.30" height="5.20" fill="#9ad63a"/>
<rect x="494.20" y="191.23" width="1.30" height="5.20" fill="#6f9c2a"/>
<rect x="495.50" y="191.23" width="0.80" height="5.20" fill="#86c42c"/>
<rect x="496.30" y="191.23" width="0.50" height="5.20" fill="#7cc021"/>
<rect x="496.80" y="191.23" width="2.00" height="5.20" fill="#b2e04e"/>
<rect x="498.80" y="191.23" width="1.30" height="5.20" fill="#6f9c2a"/>
<rect x="500.10" y="191.23" width="2.00" height="5.20" fill="#8ccf24"/>
<rect x="502.10" y="191.23" width="1.60" height="5.20" fill="#a5dc45"/>
<rect x="504.20" y="191.23" width="0.80" height="5.20" fill="#94d030"/>
<rect x="507.00" y="191.23" width="0.50" height="5.20" fill="#6f9c2a"/>
<rect x="507.50" y="191.23" width="1.00" height="5.20" fill="#b2e04e"/>
<rect x="508.50" y="191.23" width="2.00" height="5.20" fill="#6f9c2a"/>
<rect x="510.50" y="191.23" width="1.60" height="5.20" fill="#94d030"/>
<rect x="512.10" y="191.23" width="1.00" height="5.20" fill="#7cc021"/>
<rect x="513.10" y="191.23" width="1.60" height="5.20" fill="#7cc021"/>
<rect x="514.70" y="191.23" width="1.30" height="5.20" fill="#7cc021"/>
<rect x="516.00" y="191.23" width="1.30" height="5.20" fill="#a5dc45"/>
<rect x="517.30" y="191.23" width="0.50" height="5.20" fill="#94d030"/>
<rect x="517.80" y="191.23" width="1.00" height="5.20" fill="#b2e04e"/>
<rect x="523.10" y="191.23" width="1.00" height="5.20" fill="#86c42c"/>
<rect x="524.10" y="191.23" width="1.60" height="5.20" fill="#8ccf24"/>
<rect x="527.70" y="191.23" width="1.30" height="5.20" fill="#86c42c"/>
<rect x="529.00" y="191.23" width="0.80" height="5.20" fill="#94d030"/>
<rect x="530.30" y="191.23" width="1.60" height="5.20" fill="#8ccf24"/>
<rect x="532.70" y="191.23" width="1.00" height="5.20" fill="#86c42c"/>
<rect x="533.70" y="191.23" width="1.60" height="5.20" fill="#94d030"/>
<rect x="536.10" y="191.23" width="1.60" height="5.20" fill="#6f9c2a"/>
<rect x="537.70" y="191.23" width="1.60" height="5.20" fill="#8ccf24"/>
<rect x="539.30" y="191.23" width="2.00" height="5.20" fill="#6f9c2a"/>
<rect x="541.30" y="191.23" width="1.30" height="5.20" fill="#6f9c2a"/>
<rect x="542.60" y="191.23" width="0.80" height="5.20" fill="#94d030"/>
<rect x="544.40" y="191.23" width="1.00" height="5.20" fill="#7cc021"/>
<rect x="545.40" y="191.23" width="1.60" height="5.20" fill="#9ad63a"/>
<rect x="475.0" y="196.43" width="72" height="1.47" fill="#e8e8e8"/>
<rect x="476.1" y="161.58" width="2.6" height="1.8" fill="#b8b8b8"/>
<rect x="475.30" y="228.95" width="1.30" height="5.20" fill="#9ad63a"/>
<rect x="476.60" y="228.95" width="1.60" height="5.20" fill="#94d030"/>
<rect x="478.20" y="228.95" width="2.00" height="5.20" fill="#7cc021"/>
<rect x="480.20" y="228.95" width="0.50" height="5.20" fill="#a5dc45"/>
<rect x="485.10" y="228.95" width="1.00" height="5.20" fill="#8ccf24"/>
<rect x="486.10" y="228.95" width="1.60" height="5.20" fill="#86c42c"/>
<rect x="487.70" y="228.95" width="1.00" height="5.20" fill="#9ad63a"/>
<rect x="488.70" y="228.95" width="1.60" height="5.20" fill="#a5dc45"/>
<rect x="490.30" y="228.95" width="1.00" height="5.20" fill="#7cc021"/>
<rect x="491.30" y="228.95" width="1.00" height="5.20" fill="#6f9c2a"/>
<rect x="492.30" y="228.95" width="0.50" height="5.20" fill="#86c42c"/>
<rect x="492.80" y="228.95" width="2.00" height="5.20" fill="#9ad63a"/>
<rect x="494.80" y="228.95" width="0.50" height="5.20" fill="#7cc021"/>
<rect x="495.30" y="228.95" width="1.60" height="5.20" fill="#6f9c2a"/>
<rect x="496.90" y="228.95" width="1.30" height="5.20" fill="#b2e04e"/>
<rect x="498.20" y="228.95" width="0.50" height="5.20" fill="#9ad63a"/>
<rect x="499.70" y="228.95" width="1.60" height="5.20" fill="#86c42c"/>
<rect x="501.30" y="228.95" width="0.50" height="5.20" fill="#6f9c2a"/>
<rect x="501.80" y="228.95" width="2.00" height="5.20" fill="#7cc021"/>
<rect x="503.80" y="228.95" width="1.30" height="5.20" fill="#9ad63a"/>
<rect x="505.10" y="228.95" width="1.30" height="5.20" fill="#94d030"/>
<rect x="506.40" y="228.95" width="1.00" height="5.20" fill="#b2e04e"/>
<rect x="507.40" y="228.95" width="2.00" height="5.20" fill="#b2e04e"/>
<rect x="510.40" y="228.95" width="0.80" height="5.20" fill="#6f9c2a"/>
<rect x="511.20" y="228.95" width="0.80" height="5.20" fill="#9ad63a"/>
<rect x="512.00" y="228.95" width="0.80" height="5.20" fill="#86c42c"/>
<rect x="512.80" y="228.95" width="2.00" height="5.20" fill="#6f9c2a"/>
<rect x="514.80" y="228.95" width="1.00" height="5.20" fill="#6f9c2a"/>
<rect x="515.80" y="228.95" width="1.30" height="5.20" fill="#94d030"/>
<rect x="517.10" y="228.95" width="1.60" height="5.20" fill="#9ad63a"/>
<rect x="518.70" y="228.95" width="0.80" height="5.20" fill="#94d030"/>
<rect x="519.50" y="228.95" width="0.80" height="5.20" fill="#6f9c2a"/>
<rect x="522.60" y="228.95" width="1.00" height="5.20" fill="#b2e04e"/>
<rect x="523.60" y="228.95" width="1.60" height="5.20" fill="#7cc021"/>
<rect x="525.20" y="228.95" width="2.00" height="5.20" fill="#a5dc45"/>
<rect x="527.20" y="228.95" width="0.80" height="5.20" fill="#8ccf24"/>
<rect x="528.00" y="228.95" width="1.60" height="5.20" fill="#b2e04e"/>
<rect x="529.60" y="228.95" width="0.80" height="5.20" fill="#a5dc45"/>
<rect x="530.40" y="228.95" width="1.30" height="5.20" fill="#86c42c"/>
<rect x="533.80" y="228.95" width="1.60" height="5.20" fill="#94d030"/>
<rect x="538.20" y="228.95" width="0.50" height="5.20" fill="#6f9c2a"/>
<rect x="542.50" y="228.95" width="2.00" height="5.20" fill="#9ad63a"/>
<rect x="544.50" y="228.95" width="0.50" height="5.20" fill="#7cc021"/>
<rect x="475.0" y="234.15" width="72" height="1.47" fill="#e8e8e8"/>
<rect x="476.1" y="199.30" width="2.6" height="1.8" fill="#b8b8b8"/>
<rect x="475.30" y="266.67" width="0.50" height="5.20" fill="#a5dc45"/>
<rect x="476.60" y="266.67" width="0.80" height="5.20" fill="#86c42c"/>
<rect x="477.40" y="266.67" width="1.60" height="5.20" fill="#a5dc45"/>
<rect x="479.00" y="266.67" width="0.80" height="5.20" fill="#86c42c"/>
<rect x="479.80" y="266.67" width="2.00" height="5.20" fill="#86c42c"/>
<rect x="481.80" y="266.67" width="1.30" height="5.20" fill="#86c42c"/>
<rect x="483.60" y="266.67" width="1.00" height="5.20" fill="#9ad63a"/>
<rect x="484.60" y="266.67" width="2.00" height="5.20" fill="#a5dc45"/>
<rect x="486.60" y="266.67" width="1.60" height="5.20" fill="#9ad63a"/>
<rect x="488.20" y="266.67" width="0.50" height="5.20" fill="#9ad63a"/>
<rect x="488.70" y="266.67" width="1.60" height="5.20" fill="#9ad63a"/>
<rect x="490.30" y="266.67" width="0.50" height="5.20" fill="#6f9c2a"/>
<rect x="490.80" y="266.67" width="2.00" height="5.20" fill="#b2e04e"/>
<rect x="492.80" y="266.67" width="0.80" height="5.20" fill="#7cc021"/>
<rect x="493.60" y="266.67" width="2.00" height="5.20" fill="#8ccf24"/>
<rect x="495.60" y="266.67" width="0.50" height="5.20" fill="#6f9c2a"/>
<rect x="496.10" y="266.67" width="2.00" height="5.20" fill="#b2e04e"/>
<rect x="498.90" y="266.67" width="1.60" height="5.20" fill="#6f9c2a"/>
<rect x="500.50" y="266.67" width="1.00" height="5.20" fill="#9ad63a"/>
<rect x="501.50" y="266.67" width="2.00" height="5.20" fill="#94d030"/>
<rect x="503.50" y="266.67" width="1.30" height="5.20" fill="#6f9c2a"/>
<rect x="504.80" y="266.67" width="1.00" height="5.20" fill="#86c42c"/>
<rect x="507.80" y="266.67" width="1.60" height="5.20" fill="#6f9c2a"/>
<rect x="509.40" y="266.67" width="0.80" height="5.20" fill="#b2e04e"/>
<rect x="510.20" y="266.67" width="2.00" height="5.20" fill="#8ccf24"/>
<rect x="512.20" y="266.67" width="0.50" height="5.20" fill="#94d030"/>
<rect x="512.70" y="266.67" width="1.00" height="5.20" fill="#8ccf24"/>
<rect x="513.70" y="266.67" width="0.80" height="5.20" fill="#7cc021"/>
<rect x="514.50" y="266.67" width="2.00" height="5.20" fill="#7cc021"/>
<rect x="516.50" y="266.67" width="1.00" height="5.20" fill="#94d030"/>
<rect x="517.50" y="266.67" width="0.80" height="5.20" fill="#a5dc45"/>
<rect x="518.30" y="266.67" width="1.00" height="5.20" fill="#a5dc45"/>
<rect x="519.30" y="266.67" width="0.50" height="5.20" fill="#86c42c"/>
<rect x="519.80" y="266.67" width="0.80" height="5.20" fill="#9ad63a"/>
<rect x="520.60" y="266.67" width="0.80" height="5.20" fill="#b2e04e"/>
<rect x="521.40" y="266.67" width="2.00" height="5.20" fill="#9ad63a"/>
<rect x="523.40" y="266.67" width="1.60" height="5.20" fill="#86c42c"/>
<rect x="525.00" y="266.67" width="0.50" height="5.20" fill="#a5dc45"/>
<rect x="525.50" y="266.67" width="0.50" height="5.20" fill="#94d030"/>
<rect x="526.00" y="266.67" width="0.80" height="5.20" fill="#8ccf24"/>
<rect x="526.80" y="266.67" width="1.60" height="5.20" fill="#6f9c2a"/>
<rect x="528.40" y="266.67" width="2.00" height="5.20" fill="#6f9c2a"/>
<rect x="530.40" y="266.67" width="2.00" height="5.20" fill="#8ccf24"/>
<rect x="538.20" y="266.67" width="0.80" height="5.20" fill="#9ad63a"/>
<rect x="541.60" y="266.67" width="2.00" height="5.20" fill="#8ccf24"/>
<rect x="546.60" y="266.67" width="0.40" height="5.20" fill="#7cc021"/>
<rect x="475.0" y="271.87" width="72" height="1.47" fill="#e8e8e8"/>
<rect x="476.1" y="237.02" width="2.6" height="1.8" fill="#b8b8b8"/>
<rect x="475.30" y="305.79" width="1.60" height="3.80" fill="#a5dc45"/>
<rect x="476.90" y="305.79" width="2.00" height="3.80" fill="#6f9c2a"/>
<rect x="478.90" y="305.79" width="0.80" height="3.80" fill="#9ad63a"/>
<rect x="479.70" y="305.79" width="0.50" height="3.80" fill="#7cc021"/>
<rect x="480.20" y="305.79" width="0.80" height="3.80" fill="#94d030"/>
<rect x="481.00" y="305.79" width="0.80" height="3.80" fill="#a5dc45"/>
<rect x="481.80" y="305.79" width="1.60" height="3.80" fill="#9ad63a"/>
<rect x="483.40" y="305.79" width="1.00" height="3.80" fill="#7cc021"/>
<rect x="484.40" y="305.79" width="2.00" height="3.80" fill="#86c42c"/>
<rect x="486.40" y="305.79" width="1.30" height="3.80" fill="#7cc021"/>
<rect x="487.70" y="305.79" width="1.30" height="3.80" fill="#6f9c2a"/>
<rect x="489.00" y="305.79" width="1.60" height="3.80" fill="#6f9c2a"/>
<rect x="490.60" y="305.79" width="1.00" height="3.80" fill="#b2e04e"/>
<rect x="492.60" y="305.79" width="2.00" height="3.80" fill="#a5dc45"/>
<rect x="494.60" y="305.79" width="0.80" height="3.80" fill="#86c42c"/>
<rect x="495.40" y="305.79" width="1.60" height="3.80" fill="#6f9c2a"/>
<rect x="498.00" y="305.79" width="1.30" height="3.80" fill="#7cc021"/>
<rect x="499.30" y="305.79" width="0.50" height="3.80" fill="#6f9c2a"/>
<rect x="499.80" y="305.79" width="0.50" height="3.80" fill="#9ad63a"/>
<rect x="500.30" y="305.79" width="1.30" height="3.80" fill="#b2e04e"/>
<rect x="503.60" y="305.79" width="2.00" height="3.80" fill="#9ad63a"/>
<rect x="505.60" y="305.79" width="1.00" height="3.80" fill="#8ccf24"/>
<rect x="506.60" y="305.79" width="1.30" height="3.80" fill="#86c42c"/>
<rect x="507.90" y="305.79" width="2.00" height="3.80" fill="#b2e04e"/>
<rect x="509.90" y="305.79" width="1.60" height="3.80" fill="#6f9c2a"/>
<rect x="511.50" y="305.79" width="0.50" height="3.80" fill="#9ad63a"/>
<rect x="512.00" y="305.79" width="1.30" height="3.80" fill="#86c42c"/>
<rect x="513.30" y="305.79" width="0.80" height="3.80" fill="#94d030"/>
<rect x="514.10" y="305.79" width="1.60" height="3.80" fill="#7cc021"/>
<rect x="517.30" y="305.79" width="1.30" height="3.80" fill="#9ad63a"/>
<rect x="518.60" y="305.79" width="0.80" height="3.80" fill="#6f9c2a"/>
<rect x="519.40" y="305.79" width="1.60" height="3.80" fill="#8ccf24"/>
<rect x="521.00" y="305.79" width="0.50" height="3.80" fill="#7cc021"/>
<rect x="521.50" y="305.79" width="1.00" height="3.80" fill="#a5dc45"/>
<rect x="522.50" y="305.79" width="0.80" height="3.80" fill="#7cc021"/>
<rect x="523.30" y="305.79" width="0.50" height="3.80" fill="#86c42c"/>
<rect x="523.80" y="305.79" width="0.80" height="3.80" fill="#9ad63a"/>
<rect x="524.60" y="305.79" width="1.60" height="3.80" fill="#9ad63a"/>
<rect x="530.00" y="305.79" width="1.00" height="3.80" fill="#a5dc45"/>
<rect x="531.00" y="305.79" width="0.80" height="3.80" fill="#94d030"/>
<rect x="531.80" y="305.79" width="1.60" height="3.80" fill="#86c42c"/>
<rect x="533.40" y="305.79" width="1.60" height="3.80" fill="#94d030"/>
<rect x="538.10" y="305.79" width="1.30" height="3.80" fill="#8ccf24"/>
<rect x="540.90" y="305.79" width="0.50" height="3.80" fill="#8ccf24"/>
<rect x="541.40" y="305.79" width="0.50" height="3.80" fill="#9ad63a"/>
<rect x="541.90" y="305.79" width="0.80" height="3.80" fill="#8ccf24"/>
<rect x="542.70" y="305.79" width="1.60" height="3.80" fill="#8ccf24"/>
<rect x="546.30" y="305.79" width="0.50" height="3.80" fill="#9ad63a"/>
<rect x="546.80" y="305.79" width="0.20" height="3.80" fill="#86c42c"/>
<rect x="476.1" y="274.74" width="2.6" height="1.8" fill="#b8b8b8"/>
<rect x="482.80" y="9.3" width="16.50" height="300.29" fill="#bababa" fill-opacity="0.42"/>
<rect x="506.90" y="9.3" width="16.20" height="300.29" fill="#c58acb" fill-opacity="0.51"/>
<rect x="530.70" y="9.3" width="16.30" height="300.29" fill="#1a6292" fill-opacity="0.415"/>
<circle cx="522.9" cy="30.5" r="0.7" fill="#d02020" opacity="0.8"/><circle cx="525.3" cy="30.5" r="0.7" fill="#d02020" opacity="0.8"/>
<rect x="487.5" y="66.9" width="1.0" height="0.9" fill="#c02030" opacity="0.5"/>
<rect x="490.5" y="66.9" width="1.0" height="0.9" fill="#c02030" opacity="0.5"/>
<rect x="494" y="66.9" width="1.0" height="0.9" fill="#c02030" opacity="0.5"/>
<rect x="497" y="66.9" width="1.0" height="0.9" fill="#c02030" opacity="0.5"/>
<rect x="510.0" y="66.7" width="1.6" height="1.3" fill="#e0205a" opacity="0.9"/>
<text x="44.2" y="189.5" font-size="10.3" textLength="37.4" lengthAdjust="spacingAndGlyphs" fill="#262626" stroke="#262626" stroke-width="0.35">Baseline</text>
<rect x="12.10" y="197.90" width="12.82" height="13.87" fill="#e5e5f2"/>
<rect x="24.62" y="197.90" width="12.82" height="13.87" fill="#fae9da"/>
<rect x="37.14" y="197.90" width="12.82" height="13.87" fill="#faebdd"/>
<rect x="49.66" y="197.90" width="12.82" height="13.87" fill="#faebdd"/>
<rect x="62.18" y="197.90" width="12.82" height="13.87" fill="#fae9da"/>
<rect x="74.70" y="197.90" width="12.82" height="13.87" fill="#faebdd"/>
<rect x="87.22" y="197.90" width="12.82" height="13.87" fill="#f9e3d2"/>
<rect x="99.74" y="197.90" width="12.82" height="13.87" fill="#e5e5f2"/>
<rect x="12.10" y="211.47" width="12.82" height="13.87" fill="#faebdd"/>
<rect x="24.62" y="211.47" width="12.82" height="13.87" fill="#f9e0cd"/>
<rect x="37.14" y="211.47" width="12.82" height="13.87" fill="#fae9da"/>
<rect x="49.66" y="211.47" width="12.82" height="13.87" fill="#fae9da"/>
<rect x="62.18" y="211.47" width="12.82" height="13.87" fill="#f6c19f"/>
<rect x="74.70" y="211.47" width="12.82" height="13.87" fill="#fae9da"/>
<rect x="87.22" y="211.47" width="12.82" height="13.87" fill="#faebdd"/>
<rect x="99.74" y="211.47" width="12.82" height="13.87" fill="#f6b18b"/>
<rect x="12.10" y="225.04" width="12.82" height="13.87" fill="#faebdd"/>
<rect x="24.62" y="225.04" width="12.82" height="13.87" fill="#fae6d6"/>
<rect x="37.14" y="225.04" width="12.82" height="13.87" fill="#e5e5f2"/>
<rect x="49.66" y="225.04" width="12.82" height="13.87" fill="#e5e5f2"/>
<rect x="62.18" y="225.04" width="12.82" height="13.87" fill="#fae8d8"/>
<rect x="74.70" y="225.04" width="12.82" height="13.87" fill="#fae8d8"/>
<rect x="87.22" y="225.04" width="12.82" height="13.87" fill="#faebdd"/>
<rect x="99.74" y="225.04" width="12.82" height="13.87" fill="#fae9da"/>
<rect x="12.10" y="238.61" width="12.82" height="13.87" fill="#e5e5f2"/>
<rect x="24.62" y="238.61" width="12.82" height="13.87" fill="#e5e5f2"/>
<rect x="37.14" y="238.61" width="12.82" height="13.87" fill="#e5e5f2"/>
<rect x="49.66" y="238.61" width="12.82" height="13.87" fill="#fae9da"/>
<rect x="62.18" y="238.61" width="12.82" height="13.87" fill="#f8d4bc"/>
<rect x="74.70" y="238.61" width="12.82" height="13.87" fill="#faebdd"/>
<rect x="87.22" y="238.61" width="12.82" height="13.87" fill="#fae9da"/>
<rect x="99.74" y="238.61" width="12.82" height="13.87" fill="#f8d6be"/>
<rect x="12.10" y="252.18" width="12.82" height="13.87" fill="#fae9da"/>
<rect x="24.62" y="252.18" width="12.82" height="13.87" fill="#f9e2d0"/>
<rect x="37.14" y="252.18" width="12.82" height="13.87" fill="#fae8d8"/>
<rect x="49.66" y="252.18" width="12.82" height="13.87" fill="#f9e0cd"/>
<rect x="62.18" y="252.18" width="12.82" height="13.87" fill="#fae6d6"/>
<rect x="74.70" y="252.18" width="12.82" height="13.87" fill="#f9e0cd"/>
<rect x="87.22" y="252.18" width="12.82" height="13.87" fill="#f8d9c3"/>
<rect x="99.74" y="252.18" width="12.82" height="13.87" fill="#fae8d8"/>
<rect x="12.10" y="265.75" width="12.82" height="13.87" fill="#faebdd"/>
<rect x="24.62" y="265.75" width="12.82" height="13.87" fill="#fae8d8"/>
<rect x="37.14" y="265.75" width="12.82" height="13.87" fill="#e5e5f2"/>
<rect x="49.66" y="265.75" width="12.82" height="13.87" fill="#fae9da"/>
<rect x="62.18" y="265.75" width="12.82" height="13.87" fill="#fae8d8"/>
<rect x="74.70" y="265.75" width="12.82" height="13.87" fill="#fae9da"/>
<rect x="87.22" y="265.75" width="12.82" height="13.87" fill="#fae6d6"/>
<rect x="99.74" y="265.75" width="12.82" height="13.87" fill="#faebdd"/>
<rect x="12.10" y="279.32" width="12.82" height="13.87" fill="#fae9da"/>
<rect x="24.62" y="279.32" width="12.82" height="13.87" fill="#fae8d8"/>
<rect x="37.14" y="279.32" width="12.82" height="13.87" fill="#fae9da"/>
<rect x="49.66" y="279.32" width="12.82" height="13.87" fill="#e5e5f2"/>
<rect x="62.18" y="279.32" width="12.82" height="13.87" fill="#f9e5d4"/>
<rect x="74.70" y="279.32" width="12.82" height="13.87" fill="#fae9da"/>
<rect x="87.22" y="279.32" width="12.82" height="13.87" fill="#fae8d8"/>
<rect x="99.74" y="279.32" width="12.82" height="13.87" fill="#fae6d6"/>
<rect x="12.10" y="292.89" width="12.82" height="13.87" fill="#e5e5f2"/>
<rect x="24.62" y="292.89" width="12.82" height="13.87" fill="#fae8d8"/>
<rect x="37.14" y="292.89" width="12.82" height="13.87" fill="#fae9da"/>
<rect x="49.66" y="292.89" width="12.82" height="13.87" fill="#fae9da"/>
<rect x="62.18" y="292.89" width="12.82" height="13.87" fill="#fae9da"/>
<rect x="74.70" y="292.89" width="12.82" height="13.87" fill="#f6be9b"/>
<rect x="87.22" y="292.89" width="12.82" height="13.87" fill="#f9e3d2"/>
<rect x="99.74" y="292.89" width="12.82" height="13.87" fill="#e5e5f2"/>
<text x="30.65" y="206.88" font-size="6.2" letter-spacing="-0.45" text-anchor="middle" fill="#262626">14</text>
<text x="43.17" y="206.88" font-size="6.2" letter-spacing="-0.45" text-anchor="middle" fill="#262626">11</text>
<text x="55.70" y="206.88" font-size="6.2" letter-spacing="-0.45" text-anchor="middle" fill="#262626">8</text>
<text x="68.22" y="206.88" font-size="6.2" letter-spacing="-0.45" text-anchor="middle" fill="#262626">17</text>
<text x="80.73" y="206.88" font-size="6.2" letter-spacing="-0.45" text-anchor="middle" fill="#262626">11</text>
<text x="93.26" y="206.88" font-size="6.2" letter-spacing="-0.45" text-anchor="middle" fill="#262626">65</text>
<text x="18.13" y="220.45" font-size="6.2" letter-spacing="-0.45" text-anchor="middle" fill="#262626">9</text>
<text x="30.65" y="220.45" font-size="6.2" letter-spacing="-0.45" text-anchor="middle" fill="#262626">85</text>
<text x="43.17" y="220.45" font-size="6.2" letter-spacing="-0.45" text-anchor="middle" fill="#262626">16</text>
<text x="55.70" y="220.45" font-size="6.2" letter-spacing="-0.45" text-anchor="middle" fill="#262626">17</text>
<text x="68.22" y="220.45" font-size="6.2" letter-spacing="-0.45" text-anchor="middle" fill="#262626">331</text>
<text x="80.73" y="220.45" font-size="6.2" letter-spacing="-0.45" text-anchor="middle" fill="#262626">12</text>
<text x="93.26" y="220.45" font-size="6.2" letter-spacing="-0.45" text-anchor="middle" fill="#262626">6</text>
<text x="105.78" y="220.45" font-size="6.2" letter-spacing="-0.45" text-anchor="middle" fill="#262626">452</text>
<text x="18.13" y="234.03" font-size="6.2" letter-spacing="-0.45" text-anchor="middle" fill="#262626">9</text>
<text x="30.65" y="234.03" font-size="6.2" letter-spacing="-0.45" text-anchor="middle" fill="#262626">44</text>
<text x="68.22" y="234.03" font-size="6.2" letter-spacing="-0.45" text-anchor="middle" fill="#262626">26</text>
<text x="80.73" y="234.03" font-size="6.2" letter-spacing="-0.45" text-anchor="middle" fill="#262626">27</text>
<text x="93.26" y="234.03" font-size="6.2" letter-spacing="-0.45" text-anchor="middle" fill="#262626">9</text>
<text x="105.78" y="234.03" font-size="6.2" letter-spacing="-0.45" text-anchor="middle" fill="#262626">23</text>
<text x="55.70" y="247.59" font-size="6.2" letter-spacing="-0.45" text-anchor="middle" fill="#262626">17</text>
<text x="68.22" y="247.59" font-size="6.2" letter-spacing="-0.45" text-anchor="middle" fill="#262626">187</text>
<text x="80.73" y="247.59" font-size="6.2" letter-spacing="-0.45" text-anchor="middle" fill="#262626">8</text>
<text x="93.26" y="247.59" font-size="6.2" letter-spacing="-0.45" text-anchor="middle" fill="#262626">17</text>
<text x="105.78" y="247.59" font-size="6.2" letter-spacing="-0.45" text-anchor="middle" fill="#262626">173</text>
<text x="18.13" y="261.17" font-size="6.2" letter-spacing="-0.45" text-anchor="middle" fill="#262626">15</text>
<text x="30.65" y="261.17" font-size="6.2" letter-spacing="-0.45" text-anchor="middle" fill="#262626">74</text>
<text x="43.17" y="261.17" font-size="6.2" letter-spacing="-0.45" text-anchor="middle" fill="#262626">25</text>
<text x="55.70" y="261.17" font-size="6.2" letter-spacing="-0.45" text-anchor="middle" fill="#262626">85</text>
<text x="68.22" y="261.17" font-size="6.2" letter-spacing="-0.45" text-anchor="middle" fill="#262626">37</text>
<text x="80.73" y="261.17" font-size="6.2" letter-spacing="-0.45" text-anchor="middle" fill="#262626">88</text>
<text x="93.26" y="261.17" font-size="6.2" letter-spacing="-0.45" text-anchor="middle" fill="#262626">144</text>
<text x="105.78" y="261.17" font-size="6.2" letter-spacing="-0.45" text-anchor="middle" fill="#262626">33</text>
<text x="18.13" y="274.74" font-size="6.2" letter-spacing="-0.45" text-anchor="middle" fill="#262626">10</text>
<text x="30.65" y="274.74" font-size="6.2" letter-spacing="-0.45" text-anchor="middle" fill="#262626">31</text>
<text x="55.70" y="274.74" font-size="6.2" letter-spacing="-0.45" text-anchor="middle" fill="#262626">16</text>
<text x="68.22" y="274.74" font-size="6.2" letter-spacing="-0.45" text-anchor="middle" fill="#262626">32</text>
<text x="80.73" y="274.74" font-size="6.2" letter-spacing="-0.45" text-anchor="middle" fill="#262626">23</text>
<text x="93.26" y="274.74" font-size="6.2" letter-spacing="-0.45" text-anchor="middle" fill="#262626">36</text>
<text x="105.78" y="274.74" font-size="6.2" letter-spacing="-0.45" text-anchor="middle" fill="#262626">5</text>
<text x="18.13" y="288.31" font-size="6.2" letter-spacing="-0.45" text-anchor="middle" fill="#262626">16</text>
<text x="30.65" y="288.31" font-size="6.2" letter-spacing="-0.45" text-anchor="middle" fill="#262626">26</text>
<text x="43.17" y="288.31" font-size="6.2" letter-spacing="-0.45" text-anchor="middle" fill="#262626">20</text>
<text x="68.22" y="288.31" font-size="6.2" letter-spacing="-0.45" text-anchor="middle" fill="#262626">52</text>
<text x="80.73" y="288.31" font-size="6.2" letter-spacing="-0.45" text-anchor="middle" fill="#262626">22</text>
<text x="93.26" y="288.31" font-size="6.2" letter-spacing="-0.45" text-anchor="middle" fill="#262626">26</text>
<text x="105.78" y="288.31" font-size="6.2" letter-spacing="-0.45" text-anchor="middle" fill="#262626">38</text>
<text x="30.65" y="301.88" font-size="6.2" letter-spacing="-0.45" text-anchor="middle" fill="#262626">28</text>
<text x="43.17" y="301.88" font-size="6.2" letter-spacing="-0.45" text-anchor="middle" fill="#262626">13</text>
<text x="55.70" y="301.88" font-size="6.2" letter-spacing="-0.45" text-anchor="middle" fill="#262626">13</text>
<text x="68.22" y="301.88" font-size="6.2" letter-spacing="-0.45" text-anchor="middle" fill="#262626">18</text>
<text x="80.73" y="301.88" font-size="6.2" letter-spacing="-0.45" text-anchor="middle" fill="#262626">357</text>
<text x="93.26" y="301.88" font-size="6.2" letter-spacing="-0.45" text-anchor="middle" fill="#262626">66</text>
<text x="135.2" y="189.5" font-size="10.3" textLength="80.3" lengthAdjust="spacingAndGlyphs" fill="#262626" stroke="#262626" stroke-width="0.35">Depolarizing aCSF</text>
<rect x="125.60" y="197.90" width="12.82" height="13.87" fill="#e5e5f2"/>
<rect x="138.12" y="197.90" width="12.82" height="13.87" fill="#fae8d8"/>
<rect x="150.64" y="197.90" width="12.82" height="13.87" fill="#f8d9c3"/>
<rect x="163.16" y="197.90" width="12.82" height="13.87" fill="#f9e3d2"/>
<rect x="175.68" y="197.90" width="12.82" height="13.87" fill="#f26f4c"/>
<rect x="188.20" y="197.90" width="12.82" height="13.87" fill="#f8dac5"/>
<rect x="200.72" y="197.90" width="12.82" height="13.87" fill="#f6b089"/>
<rect x="213.24" y="197.90" width="12.82" height="13.87" fill="#e5e5f2"/>
<rect x="125.60" y="211.47" width="12.82" height="13.87" fill="#f9e2d0"/>
<rect x="138.12" y="211.47" width="12.82" height="13.87" fill="#e9423e"/>
<rect x="150.64" y="211.47" width="12.82" height="13.87" fill="#f8d7c0"/>
<rect x="163.16" y="211.47" width="12.82" height="13.87" fill="#f4865e"/>
<rect x="175.68" y="211.47" width="12.82" height="13.87" fill="#dc2b46"/>
<rect x="188.20" y="211.47" width="12.82" height="13.87" fill="#f8d3ba"/>
<rect x="200.72" y="211.47" width="12.82" height="13.87" fill="#faebdd"/>
<rect x="213.24" y="211.47" width="12.82" height="13.87" fill="#8c1d5b"/>
<rect x="125.60" y="225.04" width="12.82" height="13.87" fill="#c21753"/>
<rect x="138.12" y="225.04" width="12.82" height="13.87" fill="#f58d64"/>
<rect x="150.64" y="225.04" width="12.82" height="13.87" fill="#e5e5f2"/>
<rect x="163.16" y="225.04" width="12.82" height="13.87" fill="#e5e5f2"/>
<rect x="175.68" y="225.04" width="12.82" height="13.87" fill="#f8d7c0"/>
<rect x="188.20" y="225.04" width="12.82" height="13.87" fill="#f9ddc9"/>
<rect x="200.72" y="225.04" width="12.82" height="13.87" fill="#f8d6be"/>
<rect x="213.24" y="225.04" width="12.82" height="13.87" fill="#ed503e"/>
<rect x="125.60" y="238.61" width="12.82" height="13.87" fill="#e5e5f2"/>
<rect x="138.12" y="238.61" width="12.82" height="13.87" fill="#e5e5f2"/>
<rect x="150.64" y="238.61" width="12.82" height="13.87" fill="#e5e5f2"/>
<rect x="163.16" y="238.61" width="12.82" height="13.87" fill="#f8d4bc"/>
<rect x="175.68" y="238.61" width="12.82" height="13.87" fill="#f9e3d2"/>
<rect x="188.20" y="238.61" width="12.82" height="13.87" fill="#fae9da"/>
<rect x="200.72" y="238.61" width="12.82" height="13.87" fill="#f8d1b8"/>
<rect x="213.24" y="238.61" width="12.82" height="13.87" fill="#f4835b"/>
<rect x="125.60" y="252.18" width="12.82" height="13.87" fill="#fae9da"/>
<rect x="138.12" y="252.18" width="12.82" height="13.87" fill="#f9e2d0"/>
<rect x="150.64" y="252.18" width="12.82" height="13.87" fill="#f69e75"/>
<rect x="163.16" y="252.18" width="12.82" height="13.87" fill="#f6b18b"/>
<rect x="175.68" y="252.18" width="12.82" height="13.87" fill="#f9e2d0"/>
<rect x="188.20" y="252.18" width="12.82" height="13.87" fill="#f8d9c3"/>
<rect x="200.72" y="252.18" width="12.82" height="13.87" fill="#f6ad85"/>
<rect x="213.24" y="252.18" width="12.82" height="13.87" fill="#f8d3ba"/>
<rect x="125.60" y="265.75" width="12.82" height="13.87" fill="#f7ccaf"/>
<rect x="138.12" y="265.75" width="12.82" height="13.87" fill="#f16445"/>
<rect x="150.64" y="265.75" width="12.82" height="13.87" fill="#e5e5f2"/>
<rect x="163.16" y="265.75" width="12.82" height="13.87" fill="#f7caac"/>
<rect x="175.68" y="265.75" width="12.82" height="13.87" fill="#f5966c"/>
<rect x="188.20" y="265.75" width="12.82" height="13.87" fill="#fae9da"/>
<rect x="200.72" y="265.75" width="12.82" height="13.87" fill="#f9e0cd"/>
<rect x="213.24" y="265.75" width="12.82" height="13.87" fill="#faebdd"/>
<rect x="125.60" y="279.32" width="12.82" height="13.87" fill="#aa185a"/>
<rect x="138.12" y="279.32" width="12.82" height="13.87" fill="#f6b38d"/>
<rect x="150.64" y="279.32" width="12.82" height="13.87" fill="#f9e2d0"/>
<rect x="163.16" y="279.32" width="12.82" height="13.87" fill="#e5e5f2"/>
<rect x="175.68" y="279.32" width="12.82" height="13.87" fill="#f9e0cd"/>
<rect x="188.20" y="279.32" width="12.82" height="13.87" fill="#f9dfcb"/>
<rect x="200.72" y="279.32" width="12.82" height="13.87" fill="#f9dfcb"/>
<rect x="213.24" y="279.32" width="12.82" height="13.87" fill="#fae8d8"/>
<rect x="125.60" y="292.89" width="12.82" height="13.87" fill="#e5e5f2"/>
<rect x="138.12" y="292.89" width="12.82" height="13.87" fill="#f5946b"/>
<rect x="150.64" y="292.89" width="12.82" height="13.87" fill="#2e1739"/>
<rect x="163.16" y="292.89" width="12.82" height="13.87" fill="#faebdd"/>
<rect x="175.68" y="292.89" width="12.82" height="13.87" fill="#fae6d6"/>
<rect x="188.20" y="292.89" width="12.82" height="13.87" fill="#841e5a"/>
<rect x="200.72" y="292.89" width="12.82" height="13.87" fill="#f7caac"/>
<rect x="213.24" y="292.89" width="12.82" height="13.87" fill="#e5e5f2"/>
<text x="144.16" y="206.88" font-size="6.2" letter-spacing="-0.45" text-anchor="middle" fill="#262626">26</text>
<text x="156.67" y="206.88" font-size="6.2" letter-spacing="-0.45" text-anchor="middle" fill="#262626">143</text>
<text x="169.19" y="206.88" font-size="6.2" letter-spacing="-0.45" text-anchor="middle" fill="#262626">69</text>
<text x="181.72" y="206.88" font-size="6.2" letter-spacing="-0.45" text-anchor="middle" fill="#ffffff">911</text>
<text x="194.23" y="206.88" font-size="6.2" letter-spacing="-0.45" text-anchor="middle" fill="#262626">133</text>
<text x="206.75" y="206.88" font-size="6.2" letter-spacing="-0.45" text-anchor="middle" fill="#262626">468</text>
<text x="131.63" y="220.45" font-size="6.2" letter-spacing="-0.45" text-anchor="middle" fill="#262626">78</text>
<text x="144.16" y="220.45" font-size="6.2" letter-spacing="-0.45" text-anchor="middle" fill="#ffffff">1181</text>
<text x="156.67" y="220.45" font-size="6.2" letter-spacing="-0.45" text-anchor="middle" fill="#262626">161</text>
<text x="169.19" y="220.45" font-size="6.2" letter-spacing="-0.45" text-anchor="middle" fill="#ffffff">756</text>
<text x="181.72" y="220.45" font-size="6.2" letter-spacing="-0.45" text-anchor="middle" fill="#ffffff">1346</text>
<text x="194.23" y="220.45" font-size="6.2" letter-spacing="-0.45" text-anchor="middle" fill="#262626">194</text>
<text x="206.75" y="220.45" font-size="6.2" letter-spacing="-0.45" text-anchor="middle" fill="#262626">4</text>
<text x="219.28" y="220.45" font-size="6.2" letter-spacing="-0.45" text-anchor="middle" fill="#ffffff">1943</text>
<text x="131.63" y="234.03" font-size="6.2" letter-spacing="-0.45" text-anchor="middle" fill="#ffffff">1568</text>
<text x="144.16" y="234.03" font-size="6.2" letter-spacing="-0.45" text-anchor="middle" fill="#ffffff">710</text>
<text x="181.72" y="234.03" font-size="6.2" letter-spacing="-0.45" text-anchor="middle" fill="#262626">158</text>
<text x="194.23" y="234.03" font-size="6.2" letter-spacing="-0.45" text-anchor="middle" fill="#262626">117</text>
<text x="206.75" y="234.03" font-size="6.2" letter-spacing="-0.45" text-anchor="middle" fill="#262626">175</text>
<text x="219.28" y="234.03" font-size="6.2" letter-spacing="-0.45" text-anchor="middle" fill="#ffffff">1101</text>
<text x="169.19" y="247.59" font-size="6.2" letter-spacing="-0.45" text-anchor="middle" fill="#262626">183</text>
<text x="181.72" y="247.59" font-size="6.2" letter-spacing="-0.45" text-anchor="middle" fill="#262626">67</text>
<text x="194.23" y="247.59" font-size="6.2" letter-spacing="-0.45" text-anchor="middle" fill="#262626">12</text>
<text x="206.75" y="247.59" font-size="6.2" letter-spacing="-0.45" text-anchor="middle" fill="#262626">207</text>
<text x="219.28" y="247.59" font-size="6.2" letter-spacing="-0.45" text-anchor="middle" fill="#ffffff">780</text>
<text x="131.63" y="261.17" font-size="6.2" letter-spacing="-0.45" text-anchor="middle" fill="#262626">13</text>
<text x="144.16" y="261.17" font-size="6.2" letter-spacing="-0.45" text-anchor="middle" fill="#262626">80</text>
<text x="156.67" y="261.17" font-size="6.2" letter-spacing="-0.45" text-anchor="middle" fill="#262626">593</text>
<text x="169.19" y="261.17" font-size="6.2" letter-spacing="-0.45" text-anchor="middle" fill="#262626">455</text>
<text x="181.72" y="261.17" font-size="6.2" letter-spacing="-0.45" text-anchor="middle" fill="#262626">72</text>
<text x="194.23" y="261.17" font-size="6.2" letter-spacing="-0.45" text-anchor="middle" fill="#262626">150</text>
<text x="206.75" y="261.17" font-size="6.2" letter-spacing="-0.45" text-anchor="middle" fill="#262626">481</text>
<text x="219.28" y="261.17" font-size="6.2" letter-spacing="-0.45" text-anchor="middle" fill="#262626">189</text>
<text x="131.63" y="274.74" font-size="6.2" letter-spacing="-0.45" text-anchor="middle" fill="#262626">248</text>
<text x="144.16" y="274.74" font-size="6.2" letter-spacing="-0.45" text-anchor="middle" fill="#ffffff">976</text>
<text x="169.19" y="274.74" font-size="6.2" letter-spacing="-0.45" text-anchor="middle" fill="#262626">267</text>
<text x="181.72" y="274.74" font-size="6.2" letter-spacing="-0.45" text-anchor="middle" fill="#262626">652</text>
<text x="194.23" y="274.74" font-size="6.2" letter-spacing="-0.45" text-anchor="middle" fill="#262626">17</text>
<text x="206.75" y="274.74" font-size="6.2" letter-spacing="-0.45" text-anchor="middle" fill="#262626">88</text>
<text x="219.28" y="274.74" font-size="6.2" letter-spacing="-0.45" text-anchor="middle" fill="#262626">8</text>
<text x="131.63" y="288.31" font-size="6.2" letter-spacing="-0.45" text-anchor="middle" fill="#ffffff">1739</text>
<text x="144.16" y="288.31" font-size="6.2" letter-spacing="-0.45" text-anchor="middle" fill="#262626">441</text>
<text x="156.67" y="288.31" font-size="6.2" letter-spacing="-0.45" text-anchor="middle" fill="#262626">79</text>
<text x="181.72" y="288.31" font-size="6.2" letter-spacing="-0.45" text-anchor="middle" fill="#262626">85</text>
<text x="194.23" y="288.31" font-size="6.2" letter-spacing="-0.45" text-anchor="middle" fill="#262626">103</text>
<text x="206.75" y="288.31" font-size="6.2" letter-spacing="-0.45" text-anchor="middle" fill="#262626">103</text>
<text x="219.28" y="288.31" font-size="6.2" letter-spacing="-0.45" text-anchor="middle" fill="#262626">24</text>
<text x="144.16" y="301.88" font-size="6.2" letter-spacing="-0.45" text-anchor="middle" fill="#262626">665</text>
<text x="156.67" y="301.88" font-size="6.2" letter-spacing="-0.45" text-anchor="middle" fill="#ffffff">2634</text>
<text x="169.19" y="301.88" font-size="6.2" letter-spacing="-0.45" text-anchor="middle" fill="#262626">10</text>
<text x="181.72" y="301.88" font-size="6.2" letter-spacing="-0.45" text-anchor="middle" fill="#262626">38</text>
<text x="194.23" y="301.88" font-size="6.2" letter-spacing="-0.45" text-anchor="middle" fill="#ffffff">1998</text>
<text x="206.75" y="301.88" font-size="6.2" letter-spacing="-0.45" text-anchor="middle" fill="#262626">261</text>
<text x="246.6" y="189.5" font-size="10.3" textLength="85.2" lengthAdjust="spacingAndGlyphs" fill="#262626" stroke="#262626" stroke-width="0.35">Regular aCSF + TTX</text>
<rect x="239.15" y="197.90" width="12.82" height="13.87" fill="#e5e5f2"/>
<rect x="251.67" y="197.90" width="12.82" height="13.87" fill="#f7c7a8"/>
<rect x="264.19" y="197.90" width="12.82" height="13.87" fill="#f9ddc9"/>
<rect x="276.71" y="197.90" width="12.82" height="13.87" fill="#fae8d8"/>
<rect x="289.23" y="197.90" width="12.82" height="13.87" fill="#f7d0b5"/>
<rect x="301.75" y="197.90" width="12.82" height="13.87" fill="#f8d9c3"/>
<rect x="314.27" y="197.90" width="12.82" height="13.87" fill="#f6be9b"/>
<rect x="326.79" y="197.90" width="12.82" height="13.87" fill="#e5e5f2"/>
<rect x="239.15" y="211.47" width="12.82" height="13.87" fill="#fae6d6"/>
<rect x="251.67" y="211.47" width="12.82" height="13.87" fill="#af1759"/>
<rect x="264.19" y="211.47" width="12.82" height="13.87" fill="#f9e3d2"/>
<rect x="276.71" y="211.47" width="12.82" height="13.87" fill="#fae6d6"/>
<rect x="289.23" y="211.47" width="12.82" height="13.87" fill="#f8dcc7"/>
<rect x="301.75" y="211.47" width="12.82" height="13.87" fill="#f8d6be"/>
<rect x="314.27" y="211.47" width="12.82" height="13.87" fill="#fae9da"/>
<rect x="326.79" y="211.47" width="12.82" height="13.87" fill="#f7c6a6"/>
<rect x="239.15" y="225.04" width="12.82" height="13.87" fill="#f37852"/>
<rect x="251.67" y="225.04" width="12.82" height="13.87" fill="#f7d0b5"/>
<rect x="264.19" y="225.04" width="12.82" height="13.87" fill="#e5e5f2"/>
<rect x="276.71" y="225.04" width="12.82" height="13.87" fill="#e5e5f2"/>
<rect x="289.23" y="225.04" width="12.82" height="13.87" fill="#f9e5d4"/>
<rect x="301.75" y="225.04" width="12.82" height="13.87" fill="#fae8d8"/>
<rect x="314.27" y="225.04" width="12.82" height="13.87" fill="#fae9da"/>
<rect x="326.79" y="225.04" width="12.82" height="13.87" fill="#f8d9c3"/>
<rect x="239.15" y="238.61" width="12.82" height="13.87" fill="#e5e5f2"/>
<rect x="251.67" y="238.61" width="12.82" height="13.87" fill="#e5e5f2"/>
<rect x="264.19" y="238.61" width="12.82" height="13.87" fill="#e5e5f2"/>
<rect x="276.71" y="238.61" width="12.82" height="13.87" fill="#fae9da"/>
<rect x="289.23" y="238.61" width="12.82" height="13.87" fill="#fae9da"/>
<rect x="301.75" y="238.61" width="12.82" height="13.87" fill="#fae9da"/>
<rect x="314.27" y="238.61" width="12.82" height="13.87" fill="#fae9da"/>
<rect x="326.79" y="238.61" width="12.82" height="13.87" fill="#fae9da"/>
<rect x="239.15" y="252.18" width="12.82" height="13.87" fill="#faebdd"/>
<rect x="251.67" y="252.18" width="12.82" height="13.87" fill="#f9e5d4"/>
<rect x="264.19" y="252.18" width="12.82" height="13.87" fill="#f6a880"/>
<rect x="276.71" y="252.18" width="12.82" height="13.87" fill="#fae8d8"/>
<rect x="289.23" y="252.18" width="12.82" height="13.87" fill="#faebdd"/>
<rect x="301.75" y="252.18" width="12.82" height="13.87" fill="#fae9da"/>
<rect x="314.27" y="252.18" width="12.82" height="13.87" fill="#faebdd"/>
<rect x="326.79" y="252.18" width="12.82" height="13.87" fill="#f9e5d4"/>
<rect x="239.15" y="265.75" width="12.82" height="13.87" fill="#f6ae87"/>
<rect x="251.67" y="265.75" width="12.82" height="13.87" fill="#f6c19f"/>
<rect x="264.19" y="265.75" width="12.82" height="13.87" fill="#e5e5f2"/>
<rect x="276.71" y="265.75" width="12.82" height="13.87" fill="#fae9da"/>
<rect x="289.23" y="265.75" width="12.82" height="13.87" fill="#fae9da"/>
<rect x="301.75" y="265.75" width="12.82" height="13.87" fill="#fae8d8"/>
<rect x="314.27" y="265.75" width="12.82" height="13.87" fill="#981b5b"/>
<rect x="326.79" y="265.75" width="12.82" height="13.87" fill="#f9dfcb"/>
<rect x="239.15" y="279.32" width="12.82" height="13.87" fill="#f37852"/>
<rect x="251.67" y="279.32" width="12.82" height="13.87" fill="#f7caac"/>
<rect x="264.19" y="279.32" width="12.82" height="13.87" fill="#f6a67e"/>
<rect x="276.71" y="279.32" width="12.82" height="13.87" fill="#e5e5f2"/>
<rect x="289.23" y="279.32" width="12.82" height="13.87" fill="#fae9da"/>
<rect x="301.75" y="279.32" width="12.82" height="13.87" fill="#fae9da"/>
<rect x="314.27" y="279.32" width="12.82" height="13.87" fill="#f9e5d4"/>
<rect x="326.79" y="279.32" width="12.82" height="13.87" fill="#f9e0cd"/>
<rect x="239.15" y="292.89" width="12.82" height="13.87" fill="#e5e5f2"/>
<rect x="251.67" y="292.89" width="12.82" height="13.87" fill="#f6b48f"/>
<rect x="264.19" y="292.89" width="12.82" height="13.87" fill="#f6b691"/>
<rect x="276.71" y="292.89" width="12.82" height="13.87" fill="#fae9da"/>
<rect x="289.23" y="292.89" width="12.82" height="13.87" fill="#fae9da"/>
<rect x="301.75" y="292.89" width="12.82" height="13.87" fill="#f6bc99"/>
<rect x="314.27" y="292.89" width="12.82" height="13.87" fill="#f5966c"/>
<rect x="326.79" y="292.89" width="12.82" height="13.87" fill="#e5e5f2"/>
<text x="257.70" y="206.88" font-size="6.2" letter-spacing="-0.45" text-anchor="middle" fill="#262626">291</text>
<text x="270.22" y="206.88" font-size="6.2" letter-spacing="-0.45" text-anchor="middle" fill="#262626">113</text>
<text x="282.75" y="206.88" font-size="6.2" letter-spacing="-0.45" text-anchor="middle" fill="#262626">28</text>
<text x="295.26" y="206.88" font-size="6.2" letter-spacing="-0.45" text-anchor="middle" fill="#262626">219</text>
<text x="307.78" y="206.88" font-size="6.2" letter-spacing="-0.45" text-anchor="middle" fill="#262626">147</text>
<text x="320.30" y="206.88" font-size="6.2" letter-spacing="-0.45" text-anchor="middle" fill="#262626">357</text>
<text x="245.19" y="220.45" font-size="6.2" letter-spacing="-0.45" text-anchor="middle" fill="#262626">36</text>
<text x="257.70" y="220.45" font-size="6.2" letter-spacing="-0.45" text-anchor="middle" fill="#ffffff">1710</text>
<text x="270.22" y="220.45" font-size="6.2" letter-spacing="-0.45" text-anchor="middle" fill="#262626">65</text>
<text x="282.75" y="220.45" font-size="6.2" letter-spacing="-0.45" text-anchor="middle" fill="#262626">42</text>
<text x="295.26" y="220.45" font-size="6.2" letter-spacing="-0.45" text-anchor="middle" fill="#262626">127</text>
<text x="307.78" y="220.45" font-size="6.2" letter-spacing="-0.45" text-anchor="middle" fill="#262626">169</text>
<text x="320.30" y="220.45" font-size="6.2" letter-spacing="-0.45" text-anchor="middle" fill="#262626">13</text>
<text x="332.82" y="220.45" font-size="6.2" letter-spacing="-0.45" text-anchor="middle" fill="#262626">300</text>
<text x="245.19" y="234.03" font-size="6.2" letter-spacing="-0.45" text-anchor="middle" fill="#ffffff">850</text>
<text x="257.70" y="234.03" font-size="6.2" letter-spacing="-0.45" text-anchor="middle" fill="#262626">215</text>
<text x="295.26" y="234.03" font-size="6.2" letter-spacing="-0.45" text-anchor="middle" fill="#262626">58</text>
<text x="307.78" y="234.03" font-size="6.2" letter-spacing="-0.45" text-anchor="middle" fill="#262626">33</text>
<text x="320.30" y="234.03" font-size="6.2" letter-spacing="-0.45" text-anchor="middle" fill="#262626">22</text>
<text x="332.82" y="234.03" font-size="6.2" letter-spacing="-0.45" text-anchor="middle" fill="#262626">146</text>
<text x="282.75" y="247.59" font-size="6.2" letter-spacing="-0.45" text-anchor="middle" fill="#262626">22</text>
<text x="295.26" y="247.59" font-size="6.2" letter-spacing="-0.45" text-anchor="middle" fill="#262626">14</text>
<text x="307.78" y="247.59" font-size="6.2" letter-spacing="-0.45" text-anchor="middle" fill="#262626">13</text>
<text x="320.30" y="247.59" font-size="6.2" letter-spacing="-0.45" text-anchor="middle" fill="#262626">17</text>
<text x="332.82" y="247.59" font-size="6.2" letter-spacing="-0.45" text-anchor="middle" fill="#262626">23</text>
<text x="245.19" y="261.17" font-size="6.2" letter-spacing="-0.45" text-anchor="middle" fill="#262626">6</text>
<text x="257.70" y="261.17" font-size="6.2" letter-spacing="-0.45" text-anchor="middle" fill="#262626">54</text>
<text x="270.22" y="261.17" font-size="6.2" letter-spacing="-0.45" text-anchor="middle" fill="#262626">522</text>
<text x="282.75" y="261.17" font-size="6.2" letter-spacing="-0.45" text-anchor="middle" fill="#262626">25</text>
<text x="295.26" y="261.17" font-size="6.2" letter-spacing="-0.45" text-anchor="middle" fill="#262626">9</text>
<text x="307.78" y="261.17" font-size="6.2" letter-spacing="-0.45" text-anchor="middle" fill="#262626">16</text>
<text x="320.30" y="261.17" font-size="6.2" letter-spacing="-0.45" text-anchor="middle" fill="#262626">11</text>
<text x="332.82" y="261.17" font-size="6.2" letter-spacing="-0.45" text-anchor="middle" fill="#262626">57</text>
<text x="245.19" y="274.74" font-size="6.2" letter-spacing="-0.45" text-anchor="middle" fill="#262626">469</text>
<text x="257.70" y="274.74" font-size="6.2" letter-spacing="-0.45" text-anchor="middle" fill="#262626">330</text>
<text x="282.75" y="274.74" font-size="6.2" letter-spacing="-0.45" text-anchor="middle" fill="#262626">23</text>
<text x="295.26" y="274.74" font-size="6.2" letter-spacing="-0.45" text-anchor="middle" fill="#262626">19</text>
<text x="307.78" y="274.74" font-size="6.2" letter-spacing="-0.45" text-anchor="middle" fill="#262626">34</text>
<text x="320.30" y="274.74" font-size="6.2" letter-spacing="-0.45" text-anchor="middle" fill="#ffffff">1860</text>
<text x="332.82" y="274.74" font-size="6.2" letter-spacing="-0.45" text-anchor="middle" fill="#262626">96</text>
<text x="245.19" y="288.31" font-size="6.2" letter-spacing="-0.45" text-anchor="middle" fill="#ffffff">855</text>
<text x="257.70" y="288.31" font-size="6.2" letter-spacing="-0.45" text-anchor="middle" fill="#262626">266</text>
<text x="270.22" y="288.31" font-size="6.2" letter-spacing="-0.45" text-anchor="middle" fill="#262626">539</text>
<text x="295.26" y="288.31" font-size="6.2" letter-spacing="-0.45" text-anchor="middle" fill="#262626">12</text>
<text x="307.78" y="288.31" font-size="6.2" letter-spacing="-0.45" text-anchor="middle" fill="#262626">17</text>
<text x="320.30" y="288.31" font-size="6.2" letter-spacing="-0.45" text-anchor="middle" fill="#262626">58</text>
<text x="332.82" y="288.31" font-size="6.2" letter-spacing="-0.45" text-anchor="middle" fill="#262626">86</text>
<text x="257.70" y="301.88" font-size="6.2" letter-spacing="-0.45" text-anchor="middle" fill="#262626">425</text>
<text x="270.22" y="301.88" font-size="6.2" letter-spacing="-0.45" text-anchor="middle" fill="#262626">421</text>
<text x="282.75" y="301.88" font-size="6.2" letter-spacing="-0.45" text-anchor="middle" fill="#262626">12</text>
<text x="295.26" y="301.88" font-size="6.2" letter-spacing="-0.45" text-anchor="middle" fill="#262626">19</text>
<text x="307.78" y="301.88" font-size="6.2" letter-spacing="-0.45" text-anchor="middle" fill="#262626">372</text>
<text x="320.30" y="301.88" font-size="6.2" letter-spacing="-0.45" text-anchor="middle" fill="#262626">645</text>
<defs><linearGradient id="cbg" x1="0" y1="1" x2="0" y2="0">
<stop offset="0.000" stop-color="#faebdd"/>
<stop offset="0.050" stop-color="#f8d9c3"/>
<stop offset="0.100" stop-color="#f7c6a6"/>
<stop offset="0.150" stop-color="#f6b18b"/>
<stop offset="0.200" stop-color="#f69c73"/>
<stop offset="0.250" stop-color="#f4865e"/>
<stop offset="0.300" stop-color="#f3714d"/>
<stop offset="0.350" stop-color="#ef5840"/>
<stop offset="0.400" stop-color="#e83f3f"/>
<stop offset="0.450" stop-color="#db2946"/>
<stop offset="0.500" stop-color="#ca1a50"/>
<stop offset="0.550" stop-color="#b71657"/>
<stop offset="0.600" stop-color="#a11a5b"/>
<stop offset="0.650" stop-color="#8b1d5b"/>
<stop offset="0.700" stop-color="#751f58"/>
<stop offset="0.750" stop-color="#601f52"/>
<stop offset="0.800" stop-color="#4c1d4b"/>
<stop offset="0.850" stop-color="#381a40"/>
<stop offset="0.900" stop-color="#251433"/>
<stop offset="0.950" stop-color="#130d25"/>
<stop offset="1.000" stop-color="#03051a"/>
</linearGradient></defs>
<rect x="345.7" y="197.4" width="4.2" height="109.1" fill="url(#cbg)"/>
<line x1="349.9" y1="306.50" x2="353.9" y2="306.50" stroke="#262626" stroke-width="0.8"/>
<text x="356.4" y="308.70" font-size="6" fill="#262626">0</text>
<line x1="349.9" y1="288.32" x2="353.9" y2="288.32" stroke="#262626" stroke-width="0.8"/>
<text x="356.4" y="290.52" font-size="6" fill="#262626">500</text>
<line x1="349.9" y1="270.13" x2="353.9" y2="270.13" stroke="#262626" stroke-width="0.8"/>
<text x="356.4" y="272.33" font-size="6" fill="#262626">1000</text>
<line x1="349.9" y1="251.95" x2="353.9" y2="251.95" stroke="#262626" stroke-width="0.8"/>
<text x="356.4" y="254.15" font-size="6" fill="#262626">1500</text>
<line x1="349.9" y1="233.77" x2="353.9" y2="233.77" stroke="#262626" stroke-width="0.8"/>
<text x="356.4" y="235.97" font-size="6" fill="#262626">2000</text>
<line x1="349.9" y1="215.58" x2="353.9" y2="215.58" stroke="#262626" stroke-width="0.8"/>
<text x="356.4" y="217.78" font-size="6" fill="#262626">2500</text>
<line x1="349.9" y1="197.40" x2="353.9" y2="197.40" stroke="#262626" stroke-width="0.8"/>
<text x="356.4" y="199.60" font-size="6" fill="#262626">3000</text>
</svg></body></html>
